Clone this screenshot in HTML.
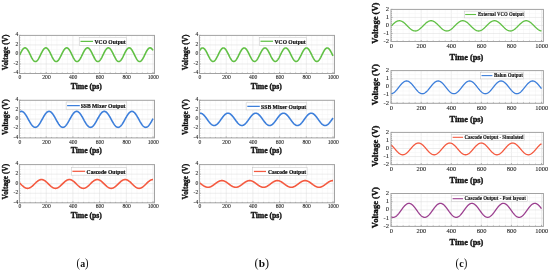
<!DOCTYPE html>
<html><head><meta charset="utf-8"><style>
html,body{margin:0;padding:0;background:#fff;}
body{width:550px;height:272px;overflow:hidden;position:relative;}
svg{position:absolute;left:0;top:0;}
svg text{font-family:"Liberation Serif", "Times New Roman", serif;}
</style></head><body>
<svg width="550" height="272" viewBox="0 0 550 272">
<line x1="24.84" y1="35.4" x2="24.84" y2="73.5" stroke="#f2f2f2" stroke-width="0.5"/>
<line x1="30.18" y1="35.4" x2="30.18" y2="73.5" stroke="#f2f2f2" stroke-width="0.5"/>
<line x1="35.52" y1="35.4" x2="35.52" y2="73.5" stroke="#f2f2f2" stroke-width="0.5"/>
<line x1="40.86" y1="35.4" x2="40.86" y2="73.5" stroke="#f2f2f2" stroke-width="0.5"/>
<line x1="46.2" y1="35.4" x2="46.2" y2="73.5" stroke="#dadada" stroke-width="0.5"/>
<line x1="51.54" y1="35.4" x2="51.54" y2="73.5" stroke="#f2f2f2" stroke-width="0.5"/>
<line x1="56.88" y1="35.4" x2="56.88" y2="73.5" stroke="#f2f2f2" stroke-width="0.5"/>
<line x1="62.22" y1="35.4" x2="62.22" y2="73.5" stroke="#f2f2f2" stroke-width="0.5"/>
<line x1="67.56" y1="35.4" x2="67.56" y2="73.5" stroke="#f2f2f2" stroke-width="0.5"/>
<line x1="72.9" y1="35.4" x2="72.9" y2="73.5" stroke="#dadada" stroke-width="0.5"/>
<line x1="78.24" y1="35.4" x2="78.24" y2="73.5" stroke="#f2f2f2" stroke-width="0.5"/>
<line x1="83.58" y1="35.4" x2="83.58" y2="73.5" stroke="#f2f2f2" stroke-width="0.5"/>
<line x1="88.92" y1="35.4" x2="88.92" y2="73.5" stroke="#f2f2f2" stroke-width="0.5"/>
<line x1="94.26" y1="35.4" x2="94.26" y2="73.5" stroke="#f2f2f2" stroke-width="0.5"/>
<line x1="99.6" y1="35.4" x2="99.6" y2="73.5" stroke="#dadada" stroke-width="0.5"/>
<line x1="104.94" y1="35.4" x2="104.94" y2="73.5" stroke="#f2f2f2" stroke-width="0.5"/>
<line x1="110.28" y1="35.4" x2="110.28" y2="73.5" stroke="#f2f2f2" stroke-width="0.5"/>
<line x1="115.62" y1="35.4" x2="115.62" y2="73.5" stroke="#f2f2f2" stroke-width="0.5"/>
<line x1="120.96" y1="35.4" x2="120.96" y2="73.5" stroke="#f2f2f2" stroke-width="0.5"/>
<line x1="126.3" y1="35.4" x2="126.3" y2="73.5" stroke="#dadada" stroke-width="0.5"/>
<line x1="131.64" y1="35.4" x2="131.64" y2="73.5" stroke="#f2f2f2" stroke-width="0.5"/>
<line x1="136.98" y1="35.4" x2="136.98" y2="73.5" stroke="#f2f2f2" stroke-width="0.5"/>
<line x1="142.32" y1="35.4" x2="142.32" y2="73.5" stroke="#f2f2f2" stroke-width="0.5"/>
<line x1="147.66" y1="35.4" x2="147.66" y2="73.5" stroke="#f2f2f2" stroke-width="0.5"/>
<line x1="153" y1="35.4" x2="153" y2="73.5" stroke="#dadada" stroke-width="0.5"/>
<line x1="19.4" y1="68.74" x2="154.5" y2="68.74" stroke="#f2f2f2" stroke-width="0.5"/>
<line x1="19.4" y1="63.98" x2="154.5" y2="63.98" stroke="#dadada" stroke-width="0.5"/>
<line x1="19.4" y1="59.21" x2="154.5" y2="59.21" stroke="#f2f2f2" stroke-width="0.5"/>
<line x1="19.4" y1="54.45" x2="154.5" y2="54.45" stroke="#dadada" stroke-width="0.5"/>
<line x1="19.4" y1="49.69" x2="154.5" y2="49.69" stroke="#f2f2f2" stroke-width="0.5"/>
<line x1="19.4" y1="44.92" x2="154.5" y2="44.92" stroke="#dadada" stroke-width="0.5"/>
<line x1="19.4" y1="40.16" x2="154.5" y2="40.16" stroke="#f2f2f2" stroke-width="0.5"/>
<line x1="19.5" y1="73.5" x2="19.5" y2="72" stroke="#777" stroke-width="0.6"/>
<line x1="24.84" y1="73.5" x2="24.84" y2="72.6" stroke="#777" stroke-width="0.6"/>
<line x1="30.18" y1="73.5" x2="30.18" y2="72.6" stroke="#777" stroke-width="0.6"/>
<line x1="35.52" y1="73.5" x2="35.52" y2="72.6" stroke="#777" stroke-width="0.6"/>
<line x1="40.86" y1="73.5" x2="40.86" y2="72.6" stroke="#777" stroke-width="0.6"/>
<line x1="46.2" y1="73.5" x2="46.2" y2="72" stroke="#777" stroke-width="0.6"/>
<line x1="51.54" y1="73.5" x2="51.54" y2="72.6" stroke="#777" stroke-width="0.6"/>
<line x1="56.88" y1="73.5" x2="56.88" y2="72.6" stroke="#777" stroke-width="0.6"/>
<line x1="62.22" y1="73.5" x2="62.22" y2="72.6" stroke="#777" stroke-width="0.6"/>
<line x1="67.56" y1="73.5" x2="67.56" y2="72.6" stroke="#777" stroke-width="0.6"/>
<line x1="72.9" y1="73.5" x2="72.9" y2="72" stroke="#777" stroke-width="0.6"/>
<line x1="78.24" y1="73.5" x2="78.24" y2="72.6" stroke="#777" stroke-width="0.6"/>
<line x1="83.58" y1="73.5" x2="83.58" y2="72.6" stroke="#777" stroke-width="0.6"/>
<line x1="88.92" y1="73.5" x2="88.92" y2="72.6" stroke="#777" stroke-width="0.6"/>
<line x1="94.26" y1="73.5" x2="94.26" y2="72.6" stroke="#777" stroke-width="0.6"/>
<line x1="99.6" y1="73.5" x2="99.6" y2="72" stroke="#777" stroke-width="0.6"/>
<line x1="104.94" y1="73.5" x2="104.94" y2="72.6" stroke="#777" stroke-width="0.6"/>
<line x1="110.28" y1="73.5" x2="110.28" y2="72.6" stroke="#777" stroke-width="0.6"/>
<line x1="115.62" y1="73.5" x2="115.62" y2="72.6" stroke="#777" stroke-width="0.6"/>
<line x1="120.96" y1="73.5" x2="120.96" y2="72.6" stroke="#777" stroke-width="0.6"/>
<line x1="126.3" y1="73.5" x2="126.3" y2="72" stroke="#777" stroke-width="0.6"/>
<line x1="131.64" y1="73.5" x2="131.64" y2="72.6" stroke="#777" stroke-width="0.6"/>
<line x1="136.98" y1="73.5" x2="136.98" y2="72.6" stroke="#777" stroke-width="0.6"/>
<line x1="142.32" y1="73.5" x2="142.32" y2="72.6" stroke="#777" stroke-width="0.6"/>
<line x1="147.66" y1="73.5" x2="147.66" y2="72.6" stroke="#777" stroke-width="0.6"/>
<line x1="153" y1="73.5" x2="153" y2="72" stroke="#777" stroke-width="0.6"/>
<line x1="19.4" y1="73.5" x2="20.9" y2="73.5" stroke="#777" stroke-width="0.6"/>
<line x1="19.4" y1="71.12" x2="20.3" y2="71.12" stroke="#777" stroke-width="0.6"/>
<line x1="19.4" y1="68.74" x2="20.3" y2="68.74" stroke="#777" stroke-width="0.6"/>
<line x1="19.4" y1="66.36" x2="20.3" y2="66.36" stroke="#777" stroke-width="0.6"/>
<line x1="19.4" y1="63.98" x2="20.9" y2="63.98" stroke="#777" stroke-width="0.6"/>
<line x1="19.4" y1="61.59" x2="20.3" y2="61.59" stroke="#777" stroke-width="0.6"/>
<line x1="19.4" y1="59.21" x2="20.3" y2="59.21" stroke="#777" stroke-width="0.6"/>
<line x1="19.4" y1="56.83" x2="20.3" y2="56.83" stroke="#777" stroke-width="0.6"/>
<line x1="19.4" y1="54.45" x2="20.9" y2="54.45" stroke="#777" stroke-width="0.6"/>
<line x1="19.4" y1="52.07" x2="20.3" y2="52.07" stroke="#777" stroke-width="0.6"/>
<line x1="19.4" y1="49.69" x2="20.3" y2="49.69" stroke="#777" stroke-width="0.6"/>
<line x1="19.4" y1="47.31" x2="20.3" y2="47.31" stroke="#777" stroke-width="0.6"/>
<line x1="19.4" y1="44.92" x2="20.9" y2="44.92" stroke="#777" stroke-width="0.6"/>
<line x1="19.4" y1="42.54" x2="20.3" y2="42.54" stroke="#777" stroke-width="0.6"/>
<line x1="19.4" y1="40.16" x2="20.3" y2="40.16" stroke="#777" stroke-width="0.6"/>
<line x1="19.4" y1="37.78" x2="20.3" y2="37.78" stroke="#777" stroke-width="0.6"/>
<line x1="19.4" y1="35.4" x2="20.9" y2="35.4" stroke="#777" stroke-width="0.6"/>
<polyline points="19.5,55.3 19.77,54.75 20.03,54.2 20.3,53.65 20.57,53.11 20.84,52.57 21.1,52.06 21.37,51.56 21.64,51.08 21.9,50.62 22.17,50.19 22.44,49.79 22.7,49.42 22.97,49.09 23.24,48.79 23.5,48.53 23.77,48.31 24.04,48.13 24.31,47.99 24.57,47.9 24.84,47.85 25.11,47.85 25.37,47.89 25.64,47.97 25.91,48.1 26.18,48.27 26.44,48.48 26.71,48.73 26.98,49.02 27.24,49.35 27.51,49.71 27.78,50.11 28.04,50.53 28.31,50.98 28.58,51.46 28.84,51.96 29.11,52.47 29.38,53 29.65,53.54 29.91,54.09 30.18,54.64 30.45,55.19 30.71,55.74 30.98,56.28 31.25,56.81 31.52,57.33 31.78,57.83 32.05,58.31 32.32,58.77 32.58,59.2 32.85,59.6 33.12,59.97 33.38,60.31 33.65,60.61 33.92,60.87 34.19,61.09 34.45,61.27 34.72,61.41 34.99,61.5 35.25,61.55 35.52,61.55 35.79,61.52 36.05,61.43 36.32,61.31 36.59,61.14 36.86,60.93 37.12,60.67 37.39,60.38 37.66,60.06 37.92,59.7 38.19,59.3 38.46,58.88 38.72,58.43 38.99,57.95 39.26,57.46 39.52,56.94 39.79,56.41 40.06,55.87 40.33,55.33 40.59,54.78 40.86,54.22 41.13,53.68 41.39,53.13 41.66,52.6 41.93,52.08 42.2,51.58 42.46,51.1 42.73,50.64 43,50.21 43.26,49.81 43.53,49.44 43.8,49.1 44.06,48.8 44.33,48.54 44.6,48.32 44.86,48.14 45.13,48 45.4,47.9 45.67,47.85 45.93,47.84 46.2,47.88 46.47,47.96 46.73,48.09 47,48.26 47.27,48.47 47.53,48.72 47.8,49.01 48.07,49.33 48.34,49.69 48.6,50.09 48.87,50.51 49.14,50.96 49.4,51.43 49.67,51.93 49.94,52.44 50.2,52.97 50.47,53.51 50.74,54.06 51.01,54.61 51.27,55.16 51.54,55.71 51.81,56.25 52.07,56.78 52.34,57.3 52.61,57.8 52.88,58.29 53.14,58.74 53.41,59.18 53.68,59.58 53.94,59.95 54.21,60.29 54.48,60.59 54.74,60.85 55.01,61.08 55.28,61.26 55.55,61.4 55.81,61.5 56.08,61.55 56.35,61.56 56.61,61.52 56.88,61.44 57.15,61.31 57.41,61.15 57.68,60.94 57.95,60.69 58.22,60.4 58.48,60.08 58.75,59.72 59.02,59.32 59.28,58.9 59.55,58.45 59.82,57.98 60.08,57.48 60.35,56.97 60.62,56.44 60.88,55.9 61.15,55.36 61.42,54.81 61.69,54.25 61.95,53.7 62.22,53.16 62.49,52.63 62.75,52.11 63.02,51.61 63.29,51.13 63.55,50.67 63.82,50.23 64.09,49.83 64.36,49.46 64.62,49.12 64.89,48.82 65.16,48.55 65.42,48.33 65.69,48.14 65.96,48 66.22,47.91 66.49,47.85 66.76,47.84 67.03,47.88 67.29,47.96 67.56,48.08 67.83,48.25 68.09,48.46 68.36,48.7 68.63,48.99 68.9,49.32 69.16,49.67 69.43,50.07 69.7,50.49 69.96,50.94 70.23,51.41 70.5,51.9 70.76,52.42 71.03,52.94 71.3,53.48 71.56,54.03 71.83,54.58 72.1,55.13 72.37,55.68 72.63,56.22 72.9,56.76 73.17,57.28 73.43,57.78 73.7,58.26 73.97,58.72 74.23,59.15 74.5,59.56 74.77,59.93 75.04,60.27 75.3,60.58 75.57,60.84 75.84,61.07 76.1,61.25 76.37,61.39 76.64,61.49 76.91,61.55 77.17,61.56 77.44,61.52 77.71,61.44 77.97,61.32 78.24,61.16 78.51,60.95 78.77,60.7 79.04,60.42 79.31,60.09 79.58,59.74 79.84,59.34 80.11,58.92 80.38,58.48 80.64,58 80.91,57.51 81.18,57 81.44,56.47 81.71,55.93 81.98,55.39 82.25,54.83 82.51,54.28 82.78,53.73 83.05,53.19 83.31,52.66 83.58,52.14 83.85,51.63 84.11,51.15 84.38,50.69 84.65,50.26 84.92,49.85 85.18,49.48 85.45,49.14 85.72,48.83 85.98,48.57 86.25,48.34 86.52,48.15 86.78,48.01 87.05,47.91 87.32,47.85 87.58,47.84 87.85,47.88 88.12,47.95 88.39,48.07 88.65,48.24 88.92,48.44 89.19,48.69 89.45,48.98 89.72,49.3 89.99,49.65 90.25,50.04 90.52,50.46 90.79,50.91 91.06,51.38 91.32,51.88 91.59,52.39 91.86,52.92 92.12,53.45 92.39,54 92.66,54.55 92.92,55.1 93.19,55.65 93.46,56.2 93.73,56.73 93.99,57.25 94.26,57.75 94.53,58.24 94.79,58.7 95.06,59.13 95.33,59.54 95.59,59.91 95.86,60.26 96.13,60.56 96.4,60.83 96.66,61.06 96.93,61.24 97.2,61.39 97.46,61.49 97.73,61.54 98,61.56 98.27,61.53 98.53,61.45 98.8,61.33 99.07,61.17 99.33,60.96 99.6,60.72 99.87,60.43 100.13,60.11 100.4,59.76 100.67,59.37 100.94,58.95 101.2,58.5 101.47,58.03 101.74,57.54 102,57.02 102.27,56.5 102.54,55.96 102.8,55.41 103.07,54.86 103.34,54.31 103.61,53.76 103.87,53.22 104.14,52.69 104.41,52.16 104.67,51.66 104.94,51.18 105.21,50.71 105.47,50.28 105.74,49.87 106.01,49.5 106.28,49.15 106.54,48.85 106.81,48.58 107.08,48.35 107.34,48.16 107.61,48.02 107.88,47.91 108.14,47.86 108.41,47.84 108.68,47.87 108.94,47.95 109.21,48.07 109.48,48.23 109.75,48.43 110.01,48.68 110.28,48.96 110.55,49.28 110.81,49.63 111.08,50.02 111.35,50.44 111.61,50.89 111.88,51.36 112.15,51.85 112.42,52.36 112.68,52.89 112.95,53.43 113.22,53.97 113.48,54.52 113.75,55.07 114.02,55.62 114.28,56.17 114.55,56.7 114.82,57.22 115.09,57.73 115.35,58.21 115.62,58.67 115.89,59.11 116.15,59.52 116.42,59.9 116.69,60.24 116.95,60.55 117.22,60.82 117.49,61.05 117.76,61.23 118.02,61.38 118.29,61.48 118.56,61.54 118.82,61.56 119.09,61.53 119.36,61.45 119.62,61.34 119.89,61.18 120.16,60.97 120.43,60.73 120.69,60.45 120.96,60.13 121.23,59.77 121.49,59.39 121.76,58.97 122.03,58.52 122.3,58.05 122.56,57.56 122.83,57.05 123.1,56.53 123.36,55.99 123.63,55.44 123.9,54.89 124.16,54.34 124.43,53.79 124.7,53.25 124.97,52.71 125.23,52.19 125.5,51.69 125.77,51.2 126.03,50.74 126.3,50.3 126.57,49.89 126.83,49.51 127.1,49.17 127.37,48.86 127.64,48.59 127.9,48.36 128.17,48.17 128.44,48.02 128.7,47.92 128.97,47.86 129.24,47.84 129.5,47.87 129.77,47.94 130.04,48.06 130.31,48.22 130.57,48.42 130.84,48.66 131.11,48.94 131.37,49.26 131.64,49.62 131.91,50 132.17,50.42 132.44,50.86 132.71,51.33 132.97,51.82 133.24,52.33 133.51,52.86 133.78,53.4 134.04,53.94 134.31,54.49 134.58,55.05 134.84,55.59 135.11,56.14 135.38,56.67 135.64,57.19 135.91,57.7 136.18,58.19 136.45,58.65 136.71,59.09 136.98,59.5 137.25,59.88 137.51,60.22 137.78,60.53 138.05,60.8 138.31,61.03 138.58,61.22 138.85,61.37 139.12,61.48 139.38,61.54 139.65,61.56 139.92,61.53 140.18,61.46 140.45,61.34 140.72,61.19 140.99,60.99 141.25,60.74 141.52,60.46 141.79,60.15 142.05,59.79 142.32,59.41 142.59,58.99 142.85,58.55 143.12,58.08 143.39,57.59 143.66,57.08 143.92,56.55 144.19,56.02 144.46,55.47 144.72,54.92 144.99,54.37 145.26,53.82 145.52,53.28 145.79,52.74 146.06,52.22 146.32,51.71 146.59,51.23 146.86,50.76 147.13,50.32 147.39,49.91 147.66,49.53 147.93,49.19 148.19,48.88 148.46,48.6 148.73,48.37 149,48.18 149.26,48.03 149.53,47.92 149.8,47.86 150.06,47.84 150.33,47.87 150.6,47.94 150.86,48.05 151.13,48.21 151.4,48.41 151.66,48.65 151.93,48.93 152.2,49.24 152.47,49.6 152.73,49.98 153,50.4" fill="none" stroke="#61c045" stroke-width="1.6" stroke-linejoin="round" stroke-linecap="butt"/>
<rect x="19.4" y="35.4" width="135.1" height="38.1" fill="none" stroke="#a2a2a2" stroke-width="1.0"/>
<rect x="79.6" y="37.3" width="46.9" height="8.2" fill="#fff" stroke="#c4c4c4" stroke-width="0.5"/>
<line x1="80.5" y1="41.4" x2="93" y2="41.4" stroke="#61c045" stroke-width="1.25"/>
<text x="94.6" y="43.75" font-size="5.6" font-weight="bold" textLength="31.1" lengthAdjust="spacingAndGlyphs" fill="#111" stroke="#111" stroke-width="0.2">VCO Output</text>
<text x="18.2" y="74.35" font-size="5.6" text-anchor="end" fill="#1a1a1a" stroke="#1a1a1a" stroke-width="0.08">-4</text>
<text x="18.2" y="64.82" font-size="5.6" text-anchor="end" fill="#1a1a1a" stroke="#1a1a1a" stroke-width="0.08">-2</text>
<text x="18.2" y="55.3" font-size="5.6" text-anchor="end" fill="#1a1a1a" stroke="#1a1a1a" stroke-width="0.08">0</text>
<text x="18.2" y="45.77" font-size="5.6" text-anchor="end" fill="#1a1a1a" stroke="#1a1a1a" stroke-width="0.08">2</text>
<text x="18.2" y="36.25" font-size="5.6" text-anchor="end" fill="#1a1a1a" stroke="#1a1a1a" stroke-width="0.08">4</text>
<text x="19.8" y="79.1" font-size="5.6" text-anchor="middle" fill="#1a1a1a" stroke="#1a1a1a" stroke-width="0.08">0</text>
<text x="46.5" y="79.1" font-size="5.6" text-anchor="middle" fill="#1a1a1a" stroke="#1a1a1a" stroke-width="0.08">200</text>
<text x="73.2" y="79.1" font-size="5.6" text-anchor="middle" fill="#1a1a1a" stroke="#1a1a1a" stroke-width="0.08">400</text>
<text x="99.9" y="79.1" font-size="5.6" text-anchor="middle" fill="#1a1a1a" stroke="#1a1a1a" stroke-width="0.08">600</text>
<text x="126.6" y="79.1" font-size="5.6" text-anchor="middle" fill="#1a1a1a" stroke="#1a1a1a" stroke-width="0.08">800</text>
<text x="153.3" y="79.1" font-size="5.6" text-anchor="middle" fill="#1a1a1a" stroke="#1a1a1a" stroke-width="0.08">1000</text>
<text x="86.3" y="88.8" font-size="7.7" font-weight="bold" text-anchor="middle" fill="#111" stroke="#111" stroke-width="0.35">Time (ps)</text>
<text transform="translate(8.15,52.4) rotate(-90)" font-size="7.42" font-weight="bold" text-anchor="middle" fill="#111" stroke="#111" stroke-width="0.35">Voltage (V)</text>
<line x1="24.84" y1="100.3" x2="24.84" y2="137.9" stroke="#f2f2f2" stroke-width="0.5"/>
<line x1="30.18" y1="100.3" x2="30.18" y2="137.9" stroke="#f2f2f2" stroke-width="0.5"/>
<line x1="35.52" y1="100.3" x2="35.52" y2="137.9" stroke="#f2f2f2" stroke-width="0.5"/>
<line x1="40.86" y1="100.3" x2="40.86" y2="137.9" stroke="#f2f2f2" stroke-width="0.5"/>
<line x1="46.2" y1="100.3" x2="46.2" y2="137.9" stroke="#dadada" stroke-width="0.5"/>
<line x1="51.54" y1="100.3" x2="51.54" y2="137.9" stroke="#f2f2f2" stroke-width="0.5"/>
<line x1="56.88" y1="100.3" x2="56.88" y2="137.9" stroke="#f2f2f2" stroke-width="0.5"/>
<line x1="62.22" y1="100.3" x2="62.22" y2="137.9" stroke="#f2f2f2" stroke-width="0.5"/>
<line x1="67.56" y1="100.3" x2="67.56" y2="137.9" stroke="#f2f2f2" stroke-width="0.5"/>
<line x1="72.9" y1="100.3" x2="72.9" y2="137.9" stroke="#dadada" stroke-width="0.5"/>
<line x1="78.24" y1="100.3" x2="78.24" y2="137.9" stroke="#f2f2f2" stroke-width="0.5"/>
<line x1="83.58" y1="100.3" x2="83.58" y2="137.9" stroke="#f2f2f2" stroke-width="0.5"/>
<line x1="88.92" y1="100.3" x2="88.92" y2="137.9" stroke="#f2f2f2" stroke-width="0.5"/>
<line x1="94.26" y1="100.3" x2="94.26" y2="137.9" stroke="#f2f2f2" stroke-width="0.5"/>
<line x1="99.6" y1="100.3" x2="99.6" y2="137.9" stroke="#dadada" stroke-width="0.5"/>
<line x1="104.94" y1="100.3" x2="104.94" y2="137.9" stroke="#f2f2f2" stroke-width="0.5"/>
<line x1="110.28" y1="100.3" x2="110.28" y2="137.9" stroke="#f2f2f2" stroke-width="0.5"/>
<line x1="115.62" y1="100.3" x2="115.62" y2="137.9" stroke="#f2f2f2" stroke-width="0.5"/>
<line x1="120.96" y1="100.3" x2="120.96" y2="137.9" stroke="#f2f2f2" stroke-width="0.5"/>
<line x1="126.3" y1="100.3" x2="126.3" y2="137.9" stroke="#dadada" stroke-width="0.5"/>
<line x1="131.64" y1="100.3" x2="131.64" y2="137.9" stroke="#f2f2f2" stroke-width="0.5"/>
<line x1="136.98" y1="100.3" x2="136.98" y2="137.9" stroke="#f2f2f2" stroke-width="0.5"/>
<line x1="142.32" y1="100.3" x2="142.32" y2="137.9" stroke="#f2f2f2" stroke-width="0.5"/>
<line x1="147.66" y1="100.3" x2="147.66" y2="137.9" stroke="#f2f2f2" stroke-width="0.5"/>
<line x1="153" y1="100.3" x2="153" y2="137.9" stroke="#dadada" stroke-width="0.5"/>
<line x1="19.4" y1="133.2" x2="154.5" y2="133.2" stroke="#f2f2f2" stroke-width="0.5"/>
<line x1="19.4" y1="128.5" x2="154.5" y2="128.5" stroke="#dadada" stroke-width="0.5"/>
<line x1="19.4" y1="123.8" x2="154.5" y2="123.8" stroke="#f2f2f2" stroke-width="0.5"/>
<line x1="19.4" y1="119.1" x2="154.5" y2="119.1" stroke="#dadada" stroke-width="0.5"/>
<line x1="19.4" y1="114.4" x2="154.5" y2="114.4" stroke="#f2f2f2" stroke-width="0.5"/>
<line x1="19.4" y1="109.7" x2="154.5" y2="109.7" stroke="#dadada" stroke-width="0.5"/>
<line x1="19.4" y1="105" x2="154.5" y2="105" stroke="#f2f2f2" stroke-width="0.5"/>
<line x1="19.5" y1="137.9" x2="19.5" y2="136.4" stroke="#777" stroke-width="0.6"/>
<line x1="24.84" y1="137.9" x2="24.84" y2="137" stroke="#777" stroke-width="0.6"/>
<line x1="30.18" y1="137.9" x2="30.18" y2="137" stroke="#777" stroke-width="0.6"/>
<line x1="35.52" y1="137.9" x2="35.52" y2="137" stroke="#777" stroke-width="0.6"/>
<line x1="40.86" y1="137.9" x2="40.86" y2="137" stroke="#777" stroke-width="0.6"/>
<line x1="46.2" y1="137.9" x2="46.2" y2="136.4" stroke="#777" stroke-width="0.6"/>
<line x1="51.54" y1="137.9" x2="51.54" y2="137" stroke="#777" stroke-width="0.6"/>
<line x1="56.88" y1="137.9" x2="56.88" y2="137" stroke="#777" stroke-width="0.6"/>
<line x1="62.22" y1="137.9" x2="62.22" y2="137" stroke="#777" stroke-width="0.6"/>
<line x1="67.56" y1="137.9" x2="67.56" y2="137" stroke="#777" stroke-width="0.6"/>
<line x1="72.9" y1="137.9" x2="72.9" y2="136.4" stroke="#777" stroke-width="0.6"/>
<line x1="78.24" y1="137.9" x2="78.24" y2="137" stroke="#777" stroke-width="0.6"/>
<line x1="83.58" y1="137.9" x2="83.58" y2="137" stroke="#777" stroke-width="0.6"/>
<line x1="88.92" y1="137.9" x2="88.92" y2="137" stroke="#777" stroke-width="0.6"/>
<line x1="94.26" y1="137.9" x2="94.26" y2="137" stroke="#777" stroke-width="0.6"/>
<line x1="99.6" y1="137.9" x2="99.6" y2="136.4" stroke="#777" stroke-width="0.6"/>
<line x1="104.94" y1="137.9" x2="104.94" y2="137" stroke="#777" stroke-width="0.6"/>
<line x1="110.28" y1="137.9" x2="110.28" y2="137" stroke="#777" stroke-width="0.6"/>
<line x1="115.62" y1="137.9" x2="115.62" y2="137" stroke="#777" stroke-width="0.6"/>
<line x1="120.96" y1="137.9" x2="120.96" y2="137" stroke="#777" stroke-width="0.6"/>
<line x1="126.3" y1="137.9" x2="126.3" y2="136.4" stroke="#777" stroke-width="0.6"/>
<line x1="131.64" y1="137.9" x2="131.64" y2="137" stroke="#777" stroke-width="0.6"/>
<line x1="136.98" y1="137.9" x2="136.98" y2="137" stroke="#777" stroke-width="0.6"/>
<line x1="142.32" y1="137.9" x2="142.32" y2="137" stroke="#777" stroke-width="0.6"/>
<line x1="147.66" y1="137.9" x2="147.66" y2="137" stroke="#777" stroke-width="0.6"/>
<line x1="153" y1="137.9" x2="153" y2="136.4" stroke="#777" stroke-width="0.6"/>
<line x1="19.4" y1="137.9" x2="20.9" y2="137.9" stroke="#777" stroke-width="0.6"/>
<line x1="19.4" y1="135.55" x2="20.3" y2="135.55" stroke="#777" stroke-width="0.6"/>
<line x1="19.4" y1="133.2" x2="20.3" y2="133.2" stroke="#777" stroke-width="0.6"/>
<line x1="19.4" y1="130.85" x2="20.3" y2="130.85" stroke="#777" stroke-width="0.6"/>
<line x1="19.4" y1="128.5" x2="20.9" y2="128.5" stroke="#777" stroke-width="0.6"/>
<line x1="19.4" y1="126.15" x2="20.3" y2="126.15" stroke="#777" stroke-width="0.6"/>
<line x1="19.4" y1="123.8" x2="20.3" y2="123.8" stroke="#777" stroke-width="0.6"/>
<line x1="19.4" y1="121.45" x2="20.3" y2="121.45" stroke="#777" stroke-width="0.6"/>
<line x1="19.4" y1="119.1" x2="20.9" y2="119.1" stroke="#777" stroke-width="0.6"/>
<line x1="19.4" y1="116.75" x2="20.3" y2="116.75" stroke="#777" stroke-width="0.6"/>
<line x1="19.4" y1="114.4" x2="20.3" y2="114.4" stroke="#777" stroke-width="0.6"/>
<line x1="19.4" y1="112.05" x2="20.3" y2="112.05" stroke="#777" stroke-width="0.6"/>
<line x1="19.4" y1="109.7" x2="20.9" y2="109.7" stroke="#777" stroke-width="0.6"/>
<line x1="19.4" y1="107.35" x2="20.3" y2="107.35" stroke="#777" stroke-width="0.6"/>
<line x1="19.4" y1="105" x2="20.3" y2="105" stroke="#777" stroke-width="0.6"/>
<line x1="19.4" y1="102.65" x2="20.3" y2="102.65" stroke="#777" stroke-width="0.6"/>
<line x1="19.4" y1="100.3" x2="20.9" y2="100.3" stroke="#777" stroke-width="0.6"/>
<polyline points="19.5,112.12 19.77,111.92 20.03,111.76 20.3,111.62 20.57,111.51 20.84,111.43 21.1,111.38 21.37,111.36 21.64,111.37 21.9,111.41 22.17,111.47 22.44,111.57 22.7,111.69 22.97,111.85 23.24,112.03 23.5,112.23 23.77,112.47 24.04,112.73 24.31,113.01 24.57,113.32 24.84,113.65 25.11,114 25.37,114.37 25.64,114.75 25.91,115.16 26.18,115.58 26.44,116.01 26.71,116.46 26.98,116.92 27.24,117.39 27.51,117.86 27.78,118.34 28.04,118.82 28.31,119.31 28.58,119.79 28.84,120.27 29.11,120.75 29.38,121.23 29.65,121.7 29.91,122.16 30.18,122.61 30.45,123.04 30.71,123.47 30.98,123.87 31.25,124.27 31.52,124.64 31.78,124.99 32.05,125.33 32.32,125.64 32.58,125.92 32.85,126.19 33.12,126.43 33.38,126.64 33.65,126.82 33.92,126.98 34.19,127.11 34.45,127.21 34.72,127.28 34.99,127.33 35.25,127.34 35.52,127.32 35.79,127.28 36.05,127.2 36.32,127.1 36.59,126.97 36.86,126.81 37.12,126.62 37.39,126.4 37.66,126.16 37.92,125.9 38.19,125.61 38.46,125.29 38.72,124.96 38.99,124.6 39.26,124.23 39.52,123.84 39.79,123.43 40.06,123 40.33,122.56 40.59,122.11 40.86,121.65 41.13,121.18 41.39,120.71 41.66,120.23 41.93,119.74 42.2,119.26 42.46,118.77 42.73,118.29 43,117.81 43.26,117.34 43.53,116.87 43.8,116.42 44.06,115.97 44.33,115.54 44.6,115.12 44.86,114.72 45.13,114.33 45.4,113.96 45.67,113.61 45.93,113.29 46.2,112.98 46.47,112.7 46.73,112.44 47,112.21 47.27,112.01 47.53,111.83 47.8,111.68 48.07,111.56 48.34,111.47 48.6,111.4 48.87,111.37 49.14,111.36 49.4,111.39 49.67,111.44 49.94,111.52 50.2,111.63 50.47,111.77 50.74,111.94 51.01,112.14 51.27,112.36 51.54,112.61 51.81,112.88 52.07,113.18 52.34,113.5 52.61,113.84 52.88,114.2 53.14,114.58 53.41,114.98 53.68,115.39 53.94,115.82 54.21,116.26 54.48,116.71 54.74,117.18 55.01,117.65 55.28,118.12 55.55,118.61 55.81,119.09 56.08,119.58 56.35,120.06 56.61,120.54 56.88,121.02 57.15,121.49 57.41,121.95 57.68,122.41 57.95,122.85 58.22,123.28 58.48,123.69 58.75,124.09 59.02,124.47 59.28,124.84 59.55,125.18 59.82,125.5 60.08,125.8 60.35,126.07 60.62,126.32 60.88,126.55 61.15,126.74 61.42,126.91 61.69,127.06 61.95,127.17 62.22,127.26 62.49,127.31 62.75,127.34 63.02,127.33 63.29,127.3 63.55,127.24 63.82,127.15 64.09,127.03 64.36,126.88 64.62,126.71 64.89,126.5 65.16,126.27 65.42,126.02 65.69,125.74 65.96,125.44 66.22,125.11 66.49,124.76 66.76,124.4 67.03,124.01 67.29,123.61 67.56,123.19 67.83,122.76 68.09,122.31 68.36,121.86 68.63,121.39 68.9,120.92 69.16,120.44 69.43,119.96 69.7,119.48 69.96,118.99 70.23,118.51 70.5,118.03 70.76,117.55 71.03,117.08 71.3,116.62 71.56,116.17 71.83,115.73 72.1,115.3 72.37,114.89 72.63,114.5 72.9,114.12 73.17,113.77 73.43,113.43 73.7,113.11 73.97,112.82 74.23,112.55 74.5,112.31 74.77,112.1 75.04,111.91 75.3,111.74 75.57,111.61 75.84,111.5 76.1,111.43 76.37,111.38 76.64,111.36 76.91,111.37 77.17,111.41 77.44,111.48 77.71,111.58 77.97,111.71 78.24,111.86 78.51,112.05 78.77,112.26 79.04,112.49 79.31,112.76 79.58,113.04 79.84,113.35 80.11,113.68 80.38,114.04 80.64,114.41 80.91,114.8 81.18,115.2 81.44,115.63 81.71,116.06 81.98,116.51 82.25,116.97 82.51,117.44 82.78,117.91 83.05,118.39 83.31,118.87 83.58,119.36 83.85,119.84 84.11,120.33 84.38,120.81 84.65,121.28 84.92,121.75 85.18,122.21 85.45,122.65 85.72,123.09 85.98,123.51 86.25,123.92 86.52,124.31 86.78,124.68 87.05,125.03 87.32,125.36 87.58,125.67 87.85,125.95 88.12,126.21 88.39,126.45 88.65,126.66 88.92,126.84 89.19,127 89.45,127.12 89.72,127.22 89.99,127.29 90.25,127.33 90.52,127.34 90.79,127.32 91.06,127.27 91.32,127.19 91.59,127.09 91.86,126.95 92.12,126.79 92.39,126.6 92.66,126.38 92.92,126.14 93.19,125.87 93.46,125.57 93.73,125.26 93.99,124.92 94.26,124.56 94.53,124.19 94.79,123.79 95.06,123.38 95.33,122.95 95.59,122.51 95.86,122.06 96.13,121.6 96.4,121.13 96.66,120.66 96.93,120.18 97.2,119.69 97.46,119.21 97.73,118.72 98,118.24 98.27,117.76 98.53,117.29 98.8,116.82 99.07,116.37 99.33,115.92 99.6,115.49 99.87,115.07 100.13,114.67 100.4,114.29 100.67,113.92 100.94,113.58 101.2,113.25 101.47,112.95 101.74,112.67 102,112.42 102.27,112.19 102.54,111.99 102.8,111.81 103.07,111.67 103.34,111.55 103.61,111.46 103.87,111.4 104.14,111.36 104.41,111.36 104.67,111.39 104.94,111.45 105.21,111.53 105.47,111.65 105.74,111.79 106.01,111.96 106.28,112.16 106.54,112.39 106.81,112.64 107.08,112.91 107.34,113.21 107.61,113.53 107.88,113.88 108.14,114.24 108.41,114.62 108.68,115.02 108.94,115.44 109.21,115.87 109.48,116.31 109.75,116.76 110.01,117.23 110.28,117.7 110.55,118.18 110.81,118.66 111.08,119.14 111.35,119.63 111.61,120.11 111.88,120.59 112.15,121.07 112.42,121.54 112.68,122 112.95,122.46 113.22,122.9 113.48,123.33 113.75,123.74 114.02,124.14 114.28,124.52 114.55,124.88 114.82,125.22 115.09,125.53 115.35,125.83 115.62,126.1 115.89,126.35 116.15,126.57 116.42,126.76 116.69,126.93 116.95,127.07 117.22,127.18 117.49,127.26 117.76,127.32 118.02,127.34 118.29,127.33 118.56,127.3 118.82,127.23 119.09,127.14 119.36,127.02 119.62,126.86 119.89,126.69 120.16,126.48 120.43,126.25 120.69,125.99 120.96,125.71 121.23,125.4 121.49,125.07 121.76,124.73 122.03,124.36 122.3,123.97 122.56,123.57 122.83,123.15 123.1,122.71 123.36,122.27 123.63,121.81 123.9,121.34 124.16,120.87 124.43,120.39 124.7,119.91 124.97,119.42 125.23,118.94 125.5,118.45 125.77,117.97 126.03,117.5 126.3,117.03 126.57,116.57 126.83,116.12 127.1,115.68 127.37,115.26 127.64,114.85 127.9,114.46 128.17,114.08 128.44,113.73 128.7,113.39 128.97,113.08 129.24,112.79 129.5,112.53 129.77,112.29 130.04,112.07 130.31,111.89 130.57,111.73 130.84,111.6 131.11,111.49 131.37,111.42 131.64,111.38 131.91,111.36 132.17,111.37 132.44,111.42 132.71,111.49 132.97,111.59 133.24,111.72 133.51,111.88 133.78,112.07 134.04,112.28 134.31,112.52 134.58,112.79 134.84,113.07 135.11,113.39 135.38,113.72 135.64,114.07 135.91,114.45 136.18,114.84 136.45,115.25 136.71,115.67 136.98,116.11 137.25,116.56 137.51,117.02 137.78,117.49 138.05,117.96 138.31,118.44 138.58,118.93 138.85,119.41 139.12,119.9 139.38,120.38 139.65,120.86 139.92,121.33 140.18,121.8 140.45,122.26 140.72,122.7 140.99,123.14 141.25,123.56 141.52,123.96 141.79,124.35 142.05,124.72 142.32,125.07 142.59,125.4 142.85,125.7 143.12,125.98 143.39,126.24 143.66,126.47 143.92,126.68 144.19,126.86 144.46,127.01 144.72,127.14 144.99,127.23 145.26,127.3 145.52,127.33 145.79,127.34 146.06,127.32 146.32,127.26 146.59,127.18 146.86,127.07 147.13,126.93 147.39,126.77 147.66,126.57 147.93,126.35 148.19,126.11 148.46,125.84 148.73,125.54 149,125.22 149.26,124.88 149.53,124.52 149.8,124.14 150.06,123.75 150.33,123.33 150.6,122.91 150.86,122.47 151.13,122.01 151.4,121.55 151.66,121.08 151.93,120.6 152.2,120.12 152.47,119.64 152.73,119.15 153,118.67" fill="none" stroke="#3d7fdb" stroke-width="1.6" stroke-linejoin="round" stroke-linecap="butt"/>
<rect x="19.4" y="100.3" width="135.1" height="37.6" fill="none" stroke="#a2a2a2" stroke-width="1.0"/>
<rect x="66.1" y="102" width="60.7" height="7.2" fill="#fff" stroke="#c4c4c4" stroke-width="0.5"/>
<line x1="67.1" y1="105.6" x2="79.8" y2="105.6" stroke="#3d7fdb" stroke-width="1.25"/>
<text x="80.7" y="107.95" font-size="5.6" font-weight="bold" textLength="44.8" lengthAdjust="spacingAndGlyphs" fill="#111" stroke="#111" stroke-width="0.2">SSB Mixer Output</text>
<text x="18.2" y="138.75" font-size="5.6" text-anchor="end" fill="#1a1a1a" stroke="#1a1a1a" stroke-width="0.08">-4</text>
<text x="18.2" y="129.35" font-size="5.6" text-anchor="end" fill="#1a1a1a" stroke="#1a1a1a" stroke-width="0.08">-2</text>
<text x="18.2" y="119.95" font-size="5.6" text-anchor="end" fill="#1a1a1a" stroke="#1a1a1a" stroke-width="0.08">0</text>
<text x="18.2" y="110.55" font-size="5.6" text-anchor="end" fill="#1a1a1a" stroke="#1a1a1a" stroke-width="0.08">2</text>
<text x="18.2" y="101.15" font-size="5.6" text-anchor="end" fill="#1a1a1a" stroke="#1a1a1a" stroke-width="0.08">4</text>
<text x="19.8" y="143.5" font-size="5.6" text-anchor="middle" fill="#1a1a1a" stroke="#1a1a1a" stroke-width="0.08">0</text>
<text x="46.5" y="143.5" font-size="5.6" text-anchor="middle" fill="#1a1a1a" stroke="#1a1a1a" stroke-width="0.08">200</text>
<text x="73.2" y="143.5" font-size="5.6" text-anchor="middle" fill="#1a1a1a" stroke="#1a1a1a" stroke-width="0.08">400</text>
<text x="99.9" y="143.5" font-size="5.6" text-anchor="middle" fill="#1a1a1a" stroke="#1a1a1a" stroke-width="0.08">600</text>
<text x="126.6" y="143.5" font-size="5.6" text-anchor="middle" fill="#1a1a1a" stroke="#1a1a1a" stroke-width="0.08">800</text>
<text x="153.3" y="143.5" font-size="5.6" text-anchor="middle" fill="#1a1a1a" stroke="#1a1a1a" stroke-width="0.08">1000</text>
<text x="86.3" y="153.2" font-size="7.7" font-weight="bold" text-anchor="middle" fill="#111" stroke="#111" stroke-width="0.35">Time (ps)</text>
<text transform="translate(8.15,117.05) rotate(-90)" font-size="7.42" font-weight="bold" text-anchor="middle" fill="#111" stroke="#111" stroke-width="0.35">Voltage (V)</text>
<line x1="24.84" y1="164.6" x2="24.84" y2="202.8" stroke="#f2f2f2" stroke-width="0.5"/>
<line x1="30.18" y1="164.6" x2="30.18" y2="202.8" stroke="#f2f2f2" stroke-width="0.5"/>
<line x1="35.52" y1="164.6" x2="35.52" y2="202.8" stroke="#f2f2f2" stroke-width="0.5"/>
<line x1="40.86" y1="164.6" x2="40.86" y2="202.8" stroke="#f2f2f2" stroke-width="0.5"/>
<line x1="46.2" y1="164.6" x2="46.2" y2="202.8" stroke="#dadada" stroke-width="0.5"/>
<line x1="51.54" y1="164.6" x2="51.54" y2="202.8" stroke="#f2f2f2" stroke-width="0.5"/>
<line x1="56.88" y1="164.6" x2="56.88" y2="202.8" stroke="#f2f2f2" stroke-width="0.5"/>
<line x1="62.22" y1="164.6" x2="62.22" y2="202.8" stroke="#f2f2f2" stroke-width="0.5"/>
<line x1="67.56" y1="164.6" x2="67.56" y2="202.8" stroke="#f2f2f2" stroke-width="0.5"/>
<line x1="72.9" y1="164.6" x2="72.9" y2="202.8" stroke="#dadada" stroke-width="0.5"/>
<line x1="78.24" y1="164.6" x2="78.24" y2="202.8" stroke="#f2f2f2" stroke-width="0.5"/>
<line x1="83.58" y1="164.6" x2="83.58" y2="202.8" stroke="#f2f2f2" stroke-width="0.5"/>
<line x1="88.92" y1="164.6" x2="88.92" y2="202.8" stroke="#f2f2f2" stroke-width="0.5"/>
<line x1="94.26" y1="164.6" x2="94.26" y2="202.8" stroke="#f2f2f2" stroke-width="0.5"/>
<line x1="99.6" y1="164.6" x2="99.6" y2="202.8" stroke="#dadada" stroke-width="0.5"/>
<line x1="104.94" y1="164.6" x2="104.94" y2="202.8" stroke="#f2f2f2" stroke-width="0.5"/>
<line x1="110.28" y1="164.6" x2="110.28" y2="202.8" stroke="#f2f2f2" stroke-width="0.5"/>
<line x1="115.62" y1="164.6" x2="115.62" y2="202.8" stroke="#f2f2f2" stroke-width="0.5"/>
<line x1="120.96" y1="164.6" x2="120.96" y2="202.8" stroke="#f2f2f2" stroke-width="0.5"/>
<line x1="126.3" y1="164.6" x2="126.3" y2="202.8" stroke="#dadada" stroke-width="0.5"/>
<line x1="131.64" y1="164.6" x2="131.64" y2="202.8" stroke="#f2f2f2" stroke-width="0.5"/>
<line x1="136.98" y1="164.6" x2="136.98" y2="202.8" stroke="#f2f2f2" stroke-width="0.5"/>
<line x1="142.32" y1="164.6" x2="142.32" y2="202.8" stroke="#f2f2f2" stroke-width="0.5"/>
<line x1="147.66" y1="164.6" x2="147.66" y2="202.8" stroke="#f2f2f2" stroke-width="0.5"/>
<line x1="153" y1="164.6" x2="153" y2="202.8" stroke="#dadada" stroke-width="0.5"/>
<line x1="19.4" y1="198.03" x2="154.5" y2="198.03" stroke="#f2f2f2" stroke-width="0.5"/>
<line x1="19.4" y1="193.25" x2="154.5" y2="193.25" stroke="#dadada" stroke-width="0.5"/>
<line x1="19.4" y1="188.47" x2="154.5" y2="188.47" stroke="#f2f2f2" stroke-width="0.5"/>
<line x1="19.4" y1="183.7" x2="154.5" y2="183.7" stroke="#dadada" stroke-width="0.5"/>
<line x1="19.4" y1="178.93" x2="154.5" y2="178.93" stroke="#f2f2f2" stroke-width="0.5"/>
<line x1="19.4" y1="174.15" x2="154.5" y2="174.15" stroke="#dadada" stroke-width="0.5"/>
<line x1="19.4" y1="169.38" x2="154.5" y2="169.38" stroke="#f2f2f2" stroke-width="0.5"/>
<line x1="19.5" y1="202.8" x2="19.5" y2="201.3" stroke="#777" stroke-width="0.6"/>
<line x1="24.84" y1="202.8" x2="24.84" y2="201.9" stroke="#777" stroke-width="0.6"/>
<line x1="30.18" y1="202.8" x2="30.18" y2="201.9" stroke="#777" stroke-width="0.6"/>
<line x1="35.52" y1="202.8" x2="35.52" y2="201.9" stroke="#777" stroke-width="0.6"/>
<line x1="40.86" y1="202.8" x2="40.86" y2="201.9" stroke="#777" stroke-width="0.6"/>
<line x1="46.2" y1="202.8" x2="46.2" y2="201.3" stroke="#777" stroke-width="0.6"/>
<line x1="51.54" y1="202.8" x2="51.54" y2="201.9" stroke="#777" stroke-width="0.6"/>
<line x1="56.88" y1="202.8" x2="56.88" y2="201.9" stroke="#777" stroke-width="0.6"/>
<line x1="62.22" y1="202.8" x2="62.22" y2="201.9" stroke="#777" stroke-width="0.6"/>
<line x1="67.56" y1="202.8" x2="67.56" y2="201.9" stroke="#777" stroke-width="0.6"/>
<line x1="72.9" y1="202.8" x2="72.9" y2="201.3" stroke="#777" stroke-width="0.6"/>
<line x1="78.24" y1="202.8" x2="78.24" y2="201.9" stroke="#777" stroke-width="0.6"/>
<line x1="83.58" y1="202.8" x2="83.58" y2="201.9" stroke="#777" stroke-width="0.6"/>
<line x1="88.92" y1="202.8" x2="88.92" y2="201.9" stroke="#777" stroke-width="0.6"/>
<line x1="94.26" y1="202.8" x2="94.26" y2="201.9" stroke="#777" stroke-width="0.6"/>
<line x1="99.6" y1="202.8" x2="99.6" y2="201.3" stroke="#777" stroke-width="0.6"/>
<line x1="104.94" y1="202.8" x2="104.94" y2="201.9" stroke="#777" stroke-width="0.6"/>
<line x1="110.28" y1="202.8" x2="110.28" y2="201.9" stroke="#777" stroke-width="0.6"/>
<line x1="115.62" y1="202.8" x2="115.62" y2="201.9" stroke="#777" stroke-width="0.6"/>
<line x1="120.96" y1="202.8" x2="120.96" y2="201.9" stroke="#777" stroke-width="0.6"/>
<line x1="126.3" y1="202.8" x2="126.3" y2="201.3" stroke="#777" stroke-width="0.6"/>
<line x1="131.64" y1="202.8" x2="131.64" y2="201.9" stroke="#777" stroke-width="0.6"/>
<line x1="136.98" y1="202.8" x2="136.98" y2="201.9" stroke="#777" stroke-width="0.6"/>
<line x1="142.32" y1="202.8" x2="142.32" y2="201.9" stroke="#777" stroke-width="0.6"/>
<line x1="147.66" y1="202.8" x2="147.66" y2="201.9" stroke="#777" stroke-width="0.6"/>
<line x1="153" y1="202.8" x2="153" y2="201.3" stroke="#777" stroke-width="0.6"/>
<line x1="19.4" y1="202.8" x2="20.9" y2="202.8" stroke="#777" stroke-width="0.6"/>
<line x1="19.4" y1="200.41" x2="20.3" y2="200.41" stroke="#777" stroke-width="0.6"/>
<line x1="19.4" y1="198.03" x2="20.3" y2="198.03" stroke="#777" stroke-width="0.6"/>
<line x1="19.4" y1="195.64" x2="20.3" y2="195.64" stroke="#777" stroke-width="0.6"/>
<line x1="19.4" y1="193.25" x2="20.9" y2="193.25" stroke="#777" stroke-width="0.6"/>
<line x1="19.4" y1="190.86" x2="20.3" y2="190.86" stroke="#777" stroke-width="0.6"/>
<line x1="19.4" y1="188.47" x2="20.3" y2="188.47" stroke="#777" stroke-width="0.6"/>
<line x1="19.4" y1="186.09" x2="20.3" y2="186.09" stroke="#777" stroke-width="0.6"/>
<line x1="19.4" y1="183.7" x2="20.9" y2="183.7" stroke="#777" stroke-width="0.6"/>
<line x1="19.4" y1="181.31" x2="20.3" y2="181.31" stroke="#777" stroke-width="0.6"/>
<line x1="19.4" y1="178.93" x2="20.3" y2="178.93" stroke="#777" stroke-width="0.6"/>
<line x1="19.4" y1="176.54" x2="20.3" y2="176.54" stroke="#777" stroke-width="0.6"/>
<line x1="19.4" y1="174.15" x2="20.9" y2="174.15" stroke="#777" stroke-width="0.6"/>
<line x1="19.4" y1="171.76" x2="20.3" y2="171.76" stroke="#777" stroke-width="0.6"/>
<line x1="19.4" y1="169.38" x2="20.3" y2="169.38" stroke="#777" stroke-width="0.6"/>
<line x1="19.4" y1="166.99" x2="20.3" y2="166.99" stroke="#777" stroke-width="0.6"/>
<line x1="19.4" y1="164.6" x2="20.9" y2="164.6" stroke="#777" stroke-width="0.6"/>
<polyline points="19.5,182.9 19.77,183.16 20.03,183.42 20.3,183.68 20.57,183.95 20.84,184.21 21.1,184.47 21.37,184.73 21.64,184.99 21.9,185.25 22.17,185.5 22.44,185.74 22.7,185.98 22.97,186.21 23.24,186.43 23.5,186.65 23.77,186.85 24.04,187.04 24.31,187.22 24.57,187.39 24.84,187.55 25.11,187.7 25.37,187.83 25.64,187.95 25.91,188.05 26.18,188.14 26.44,188.21 26.71,188.27 26.98,188.31 27.24,188.33 27.51,188.34 27.78,188.34 28.04,188.32 28.31,188.28 28.58,188.22 28.84,188.16 29.11,188.07 29.38,187.97 29.65,187.86 29.91,187.73 30.18,187.59 30.45,187.44 30.71,187.27 30.98,187.09 31.25,186.9 31.52,186.7 31.78,186.49 32.05,186.27 32.32,186.04 32.58,185.8 32.85,185.56 33.12,185.31 33.38,185.06 33.65,184.8 33.92,184.54 34.19,184.28 34.45,184.01 34.72,183.75 34.99,183.49 35.25,183.23 35.52,182.97 35.79,182.71 36.05,182.46 36.32,182.21 36.59,181.97 36.86,181.74 37.12,181.52 37.39,181.3 37.66,181.1 37.92,180.9 38.19,180.72 38.46,180.54 38.72,180.38 38.99,180.23 39.26,180.1 39.52,179.98 39.79,179.87 40.06,179.78 40.33,179.71 40.59,179.65 40.86,179.6 41.13,179.57 41.39,179.56 41.66,179.56 41.93,179.58 42.2,179.61 42.46,179.66 42.73,179.73 43,179.81 43.26,179.9 43.53,180.01 43.8,180.14 44.06,180.28 44.33,180.43 44.6,180.59 44.86,180.77 45.13,180.95 45.4,181.15 45.67,181.36 45.93,181.58 46.2,181.81 46.47,182.04 46.73,182.28 47,182.53 47.27,182.78 47.53,183.04 47.8,183.3 48.07,183.56 48.34,183.82 48.6,184.09 48.87,184.35 49.14,184.61 49.4,184.87 49.67,185.13 49.94,185.38 50.2,185.63 50.47,185.87 50.74,186.11 51.01,186.33 51.27,186.55 51.54,186.76 51.81,186.96 52.07,187.14 52.34,187.32 52.61,187.48 52.88,187.63 53.14,187.77 53.41,187.89 53.68,188 53.94,188.1 54.21,188.18 54.48,188.24 54.74,188.29 55.01,188.32 55.28,188.34 55.55,188.34 55.81,188.33 56.08,188.3 56.35,188.25 56.61,188.19 56.88,188.11 57.15,188.02 57.41,187.91 57.68,187.79 57.95,187.66 58.22,187.51 58.48,187.35 58.75,187.17 59.02,186.99 59.28,186.79 59.55,186.59 59.82,186.37 60.08,186.15 60.35,185.91 60.62,185.67 60.88,185.43 61.15,185.18 61.42,184.92 61.69,184.66 61.95,184.4 62.22,184.14 62.49,183.87 62.75,183.61 63.02,183.34 63.29,183.08 63.55,182.83 63.82,182.57 64.09,182.33 64.36,182.08 64.62,181.85 64.89,181.62 65.16,181.4 65.42,181.19 65.69,180.99 65.96,180.8 66.22,180.62 66.49,180.45 66.76,180.3 67.03,180.16 67.29,180.03 67.56,179.92 67.83,179.82 68.09,179.74 68.36,179.67 68.63,179.62 68.9,179.58 69.16,179.56 69.43,179.56 69.7,179.57 69.96,179.59 70.23,179.64 70.5,179.7 70.76,179.77 71.03,179.86 71.3,179.96 71.56,180.08 71.83,180.21 72.1,180.36 72.37,180.51 72.63,180.68 72.9,180.87 73.17,181.06 73.43,181.27 73.7,181.48 73.97,181.7 74.23,181.93 74.5,182.17 74.77,182.42 75.04,182.67 75.3,182.92 75.57,183.18 75.84,183.44 76.1,183.7 76.37,183.97 76.64,184.23 76.91,184.5 77.17,184.76 77.44,185.01 77.71,185.27 77.97,185.52 78.24,185.76 78.51,186 78.77,186.23 79.04,186.45 79.31,186.66 79.58,186.87 79.84,187.06 80.11,187.24 80.38,187.41 80.64,187.57 80.91,187.71 81.18,187.84 81.44,187.95 81.71,188.06 81.98,188.14 82.25,188.21 82.51,188.27 82.78,188.31 83.05,188.33 83.31,188.34 83.58,188.34 83.85,188.31 84.11,188.27 84.38,188.22 84.65,188.15 84.92,188.06 85.18,187.96 85.45,187.85 85.72,187.72 85.98,187.58 86.25,187.42 86.52,187.26 86.78,187.08 87.05,186.88 87.32,186.68 87.58,186.47 87.85,186.25 88.12,186.02 88.39,185.78 88.65,185.54 88.92,185.29 89.19,185.04 89.45,184.78 89.72,184.52 89.99,184.26 90.25,183.99 90.52,183.73 90.79,183.46 91.06,183.2 91.32,182.94 91.59,182.69 91.86,182.44 92.12,182.19 92.39,181.95 92.66,181.72 92.92,181.5 93.19,181.28 93.46,181.08 93.73,180.88 93.99,180.7 94.26,180.53 94.53,180.37 94.79,180.22 95.06,180.09 95.33,179.97 95.59,179.87 95.86,179.78 96.13,179.7 96.4,179.64 96.66,179.6 96.93,179.57 97.2,179.56 97.46,179.56 97.73,179.58 98,179.62 98.27,179.67 98.53,179.73 98.8,179.82 99.07,179.91 99.33,180.02 99.6,180.15 99.87,180.29 100.13,180.44 100.4,180.61 100.67,180.78 100.94,180.97 101.2,181.17 101.47,181.38 101.74,181.6 102,181.83 102.27,182.06 102.54,182.3 102.8,182.55 103.07,182.8 103.34,183.06 103.61,183.32 103.87,183.58 104.14,183.85 104.41,184.11 104.67,184.38 104.94,184.64 105.21,184.9 105.47,185.15 105.74,185.41 106.01,185.65 106.28,185.89 106.54,186.13 106.81,186.35 107.08,186.57 107.34,186.77 107.61,186.97 107.88,187.16 108.14,187.33 108.41,187.5 108.68,187.64 108.94,187.78 109.21,187.9 109.48,188.01 109.75,188.1 110.01,188.18 110.28,188.25 110.55,188.29 110.81,188.33 111.08,188.34 111.35,188.34 111.61,188.33 111.88,188.29 112.15,188.25 112.42,188.18 112.68,188.1 112.95,188.01 113.22,187.9 113.48,187.78 113.75,187.65 114.02,187.5 114.28,187.33 114.55,187.16 114.82,186.97 115.09,186.78 115.35,186.57 115.62,186.35 115.89,186.13 116.15,185.89 116.42,185.65 116.69,185.41 116.95,185.15 117.22,184.9 117.49,184.64 117.76,184.38 118.02,184.11 118.29,183.85 118.56,183.58 118.82,183.32 119.09,183.06 119.36,182.8 119.62,182.55 119.89,182.3 120.16,182.06 120.43,181.83 120.69,181.6 120.96,181.38 121.23,181.17 121.49,180.97 121.76,180.78 122.03,180.61 122.3,180.44 122.56,180.29 122.83,180.15 123.1,180.02 123.36,179.91 123.63,179.82 123.9,179.73 124.16,179.67 124.43,179.62 124.7,179.58 124.97,179.56 125.23,179.56 125.5,179.57 125.77,179.6 126.03,179.64 126.3,179.7 126.57,179.78 126.83,179.87 127.1,179.97 127.37,180.09 127.64,180.22 127.9,180.37 128.17,180.53 128.44,180.7 128.7,180.88 128.97,181.08 129.24,181.28 129.5,181.5 129.77,181.72 130.04,181.95 130.31,182.19 130.57,182.44 130.84,182.69 131.11,182.94 131.37,183.2 131.64,183.46 131.91,183.73 132.17,183.99 132.44,184.26 132.71,184.52 132.97,184.78 133.24,185.04 133.51,185.29 133.78,185.54 134.04,185.78 134.31,186.02 134.58,186.25 134.84,186.47 135.11,186.68 135.38,186.88 135.64,187.07 135.91,187.25 136.18,187.42 136.45,187.58 136.71,187.72 136.98,187.85 137.25,187.96 137.51,188.06 137.78,188.15 138.05,188.22 138.31,188.27 138.58,188.31 138.85,188.34 139.12,188.34 139.38,188.33 139.65,188.31 139.92,188.27 140.18,188.21 140.45,188.14 140.72,188.06 140.99,187.95 141.25,187.84 141.52,187.71 141.79,187.57 142.05,187.41 142.32,187.24 142.59,187.06 142.85,186.87 143.12,186.66 143.39,186.45 143.66,186.23 143.92,186 144.19,185.76 144.46,185.52 144.72,185.27 144.99,185.02 145.26,184.76 145.52,184.5 145.79,184.23 146.06,183.97 146.32,183.71 146.59,183.44 146.86,183.18 147.13,182.92 147.39,182.67 147.66,182.42 147.93,182.17 148.19,181.93 148.46,181.7 148.73,181.48 149,181.27 149.26,181.06 149.53,180.87 149.8,180.69 150.06,180.51 150.33,180.36 150.6,180.21 150.86,180.08 151.13,179.96 151.4,179.86 151.66,179.77 151.93,179.7 152.2,179.64 152.47,179.59 152.73,179.57 153,179.56" fill="none" stroke="#f45a40" stroke-width="1.6" stroke-linejoin="round" stroke-linecap="butt"/>
<rect x="19.4" y="164.6" width="135.1" height="38.2" fill="none" stroke="#a2a2a2" stroke-width="1.0"/>
<rect x="71.4" y="167.5" width="55.3" height="7.6" fill="#fff" stroke="#c4c4c4" stroke-width="0.5"/>
<line x1="72.4" y1="171.3" x2="85.1" y2="171.3" stroke="#f45a40" stroke-width="1.25"/>
<text x="86.6" y="173.65" font-size="5.6" font-weight="bold" textLength="38.8" lengthAdjust="spacingAndGlyphs" fill="#111" stroke="#111" stroke-width="0.2">Cascode Output</text>
<text x="18.2" y="203.65" font-size="5.6" text-anchor="end" fill="#1a1a1a" stroke="#1a1a1a" stroke-width="0.08">-4</text>
<text x="18.2" y="194.1" font-size="5.6" text-anchor="end" fill="#1a1a1a" stroke="#1a1a1a" stroke-width="0.08">-2</text>
<text x="18.2" y="184.55" font-size="5.6" text-anchor="end" fill="#1a1a1a" stroke="#1a1a1a" stroke-width="0.08">0</text>
<text x="18.2" y="175" font-size="5.6" text-anchor="end" fill="#1a1a1a" stroke="#1a1a1a" stroke-width="0.08">2</text>
<text x="18.2" y="165.45" font-size="5.6" text-anchor="end" fill="#1a1a1a" stroke="#1a1a1a" stroke-width="0.08">4</text>
<text x="19.8" y="208.4" font-size="5.6" text-anchor="middle" fill="#1a1a1a" stroke="#1a1a1a" stroke-width="0.08">0</text>
<text x="46.5" y="208.4" font-size="5.6" text-anchor="middle" fill="#1a1a1a" stroke="#1a1a1a" stroke-width="0.08">200</text>
<text x="73.2" y="208.4" font-size="5.6" text-anchor="middle" fill="#1a1a1a" stroke="#1a1a1a" stroke-width="0.08">400</text>
<text x="99.9" y="208.4" font-size="5.6" text-anchor="middle" fill="#1a1a1a" stroke="#1a1a1a" stroke-width="0.08">600</text>
<text x="126.6" y="208.4" font-size="5.6" text-anchor="middle" fill="#1a1a1a" stroke="#1a1a1a" stroke-width="0.08">800</text>
<text x="153.3" y="208.4" font-size="5.6" text-anchor="middle" fill="#1a1a1a" stroke="#1a1a1a" stroke-width="0.08">1000</text>
<text x="86.3" y="218.1" font-size="7.7" font-weight="bold" text-anchor="middle" fill="#111" stroke="#111" stroke-width="0.35">Time (ps)</text>
<text transform="translate(8.15,181.65) rotate(-90)" font-size="7.42" font-weight="bold" text-anchor="middle" fill="#111" stroke="#111" stroke-width="0.35">Voltage (V)</text>
<line x1="204.84" y1="35.4" x2="204.84" y2="73.5" stroke="#f2f2f2" stroke-width="0.5"/>
<line x1="210.18" y1="35.4" x2="210.18" y2="73.5" stroke="#f2f2f2" stroke-width="0.5"/>
<line x1="215.52" y1="35.4" x2="215.52" y2="73.5" stroke="#f2f2f2" stroke-width="0.5"/>
<line x1="220.86" y1="35.4" x2="220.86" y2="73.5" stroke="#f2f2f2" stroke-width="0.5"/>
<line x1="226.2" y1="35.4" x2="226.2" y2="73.5" stroke="#dadada" stroke-width="0.5"/>
<line x1="231.54" y1="35.4" x2="231.54" y2="73.5" stroke="#f2f2f2" stroke-width="0.5"/>
<line x1="236.88" y1="35.4" x2="236.88" y2="73.5" stroke="#f2f2f2" stroke-width="0.5"/>
<line x1="242.22" y1="35.4" x2="242.22" y2="73.5" stroke="#f2f2f2" stroke-width="0.5"/>
<line x1="247.56" y1="35.4" x2="247.56" y2="73.5" stroke="#f2f2f2" stroke-width="0.5"/>
<line x1="252.9" y1="35.4" x2="252.9" y2="73.5" stroke="#dadada" stroke-width="0.5"/>
<line x1="258.24" y1="35.4" x2="258.24" y2="73.5" stroke="#f2f2f2" stroke-width="0.5"/>
<line x1="263.58" y1="35.4" x2="263.58" y2="73.5" stroke="#f2f2f2" stroke-width="0.5"/>
<line x1="268.92" y1="35.4" x2="268.92" y2="73.5" stroke="#f2f2f2" stroke-width="0.5"/>
<line x1="274.26" y1="35.4" x2="274.26" y2="73.5" stroke="#f2f2f2" stroke-width="0.5"/>
<line x1="279.6" y1="35.4" x2="279.6" y2="73.5" stroke="#dadada" stroke-width="0.5"/>
<line x1="284.94" y1="35.4" x2="284.94" y2="73.5" stroke="#f2f2f2" stroke-width="0.5"/>
<line x1="290.28" y1="35.4" x2="290.28" y2="73.5" stroke="#f2f2f2" stroke-width="0.5"/>
<line x1="295.62" y1="35.4" x2="295.62" y2="73.5" stroke="#f2f2f2" stroke-width="0.5"/>
<line x1="300.96" y1="35.4" x2="300.96" y2="73.5" stroke="#f2f2f2" stroke-width="0.5"/>
<line x1="306.3" y1="35.4" x2="306.3" y2="73.5" stroke="#dadada" stroke-width="0.5"/>
<line x1="311.64" y1="35.4" x2="311.64" y2="73.5" stroke="#f2f2f2" stroke-width="0.5"/>
<line x1="316.98" y1="35.4" x2="316.98" y2="73.5" stroke="#f2f2f2" stroke-width="0.5"/>
<line x1="322.32" y1="35.4" x2="322.32" y2="73.5" stroke="#f2f2f2" stroke-width="0.5"/>
<line x1="327.66" y1="35.4" x2="327.66" y2="73.5" stroke="#f2f2f2" stroke-width="0.5"/>
<line x1="333" y1="35.4" x2="333" y2="73.5" stroke="#dadada" stroke-width="0.5"/>
<line x1="199.4" y1="68.74" x2="334.5" y2="68.74" stroke="#f2f2f2" stroke-width="0.5"/>
<line x1="199.4" y1="63.98" x2="334.5" y2="63.98" stroke="#dadada" stroke-width="0.5"/>
<line x1="199.4" y1="59.21" x2="334.5" y2="59.21" stroke="#f2f2f2" stroke-width="0.5"/>
<line x1="199.4" y1="54.45" x2="334.5" y2="54.45" stroke="#dadada" stroke-width="0.5"/>
<line x1="199.4" y1="49.69" x2="334.5" y2="49.69" stroke="#f2f2f2" stroke-width="0.5"/>
<line x1="199.4" y1="44.92" x2="334.5" y2="44.92" stroke="#dadada" stroke-width="0.5"/>
<line x1="199.4" y1="40.16" x2="334.5" y2="40.16" stroke="#f2f2f2" stroke-width="0.5"/>
<line x1="199.5" y1="73.5" x2="199.5" y2="72" stroke="#777" stroke-width="0.6"/>
<line x1="204.84" y1="73.5" x2="204.84" y2="72.6" stroke="#777" stroke-width="0.6"/>
<line x1="210.18" y1="73.5" x2="210.18" y2="72.6" stroke="#777" stroke-width="0.6"/>
<line x1="215.52" y1="73.5" x2="215.52" y2="72.6" stroke="#777" stroke-width="0.6"/>
<line x1="220.86" y1="73.5" x2="220.86" y2="72.6" stroke="#777" stroke-width="0.6"/>
<line x1="226.2" y1="73.5" x2="226.2" y2="72" stroke="#777" stroke-width="0.6"/>
<line x1="231.54" y1="73.5" x2="231.54" y2="72.6" stroke="#777" stroke-width="0.6"/>
<line x1="236.88" y1="73.5" x2="236.88" y2="72.6" stroke="#777" stroke-width="0.6"/>
<line x1="242.22" y1="73.5" x2="242.22" y2="72.6" stroke="#777" stroke-width="0.6"/>
<line x1="247.56" y1="73.5" x2="247.56" y2="72.6" stroke="#777" stroke-width="0.6"/>
<line x1="252.9" y1="73.5" x2="252.9" y2="72" stroke="#777" stroke-width="0.6"/>
<line x1="258.24" y1="73.5" x2="258.24" y2="72.6" stroke="#777" stroke-width="0.6"/>
<line x1="263.58" y1="73.5" x2="263.58" y2="72.6" stroke="#777" stroke-width="0.6"/>
<line x1="268.92" y1="73.5" x2="268.92" y2="72.6" stroke="#777" stroke-width="0.6"/>
<line x1="274.26" y1="73.5" x2="274.26" y2="72.6" stroke="#777" stroke-width="0.6"/>
<line x1="279.6" y1="73.5" x2="279.6" y2="72" stroke="#777" stroke-width="0.6"/>
<line x1="284.94" y1="73.5" x2="284.94" y2="72.6" stroke="#777" stroke-width="0.6"/>
<line x1="290.28" y1="73.5" x2="290.28" y2="72.6" stroke="#777" stroke-width="0.6"/>
<line x1="295.62" y1="73.5" x2="295.62" y2="72.6" stroke="#777" stroke-width="0.6"/>
<line x1="300.96" y1="73.5" x2="300.96" y2="72.6" stroke="#777" stroke-width="0.6"/>
<line x1="306.3" y1="73.5" x2="306.3" y2="72" stroke="#777" stroke-width="0.6"/>
<line x1="311.64" y1="73.5" x2="311.64" y2="72.6" stroke="#777" stroke-width="0.6"/>
<line x1="316.98" y1="73.5" x2="316.98" y2="72.6" stroke="#777" stroke-width="0.6"/>
<line x1="322.32" y1="73.5" x2="322.32" y2="72.6" stroke="#777" stroke-width="0.6"/>
<line x1="327.66" y1="73.5" x2="327.66" y2="72.6" stroke="#777" stroke-width="0.6"/>
<line x1="333" y1="73.5" x2="333" y2="72" stroke="#777" stroke-width="0.6"/>
<line x1="199.4" y1="73.5" x2="200.9" y2="73.5" stroke="#777" stroke-width="0.6"/>
<line x1="199.4" y1="71.12" x2="200.3" y2="71.12" stroke="#777" stroke-width="0.6"/>
<line x1="199.4" y1="68.74" x2="200.3" y2="68.74" stroke="#777" stroke-width="0.6"/>
<line x1="199.4" y1="66.36" x2="200.3" y2="66.36" stroke="#777" stroke-width="0.6"/>
<line x1="199.4" y1="63.98" x2="200.9" y2="63.98" stroke="#777" stroke-width="0.6"/>
<line x1="199.4" y1="61.59" x2="200.3" y2="61.59" stroke="#777" stroke-width="0.6"/>
<line x1="199.4" y1="59.21" x2="200.3" y2="59.21" stroke="#777" stroke-width="0.6"/>
<line x1="199.4" y1="56.83" x2="200.3" y2="56.83" stroke="#777" stroke-width="0.6"/>
<line x1="199.4" y1="54.45" x2="200.9" y2="54.45" stroke="#777" stroke-width="0.6"/>
<line x1="199.4" y1="52.07" x2="200.3" y2="52.07" stroke="#777" stroke-width="0.6"/>
<line x1="199.4" y1="49.69" x2="200.3" y2="49.69" stroke="#777" stroke-width="0.6"/>
<line x1="199.4" y1="47.31" x2="200.3" y2="47.31" stroke="#777" stroke-width="0.6"/>
<line x1="199.4" y1="44.92" x2="200.9" y2="44.92" stroke="#777" stroke-width="0.6"/>
<line x1="199.4" y1="42.54" x2="200.3" y2="42.54" stroke="#777" stroke-width="0.6"/>
<line x1="199.4" y1="40.16" x2="200.3" y2="40.16" stroke="#777" stroke-width="0.6"/>
<line x1="199.4" y1="37.78" x2="200.3" y2="37.78" stroke="#777" stroke-width="0.6"/>
<line x1="199.4" y1="35.4" x2="200.9" y2="35.4" stroke="#777" stroke-width="0.6"/>
<polyline points="199.5,50.8 199.77,50.37 200.03,49.96 200.3,49.59 200.57,49.25 200.84,48.94 201.1,48.68 201.37,48.45 201.64,48.26 201.9,48.11 202.17,48.01 202.44,47.95 202.7,47.94 202.97,47.97 203.24,48.04 203.5,48.16 203.77,48.32 204.04,48.52 204.31,48.76 204.57,49.04 204.84,49.36 205.11,49.71 205.37,50.09 205.64,50.51 205.91,50.95 206.18,51.42 206.44,51.9 206.71,52.41 206.98,52.93 207.24,53.46 207.51,54.01 207.78,54.55 208.04,55.1 208.31,55.64 208.58,56.18 208.84,56.71 209.11,57.22 209.38,57.72 209.65,58.2 209.91,58.65 210.18,59.08 210.45,59.48 210.71,59.86 210.98,60.19 211.25,60.49 211.51,60.76 211.78,60.98 212.05,61.16 212.32,61.3 212.58,61.4 212.85,61.45 213.12,61.46 213.38,61.43 213.65,61.35 213.92,61.23 214.19,61.06 214.45,60.85 214.72,60.61 214.99,60.32 215.25,60 215.52,59.65 215.79,59.26 216.05,58.84 216.32,58.39 216.59,57.92 216.85,57.43 217.12,56.93 217.39,56.4 217.66,55.87 217.92,55.33 218.19,54.78 218.46,54.24 218.72,53.69 218.99,53.16 219.26,52.63 219.53,52.12 219.79,51.62 220.06,51.14 220.33,50.69 220.59,50.27 220.86,49.87 221.13,49.5 221.39,49.17 221.66,48.87 221.93,48.62 222.19,48.4 222.46,48.22 222.73,48.08 223,47.99 223.26,47.94 223.53,47.94 223.8,47.98 224.06,48.07 224.33,48.19 224.6,48.36 224.87,48.57 225.13,48.82 225.4,49.11 225.67,49.44 225.93,49.8 226.2,50.19 226.47,50.61 226.73,51.06 227,51.54 227.27,52.03 227.53,52.54 227.8,53.06 228.07,53.6 228.34,54.14 228.6,54.69 228.87,55.23 229.14,55.77 229.4,56.31 229.67,56.83 229.94,57.35 230.2,57.84 230.47,58.31 230.74,58.76 231.01,59.19 231.27,59.58 231.54,59.94 231.81,60.27 232.07,60.56 232.34,60.81 232.61,61.03 232.88,61.2 233.14,61.33 233.41,61.42 233.68,61.46 233.94,61.46 234.21,61.41 234.48,61.32 234.74,61.19 235.01,61.01 235.28,60.8 235.55,60.54 235.81,60.25 236.08,59.92 236.35,59.55 236.61,59.16 236.88,58.73 237.15,58.28 237.41,57.8 237.68,57.31 237.95,56.8 238.22,56.27 238.48,55.74 238.75,55.19 239.02,54.65 239.28,54.1 239.55,53.56 239.82,53.02 240.08,52.5 240.35,51.99 240.62,51.5 240.88,51.03 241.15,50.58 241.42,50.16 241.69,49.77 241.95,49.42 242.22,49.09 242.49,48.81 242.75,48.56 243.02,48.35 243.29,48.18 243.56,48.06 243.82,47.98 244.09,47.94 244.36,47.95 244.62,48 244.89,48.09 245.16,48.23 245.42,48.41 245.69,48.63 245.96,48.89 246.22,49.19 246.49,49.53 246.76,49.89 247.03,50.29 247.29,50.72 247.56,51.18 247.83,51.66 248.09,52.15 248.36,52.67 248.63,53.19 248.9,53.73 249.16,54.27 249.43,54.82 249.7,55.37 249.96,55.91 250.23,56.44 250.5,56.96 250.76,57.47 251.03,57.96 251.3,58.43 251.56,58.87 251.83,59.29 252.1,59.67 252.37,60.03 252.63,60.34 252.9,60.63 253.17,60.87 253.43,61.07 253.7,61.24 253.97,61.35 254.24,61.43 254.5,61.46 254.77,61.45 255.04,61.39 255.3,61.29 255.57,61.15 255.84,60.96 256.1,60.74 256.37,60.47 256.64,60.17 256.9,59.83 257.17,59.46 257.44,59.05 257.71,58.62 257.97,58.16 258.24,57.68 258.51,57.18 258.77,56.67 259.04,56.14 259.31,55.6 259.57,55.06 259.84,54.51 260.11,53.97 260.38,53.43 260.64,52.89 260.91,52.37 261.18,51.87 261.44,51.38 261.71,50.92 261.98,50.48 262.25,50.06 262.51,49.68 262.78,49.33 263.05,49.02 263.31,48.74 263.58,48.5 263.85,48.3 264.11,48.15 264.38,48.03 264.65,47.96 264.92,47.94 265.18,47.96 265.45,48.02 265.72,48.12 265.98,48.27 266.25,48.46 266.52,48.69 266.78,48.96 267.05,49.27 267.32,49.61 267.58,49.99 267.85,50.4 268.12,50.83 268.39,51.29 268.65,51.78 268.92,52.28 269.19,52.8 269.45,53.33 269.72,53.86 269.99,54.41 270.25,54.96 270.52,55.5 270.79,56.04 271.06,56.57 271.32,57.09 271.59,57.59 271.86,58.08 272.12,58.54 272.39,58.97 272.66,59.38 272.93,59.76 273.19,60.11 273.46,60.42 273.73,60.69 273.99,60.92 274.26,61.12 274.53,61.27 274.79,61.38 275.06,61.44 275.33,61.46 275.6,61.44 275.86,61.37 276.13,61.26 276.4,61.11 276.66,60.91 276.93,60.68 277.2,60.4 277.46,60.09 277.73,59.74 278,59.36 278.26,58.95 278.53,58.51 278.8,58.05 279.07,57.56 279.33,57.06 279.6,56.54 279.87,56.01 280.13,55.47 280.4,54.92 280.67,54.38 280.94,53.83 281.2,53.29 281.47,52.76 281.74,52.25 282,51.75 282.27,51.27 282.54,50.81 282.8,50.37 283.07,49.97 283.34,49.59 283.61,49.25 283.87,48.95 284.14,48.68 284.41,48.45 284.67,48.26 284.94,48.12 285.21,48.01 285.47,47.95 285.74,47.94 286.01,47.97 286.27,48.04 286.54,48.16 286.81,48.31 287.08,48.52 287.34,48.76 287.61,49.04 287.88,49.35 288.14,49.7 288.41,50.09 288.68,50.5 288.94,50.94 289.21,51.41 289.48,51.9 289.75,52.4 290.01,52.93 290.28,53.46 290.55,54 290.81,54.54 291.08,55.09 291.35,55.63 291.62,56.17 291.88,56.7 292.15,57.22 292.42,57.71 292.68,58.19 292.95,58.65 293.22,59.08 293.48,59.48 293.75,59.85 294.02,60.19 294.28,60.49 294.55,60.75 294.82,60.98 295.09,61.16 295.35,61.3 295.62,61.4 295.89,61.45 296.15,61.46 296.42,61.43 296.69,61.35 296.95,61.23 297.22,61.06 297.49,60.86 297.76,60.61 298.02,60.33 298.29,60.01 298.56,59.65 298.82,59.26 299.09,58.84 299.36,58.4 299.62,57.93 299.89,57.44 300.16,56.93 300.43,56.41 300.69,55.88 300.96,55.33 301.23,54.79 301.49,54.24 301.76,53.7 302.03,53.16 302.3,52.64 302.56,52.12 302.83,51.63 303.1,51.15 303.36,50.7 303.63,50.27 303.9,49.87 304.16,49.51 304.43,49.17 304.7,48.88 304.97,48.62 305.23,48.4 305.5,48.22 305.77,48.09 306.03,47.99 306.3,47.95 306.57,47.94 306.83,47.98 307.1,48.06 307.37,48.19 307.63,48.36 307.9,48.57 308.17,48.82 308.44,49.11 308.7,49.44 308.97,49.8 309.24,50.19 309.5,50.61 309.77,51.06 310.04,51.53 310.31,52.02 310.57,52.53 310.84,53.06 311.11,53.59 311.37,54.13 311.64,54.68 311.91,55.23 312.17,55.77 312.44,56.3 312.71,56.83 312.98,57.34 313.24,57.83 313.51,58.31 313.78,58.76 314.04,59.18 314.31,59.58 314.58,59.94 314.84,60.27 315.11,60.56 315.38,60.81 315.64,61.03 315.91,61.2 316.18,61.33 316.45,61.41 316.71,61.46 316.98,61.46 317.25,61.41 317.51,61.32 317.78,61.19 318.05,61.02 318.31,60.8 318.58,60.54 318.85,60.25 319.12,59.92 319.38,59.56 319.65,59.16 319.92,58.74 320.18,58.28 320.45,57.81 320.72,57.32 320.99,56.8 321.25,56.28 321.52,55.74 321.79,55.2 322.05,54.65 322.32,54.11 322.59,53.57 322.85,53.03 323.12,52.51 323.39,52 323.65,51.51 323.92,51.04 324.19,50.59 324.46,50.17 324.72,49.78 324.99,49.42 325.26,49.1 325.52,48.81 325.79,48.56 326.06,48.35 326.32,48.18 326.59,48.06 326.86,47.98 327.13,47.94 327.39,47.95 327.66,48 327.93,48.09 328.19,48.23 328.46,48.41 328.73,48.63 329,48.89 329.26,49.19 329.53,49.52 329.8,49.89 330.06,50.29 330.33,50.72 330.6,51.17 330.86,51.65 331.13,52.15 331.4,52.66 331.66,53.19 331.93,53.73 332.2,54.27 332.47,54.81 332.73,55.36 333,55.9" fill="none" stroke="#61c045" stroke-width="1.6" stroke-linejoin="round" stroke-linecap="butt"/>
<rect x="199.4" y="35.4" width="135.1" height="38.1" fill="none" stroke="#a2a2a2" stroke-width="1.0"/>
<rect x="259.6" y="37.3" width="46.9" height="7.9" fill="#fff" stroke="#c4c4c4" stroke-width="0.5"/>
<line x1="260.5" y1="41.25" x2="273" y2="41.25" stroke="#61c045" stroke-width="1.25"/>
<text x="274.6" y="43.6" font-size="5.6" font-weight="bold" textLength="31.1" lengthAdjust="spacingAndGlyphs" fill="#111" stroke="#111" stroke-width="0.2">VCO Output</text>
<text x="198.2" y="74.35" font-size="5.6" text-anchor="end" fill="#1a1a1a" stroke="#1a1a1a" stroke-width="0.08">-4</text>
<text x="198.2" y="64.82" font-size="5.6" text-anchor="end" fill="#1a1a1a" stroke="#1a1a1a" stroke-width="0.08">-2</text>
<text x="198.2" y="55.3" font-size="5.6" text-anchor="end" fill="#1a1a1a" stroke="#1a1a1a" stroke-width="0.08">0</text>
<text x="198.2" y="45.77" font-size="5.6" text-anchor="end" fill="#1a1a1a" stroke="#1a1a1a" stroke-width="0.08">2</text>
<text x="198.2" y="36.25" font-size="5.6" text-anchor="end" fill="#1a1a1a" stroke="#1a1a1a" stroke-width="0.08">4</text>
<text x="199.8" y="79.1" font-size="5.6" text-anchor="middle" fill="#1a1a1a" stroke="#1a1a1a" stroke-width="0.08">0</text>
<text x="226.5" y="79.1" font-size="5.6" text-anchor="middle" fill="#1a1a1a" stroke="#1a1a1a" stroke-width="0.08">200</text>
<text x="253.2" y="79.1" font-size="5.6" text-anchor="middle" fill="#1a1a1a" stroke="#1a1a1a" stroke-width="0.08">400</text>
<text x="279.9" y="79.1" font-size="5.6" text-anchor="middle" fill="#1a1a1a" stroke="#1a1a1a" stroke-width="0.08">600</text>
<text x="306.6" y="79.1" font-size="5.6" text-anchor="middle" fill="#1a1a1a" stroke="#1a1a1a" stroke-width="0.08">800</text>
<text x="333.3" y="79.1" font-size="5.6" text-anchor="middle" fill="#1a1a1a" stroke="#1a1a1a" stroke-width="0.08">1000</text>
<text x="266.3" y="88.8" font-size="7.7" font-weight="bold" text-anchor="middle" fill="#111" stroke="#111" stroke-width="0.35">Time (ps)</text>
<text transform="translate(188.15,52.4) rotate(-90)" font-size="7.42" font-weight="bold" text-anchor="middle" fill="#111" stroke="#111" stroke-width="0.35">Voltage (V)</text>
<line x1="204.84" y1="100.3" x2="204.84" y2="137.9" stroke="#f2f2f2" stroke-width="0.5"/>
<line x1="210.18" y1="100.3" x2="210.18" y2="137.9" stroke="#f2f2f2" stroke-width="0.5"/>
<line x1="215.52" y1="100.3" x2="215.52" y2="137.9" stroke="#f2f2f2" stroke-width="0.5"/>
<line x1="220.86" y1="100.3" x2="220.86" y2="137.9" stroke="#f2f2f2" stroke-width="0.5"/>
<line x1="226.2" y1="100.3" x2="226.2" y2="137.9" stroke="#dadada" stroke-width="0.5"/>
<line x1="231.54" y1="100.3" x2="231.54" y2="137.9" stroke="#f2f2f2" stroke-width="0.5"/>
<line x1="236.88" y1="100.3" x2="236.88" y2="137.9" stroke="#f2f2f2" stroke-width="0.5"/>
<line x1="242.22" y1="100.3" x2="242.22" y2="137.9" stroke="#f2f2f2" stroke-width="0.5"/>
<line x1="247.56" y1="100.3" x2="247.56" y2="137.9" stroke="#f2f2f2" stroke-width="0.5"/>
<line x1="252.9" y1="100.3" x2="252.9" y2="137.9" stroke="#dadada" stroke-width="0.5"/>
<line x1="258.24" y1="100.3" x2="258.24" y2="137.9" stroke="#f2f2f2" stroke-width="0.5"/>
<line x1="263.58" y1="100.3" x2="263.58" y2="137.9" stroke="#f2f2f2" stroke-width="0.5"/>
<line x1="268.92" y1="100.3" x2="268.92" y2="137.9" stroke="#f2f2f2" stroke-width="0.5"/>
<line x1="274.26" y1="100.3" x2="274.26" y2="137.9" stroke="#f2f2f2" stroke-width="0.5"/>
<line x1="279.6" y1="100.3" x2="279.6" y2="137.9" stroke="#dadada" stroke-width="0.5"/>
<line x1="284.94" y1="100.3" x2="284.94" y2="137.9" stroke="#f2f2f2" stroke-width="0.5"/>
<line x1="290.28" y1="100.3" x2="290.28" y2="137.9" stroke="#f2f2f2" stroke-width="0.5"/>
<line x1="295.62" y1="100.3" x2="295.62" y2="137.9" stroke="#f2f2f2" stroke-width="0.5"/>
<line x1="300.96" y1="100.3" x2="300.96" y2="137.9" stroke="#f2f2f2" stroke-width="0.5"/>
<line x1="306.3" y1="100.3" x2="306.3" y2="137.9" stroke="#dadada" stroke-width="0.5"/>
<line x1="311.64" y1="100.3" x2="311.64" y2="137.9" stroke="#f2f2f2" stroke-width="0.5"/>
<line x1="316.98" y1="100.3" x2="316.98" y2="137.9" stroke="#f2f2f2" stroke-width="0.5"/>
<line x1="322.32" y1="100.3" x2="322.32" y2="137.9" stroke="#f2f2f2" stroke-width="0.5"/>
<line x1="327.66" y1="100.3" x2="327.66" y2="137.9" stroke="#f2f2f2" stroke-width="0.5"/>
<line x1="333" y1="100.3" x2="333" y2="137.9" stroke="#dadada" stroke-width="0.5"/>
<line x1="199.4" y1="133.2" x2="334.5" y2="133.2" stroke="#f2f2f2" stroke-width="0.5"/>
<line x1="199.4" y1="128.5" x2="334.5" y2="128.5" stroke="#dadada" stroke-width="0.5"/>
<line x1="199.4" y1="123.8" x2="334.5" y2="123.8" stroke="#f2f2f2" stroke-width="0.5"/>
<line x1="199.4" y1="119.1" x2="334.5" y2="119.1" stroke="#dadada" stroke-width="0.5"/>
<line x1="199.4" y1="114.4" x2="334.5" y2="114.4" stroke="#f2f2f2" stroke-width="0.5"/>
<line x1="199.4" y1="109.7" x2="334.5" y2="109.7" stroke="#dadada" stroke-width="0.5"/>
<line x1="199.4" y1="105" x2="334.5" y2="105" stroke="#f2f2f2" stroke-width="0.5"/>
<line x1="199.5" y1="137.9" x2="199.5" y2="136.4" stroke="#777" stroke-width="0.6"/>
<line x1="204.84" y1="137.9" x2="204.84" y2="137" stroke="#777" stroke-width="0.6"/>
<line x1="210.18" y1="137.9" x2="210.18" y2="137" stroke="#777" stroke-width="0.6"/>
<line x1="215.52" y1="137.9" x2="215.52" y2="137" stroke="#777" stroke-width="0.6"/>
<line x1="220.86" y1="137.9" x2="220.86" y2="137" stroke="#777" stroke-width="0.6"/>
<line x1="226.2" y1="137.9" x2="226.2" y2="136.4" stroke="#777" stroke-width="0.6"/>
<line x1="231.54" y1="137.9" x2="231.54" y2="137" stroke="#777" stroke-width="0.6"/>
<line x1="236.88" y1="137.9" x2="236.88" y2="137" stroke="#777" stroke-width="0.6"/>
<line x1="242.22" y1="137.9" x2="242.22" y2="137" stroke="#777" stroke-width="0.6"/>
<line x1="247.56" y1="137.9" x2="247.56" y2="137" stroke="#777" stroke-width="0.6"/>
<line x1="252.9" y1="137.9" x2="252.9" y2="136.4" stroke="#777" stroke-width="0.6"/>
<line x1="258.24" y1="137.9" x2="258.24" y2="137" stroke="#777" stroke-width="0.6"/>
<line x1="263.58" y1="137.9" x2="263.58" y2="137" stroke="#777" stroke-width="0.6"/>
<line x1="268.92" y1="137.9" x2="268.92" y2="137" stroke="#777" stroke-width="0.6"/>
<line x1="274.26" y1="137.9" x2="274.26" y2="137" stroke="#777" stroke-width="0.6"/>
<line x1="279.6" y1="137.9" x2="279.6" y2="136.4" stroke="#777" stroke-width="0.6"/>
<line x1="284.94" y1="137.9" x2="284.94" y2="137" stroke="#777" stroke-width="0.6"/>
<line x1="290.28" y1="137.9" x2="290.28" y2="137" stroke="#777" stroke-width="0.6"/>
<line x1="295.62" y1="137.9" x2="295.62" y2="137" stroke="#777" stroke-width="0.6"/>
<line x1="300.96" y1="137.9" x2="300.96" y2="137" stroke="#777" stroke-width="0.6"/>
<line x1="306.3" y1="137.9" x2="306.3" y2="136.4" stroke="#777" stroke-width="0.6"/>
<line x1="311.64" y1="137.9" x2="311.64" y2="137" stroke="#777" stroke-width="0.6"/>
<line x1="316.98" y1="137.9" x2="316.98" y2="137" stroke="#777" stroke-width="0.6"/>
<line x1="322.32" y1="137.9" x2="322.32" y2="137" stroke="#777" stroke-width="0.6"/>
<line x1="327.66" y1="137.9" x2="327.66" y2="137" stroke="#777" stroke-width="0.6"/>
<line x1="333" y1="137.9" x2="333" y2="136.4" stroke="#777" stroke-width="0.6"/>
<line x1="199.4" y1="137.9" x2="200.9" y2="137.9" stroke="#777" stroke-width="0.6"/>
<line x1="199.4" y1="135.55" x2="200.3" y2="135.55" stroke="#777" stroke-width="0.6"/>
<line x1="199.4" y1="133.2" x2="200.3" y2="133.2" stroke="#777" stroke-width="0.6"/>
<line x1="199.4" y1="130.85" x2="200.3" y2="130.85" stroke="#777" stroke-width="0.6"/>
<line x1="199.4" y1="128.5" x2="200.9" y2="128.5" stroke="#777" stroke-width="0.6"/>
<line x1="199.4" y1="126.15" x2="200.3" y2="126.15" stroke="#777" stroke-width="0.6"/>
<line x1="199.4" y1="123.8" x2="200.3" y2="123.8" stroke="#777" stroke-width="0.6"/>
<line x1="199.4" y1="121.45" x2="200.3" y2="121.45" stroke="#777" stroke-width="0.6"/>
<line x1="199.4" y1="119.1" x2="200.9" y2="119.1" stroke="#777" stroke-width="0.6"/>
<line x1="199.4" y1="116.75" x2="200.3" y2="116.75" stroke="#777" stroke-width="0.6"/>
<line x1="199.4" y1="114.4" x2="200.3" y2="114.4" stroke="#777" stroke-width="0.6"/>
<line x1="199.4" y1="112.05" x2="200.3" y2="112.05" stroke="#777" stroke-width="0.6"/>
<line x1="199.4" y1="109.7" x2="200.9" y2="109.7" stroke="#777" stroke-width="0.6"/>
<line x1="199.4" y1="107.35" x2="200.3" y2="107.35" stroke="#777" stroke-width="0.6"/>
<line x1="199.4" y1="105" x2="200.3" y2="105" stroke="#777" stroke-width="0.6"/>
<line x1="199.4" y1="102.65" x2="200.3" y2="102.65" stroke="#777" stroke-width="0.6"/>
<line x1="199.4" y1="100.3" x2="200.9" y2="100.3" stroke="#777" stroke-width="0.6"/>
<polyline points="199.5,113.28 199.77,113.23 200.03,113.2 200.3,113.19 200.57,113.21 200.84,113.25 201.1,113.3 201.37,113.39 201.64,113.49 201.9,113.61 202.17,113.76 202.44,113.93 202.7,114.11 202.97,114.32 203.24,114.54 203.5,114.78 203.77,115.04 204.04,115.31 204.31,115.6 204.57,115.9 204.84,116.22 205.11,116.54 205.37,116.88 205.64,117.22 205.91,117.58 206.18,117.94 206.44,118.3 206.71,118.67 206.98,119.04 207.24,119.41 207.51,119.79 207.78,120.16 208.04,120.52 208.31,120.89 208.58,121.24 208.84,121.59 209.11,121.94 209.38,122.27 209.65,122.59 209.91,122.9 210.18,123.2 210.45,123.48 210.71,123.75 210.98,124 211.25,124.24 211.51,124.46 211.78,124.65 212.05,124.83 212.32,124.99 212.58,125.13 212.85,125.25 213.12,125.34 213.38,125.42 213.65,125.47 213.92,125.5 214.19,125.51 214.45,125.49 214.72,125.45 214.99,125.39 215.25,125.31 215.52,125.21 215.79,125.08 216.05,124.93 216.32,124.77 216.59,124.58 216.85,124.38 217.12,124.15 217.39,123.91 217.66,123.65 217.92,123.38 218.19,123.09 218.46,122.79 218.72,122.47 218.99,122.15 219.26,121.81 219.53,121.46 219.79,121.11 220.06,120.75 220.33,120.39 220.59,120.02 220.86,119.65 221.13,119.27 221.39,118.9 221.66,118.53 221.93,118.16 222.19,117.8 222.46,117.44 222.73,117.09 223,116.75 223.26,116.42 223.53,116.1 223.8,115.79 224.06,115.49 224.33,115.21 224.6,114.94 224.87,114.69 225.13,114.45 225.4,114.24 225.67,114.04 225.93,113.86 226.2,113.7 226.47,113.56 226.73,113.45 227,113.35 227.27,113.28 227.53,113.23 227.8,113.2 228.07,113.19 228.34,113.21 228.6,113.25 228.87,113.31 229.14,113.39 229.4,113.5 229.67,113.62 229.94,113.77 230.2,113.94 230.47,114.13 230.74,114.33 231.01,114.56 231.27,114.8 231.54,115.06 231.81,115.33 232.07,115.62 232.34,115.92 232.61,116.24 232.88,116.57 233.14,116.9 233.41,117.25 233.68,117.6 233.94,117.96 234.21,118.33 234.48,118.7 234.74,119.07 235.01,119.44 235.28,119.81 235.55,120.18 235.81,120.55 236.08,120.91 236.35,121.27 236.61,121.62 236.88,121.96 237.15,122.29 237.41,122.61 237.68,122.92 237.95,123.22 238.22,123.5 238.48,123.77 238.75,124.02 239.02,124.25 239.28,124.47 239.55,124.67 239.82,124.84 240.08,125 240.35,125.14 240.62,125.26 240.88,125.35 241.15,125.42 241.42,125.47 241.69,125.5 241.95,125.51 242.22,125.49 242.49,125.45 242.75,125.39 243.02,125.3 243.29,125.2 243.56,125.07 243.82,124.92 244.09,124.76 244.36,124.57 244.62,124.36 244.89,124.14 245.16,123.89 245.42,123.63 245.69,123.36 245.96,123.07 246.22,122.77 246.49,122.45 246.76,122.12 247.03,121.79 247.29,121.44 247.56,121.09 247.83,120.73 248.09,120.36 248.36,119.99 248.63,119.62 248.9,119.25 249.16,118.88 249.43,118.51 249.7,118.14 249.96,117.78 250.23,117.42 250.5,117.07 250.76,116.73 251.03,116.4 251.3,116.08 251.56,115.77 251.83,115.47 252.1,115.19 252.37,114.92 252.63,114.67 252.9,114.44 253.17,114.22 253.43,114.03 253.7,113.85 253.97,113.69 254.24,113.56 254.5,113.44 254.77,113.35 255.04,113.28 255.3,113.23 255.57,113.2 255.84,113.19 256.1,113.21 256.37,113.25 256.64,113.31 256.9,113.4 257.17,113.5 257.44,113.63 257.71,113.78 257.97,113.95 258.24,114.14 258.51,114.35 258.77,114.57 259.04,114.82 259.31,115.08 259.57,115.35 259.84,115.64 260.11,115.94 260.38,116.26 260.64,116.59 260.91,116.93 261.18,117.27 261.44,117.63 261.71,117.99 261.98,118.35 262.25,118.72 262.51,119.09 262.78,119.46 263.05,119.84 263.31,120.21 263.58,120.57 263.85,120.93 264.11,121.29 264.38,121.64 264.65,121.98 264.92,122.31 265.18,122.63 265.45,122.94 265.72,123.24 265.98,123.52 266.25,123.79 266.52,124.04 266.78,124.27 267.05,124.48 267.32,124.68 267.58,124.86 267.85,125.01 268.12,125.15 268.39,125.26 268.65,125.36 268.92,125.43 269.19,125.48 269.45,125.5 269.72,125.51 269.99,125.49 270.25,125.45 270.52,125.38 270.79,125.3 271.06,125.19 271.32,125.06 271.59,124.91 271.86,124.74 272.12,124.55 272.39,124.35 272.66,124.12 272.93,123.88 273.19,123.62 273.46,123.34 273.73,123.05 273.99,122.75 274.26,122.43 274.53,122.1 274.79,121.76 275.06,121.42 275.33,121.06 275.6,120.7 275.86,120.34 276.13,119.97 276.4,119.6 276.66,119.22 276.93,118.85 277.2,118.48 277.46,118.12 277.73,117.75 278,117.4 278.26,117.05 278.53,116.71 278.8,116.38 279.07,116.06 279.33,115.75 279.6,115.45 279.87,115.17 280.13,114.91 280.4,114.66 280.67,114.42 280.94,114.21 281.2,114.01 281.47,113.84 281.74,113.68 282,113.55 282.27,113.43 282.54,113.34 282.8,113.27 283.07,113.22 283.34,113.2 283.61,113.19 283.87,113.21 284.14,113.26 284.41,113.32 284.67,113.41 284.94,113.51 285.21,113.64 285.47,113.79 285.74,113.96 286.01,114.15 286.27,114.36 286.54,114.59 286.81,114.83 287.08,115.09 287.34,115.37 287.61,115.66 287.88,115.97 288.14,116.28 288.41,116.61 288.68,116.95 288.94,117.3 289.21,117.65 289.48,118.01 289.75,118.38 290.01,118.75 290.28,119.12 290.55,119.49 290.81,119.86 291.08,120.23 291.35,120.6 291.62,120.96 291.88,121.31 292.15,121.66 292.42,122 292.68,122.34 292.95,122.65 293.22,122.96 293.48,123.26 293.75,123.54 294.02,123.8 294.28,124.05 294.55,124.28 294.82,124.5 295.09,124.69 295.35,124.87 295.62,125.02 295.89,125.16 296.15,125.27 296.42,125.36 296.69,125.43 296.95,125.48 297.22,125.5 297.49,125.51 297.76,125.49 298.02,125.44 298.29,125.38 298.56,125.29 298.82,125.18 299.09,125.05 299.36,124.9 299.62,124.73 299.89,124.54 300.16,124.33 300.43,124.1 300.69,123.86 300.96,123.6 301.23,123.32 301.49,123.03 301.76,122.72 302.03,122.41 302.3,122.08 302.56,121.74 302.83,121.39 303.1,121.04 303.36,120.68 303.63,120.31 303.9,119.94 304.16,119.57 304.43,119.2 304.7,118.83 304.97,118.46 305.23,118.09 305.5,117.73 305.77,117.37 306.03,117.02 306.3,116.68 306.57,116.35 306.83,116.03 307.1,115.73 307.37,115.43 307.63,115.15 307.9,114.89 308.17,114.64 308.44,114.41 308.7,114.2 308.97,114 309.24,113.83 309.5,113.67 309.77,113.54 310.04,113.43 310.31,113.34 310.57,113.27 310.84,113.22 311.11,113.2 311.37,113.2 311.64,113.22 311.91,113.26 312.17,113.32 312.44,113.41 312.71,113.52 312.98,113.65 313.24,113.8 313.51,113.97 313.78,114.17 314.04,114.38 314.31,114.6 314.58,114.85 314.84,115.11 315.11,115.39 315.38,115.68 315.64,115.99 315.91,116.3 316.18,116.63 316.45,116.97 316.71,117.32 316.98,117.67 317.25,118.04 317.51,118.4 317.78,118.77 318.05,119.14 318.31,119.51 318.58,119.89 318.85,120.25 319.12,120.62 319.38,120.98 319.65,121.34 319.92,121.69 320.18,122.03 320.45,122.36 320.72,122.68 320.99,122.98 321.25,123.28 321.52,123.56 321.79,123.82 322.05,124.07 322.32,124.3 322.59,124.51 322.85,124.7 323.12,124.88 323.39,125.03 323.65,125.16 323.92,125.28 324.19,125.37 324.46,125.43 324.72,125.48 324.99,125.5 325.26,125.5 325.52,125.48 325.79,125.44 326.06,125.37 326.32,125.28 326.59,125.17 326.86,125.04 327.13,124.89 327.39,124.72 327.66,124.53 327.93,124.32 328.19,124.09 328.46,123.84 328.73,123.58 329,123.3 329.26,123.01 329.53,122.7 329.8,122.38 330.06,122.06 330.33,121.72 330.6,121.37 330.86,121.01 331.13,120.65 331.4,120.29 331.66,119.92 331.93,119.55 332.2,119.17 332.47,118.8 332.73,118.43 333,118.07" fill="none" stroke="#3d7fdb" stroke-width="1.6" stroke-linejoin="round" stroke-linecap="butt"/>
<rect x="199.4" y="100.3" width="135.1" height="37.6" fill="none" stroke="#a2a2a2" stroke-width="1.0"/>
<rect x="246.1" y="102.8" width="60.7" height="7.1" fill="#fff" stroke="#c4c4c4" stroke-width="0.5"/>
<line x1="247.3" y1="106.35" x2="259.8" y2="106.35" stroke="#3d7fdb" stroke-width="1.25"/>
<text x="261.1" y="108.7" font-size="5.6" font-weight="bold" textLength="45.1" lengthAdjust="spacingAndGlyphs" fill="#111" stroke="#111" stroke-width="0.2">SSB Mixer Output</text>
<text x="198.2" y="138.75" font-size="5.6" text-anchor="end" fill="#1a1a1a" stroke="#1a1a1a" stroke-width="0.08">-4</text>
<text x="198.2" y="129.35" font-size="5.6" text-anchor="end" fill="#1a1a1a" stroke="#1a1a1a" stroke-width="0.08">-2</text>
<text x="198.2" y="119.95" font-size="5.6" text-anchor="end" fill="#1a1a1a" stroke="#1a1a1a" stroke-width="0.08">0</text>
<text x="198.2" y="110.55" font-size="5.6" text-anchor="end" fill="#1a1a1a" stroke="#1a1a1a" stroke-width="0.08">2</text>
<text x="198.2" y="101.15" font-size="5.6" text-anchor="end" fill="#1a1a1a" stroke="#1a1a1a" stroke-width="0.08">4</text>
<text x="199.8" y="143.5" font-size="5.6" text-anchor="middle" fill="#1a1a1a" stroke="#1a1a1a" stroke-width="0.08">0</text>
<text x="226.5" y="143.5" font-size="5.6" text-anchor="middle" fill="#1a1a1a" stroke="#1a1a1a" stroke-width="0.08">200</text>
<text x="253.2" y="143.5" font-size="5.6" text-anchor="middle" fill="#1a1a1a" stroke="#1a1a1a" stroke-width="0.08">400</text>
<text x="279.9" y="143.5" font-size="5.6" text-anchor="middle" fill="#1a1a1a" stroke="#1a1a1a" stroke-width="0.08">600</text>
<text x="306.6" y="143.5" font-size="5.6" text-anchor="middle" fill="#1a1a1a" stroke="#1a1a1a" stroke-width="0.08">800</text>
<text x="333.3" y="143.5" font-size="5.6" text-anchor="middle" fill="#1a1a1a" stroke="#1a1a1a" stroke-width="0.08">1000</text>
<text x="266.3" y="153.2" font-size="7.7" font-weight="bold" text-anchor="middle" fill="#111" stroke="#111" stroke-width="0.35">Time (ps)</text>
<text transform="translate(188.15,117.05) rotate(-90)" font-size="7.42" font-weight="bold" text-anchor="middle" fill="#111" stroke="#111" stroke-width="0.35">Voltage (V)</text>
<line x1="204.84" y1="164.6" x2="204.84" y2="202.8" stroke="#f2f2f2" stroke-width="0.5"/>
<line x1="210.18" y1="164.6" x2="210.18" y2="202.8" stroke="#f2f2f2" stroke-width="0.5"/>
<line x1="215.52" y1="164.6" x2="215.52" y2="202.8" stroke="#f2f2f2" stroke-width="0.5"/>
<line x1="220.86" y1="164.6" x2="220.86" y2="202.8" stroke="#f2f2f2" stroke-width="0.5"/>
<line x1="226.2" y1="164.6" x2="226.2" y2="202.8" stroke="#dadada" stroke-width="0.5"/>
<line x1="231.54" y1="164.6" x2="231.54" y2="202.8" stroke="#f2f2f2" stroke-width="0.5"/>
<line x1="236.88" y1="164.6" x2="236.88" y2="202.8" stroke="#f2f2f2" stroke-width="0.5"/>
<line x1="242.22" y1="164.6" x2="242.22" y2="202.8" stroke="#f2f2f2" stroke-width="0.5"/>
<line x1="247.56" y1="164.6" x2="247.56" y2="202.8" stroke="#f2f2f2" stroke-width="0.5"/>
<line x1="252.9" y1="164.6" x2="252.9" y2="202.8" stroke="#dadada" stroke-width="0.5"/>
<line x1="258.24" y1="164.6" x2="258.24" y2="202.8" stroke="#f2f2f2" stroke-width="0.5"/>
<line x1="263.58" y1="164.6" x2="263.58" y2="202.8" stroke="#f2f2f2" stroke-width="0.5"/>
<line x1="268.92" y1="164.6" x2="268.92" y2="202.8" stroke="#f2f2f2" stroke-width="0.5"/>
<line x1="274.26" y1="164.6" x2="274.26" y2="202.8" stroke="#f2f2f2" stroke-width="0.5"/>
<line x1="279.6" y1="164.6" x2="279.6" y2="202.8" stroke="#dadada" stroke-width="0.5"/>
<line x1="284.94" y1="164.6" x2="284.94" y2="202.8" stroke="#f2f2f2" stroke-width="0.5"/>
<line x1="290.28" y1="164.6" x2="290.28" y2="202.8" stroke="#f2f2f2" stroke-width="0.5"/>
<line x1="295.62" y1="164.6" x2="295.62" y2="202.8" stroke="#f2f2f2" stroke-width="0.5"/>
<line x1="300.96" y1="164.6" x2="300.96" y2="202.8" stroke="#f2f2f2" stroke-width="0.5"/>
<line x1="306.3" y1="164.6" x2="306.3" y2="202.8" stroke="#dadada" stroke-width="0.5"/>
<line x1="311.64" y1="164.6" x2="311.64" y2="202.8" stroke="#f2f2f2" stroke-width="0.5"/>
<line x1="316.98" y1="164.6" x2="316.98" y2="202.8" stroke="#f2f2f2" stroke-width="0.5"/>
<line x1="322.32" y1="164.6" x2="322.32" y2="202.8" stroke="#f2f2f2" stroke-width="0.5"/>
<line x1="327.66" y1="164.6" x2="327.66" y2="202.8" stroke="#f2f2f2" stroke-width="0.5"/>
<line x1="333" y1="164.6" x2="333" y2="202.8" stroke="#dadada" stroke-width="0.5"/>
<line x1="199.4" y1="198.03" x2="334.5" y2="198.03" stroke="#f2f2f2" stroke-width="0.5"/>
<line x1="199.4" y1="193.25" x2="334.5" y2="193.25" stroke="#dadada" stroke-width="0.5"/>
<line x1="199.4" y1="188.47" x2="334.5" y2="188.47" stroke="#f2f2f2" stroke-width="0.5"/>
<line x1="199.4" y1="183.7" x2="334.5" y2="183.7" stroke="#dadada" stroke-width="0.5"/>
<line x1="199.4" y1="178.93" x2="334.5" y2="178.93" stroke="#f2f2f2" stroke-width="0.5"/>
<line x1="199.4" y1="174.15" x2="334.5" y2="174.15" stroke="#dadada" stroke-width="0.5"/>
<line x1="199.4" y1="169.38" x2="334.5" y2="169.38" stroke="#f2f2f2" stroke-width="0.5"/>
<line x1="199.5" y1="202.8" x2="199.5" y2="201.3" stroke="#777" stroke-width="0.6"/>
<line x1="204.84" y1="202.8" x2="204.84" y2="201.9" stroke="#777" stroke-width="0.6"/>
<line x1="210.18" y1="202.8" x2="210.18" y2="201.9" stroke="#777" stroke-width="0.6"/>
<line x1="215.52" y1="202.8" x2="215.52" y2="201.9" stroke="#777" stroke-width="0.6"/>
<line x1="220.86" y1="202.8" x2="220.86" y2="201.9" stroke="#777" stroke-width="0.6"/>
<line x1="226.2" y1="202.8" x2="226.2" y2="201.3" stroke="#777" stroke-width="0.6"/>
<line x1="231.54" y1="202.8" x2="231.54" y2="201.9" stroke="#777" stroke-width="0.6"/>
<line x1="236.88" y1="202.8" x2="236.88" y2="201.9" stroke="#777" stroke-width="0.6"/>
<line x1="242.22" y1="202.8" x2="242.22" y2="201.9" stroke="#777" stroke-width="0.6"/>
<line x1="247.56" y1="202.8" x2="247.56" y2="201.9" stroke="#777" stroke-width="0.6"/>
<line x1="252.9" y1="202.8" x2="252.9" y2="201.3" stroke="#777" stroke-width="0.6"/>
<line x1="258.24" y1="202.8" x2="258.24" y2="201.9" stroke="#777" stroke-width="0.6"/>
<line x1="263.58" y1="202.8" x2="263.58" y2="201.9" stroke="#777" stroke-width="0.6"/>
<line x1="268.92" y1="202.8" x2="268.92" y2="201.9" stroke="#777" stroke-width="0.6"/>
<line x1="274.26" y1="202.8" x2="274.26" y2="201.9" stroke="#777" stroke-width="0.6"/>
<line x1="279.6" y1="202.8" x2="279.6" y2="201.3" stroke="#777" stroke-width="0.6"/>
<line x1="284.94" y1="202.8" x2="284.94" y2="201.9" stroke="#777" stroke-width="0.6"/>
<line x1="290.28" y1="202.8" x2="290.28" y2="201.9" stroke="#777" stroke-width="0.6"/>
<line x1="295.62" y1="202.8" x2="295.62" y2="201.9" stroke="#777" stroke-width="0.6"/>
<line x1="300.96" y1="202.8" x2="300.96" y2="201.9" stroke="#777" stroke-width="0.6"/>
<line x1="306.3" y1="202.8" x2="306.3" y2="201.3" stroke="#777" stroke-width="0.6"/>
<line x1="311.64" y1="202.8" x2="311.64" y2="201.9" stroke="#777" stroke-width="0.6"/>
<line x1="316.98" y1="202.8" x2="316.98" y2="201.9" stroke="#777" stroke-width="0.6"/>
<line x1="322.32" y1="202.8" x2="322.32" y2="201.9" stroke="#777" stroke-width="0.6"/>
<line x1="327.66" y1="202.8" x2="327.66" y2="201.9" stroke="#777" stroke-width="0.6"/>
<line x1="333" y1="202.8" x2="333" y2="201.3" stroke="#777" stroke-width="0.6"/>
<line x1="199.4" y1="202.8" x2="200.9" y2="202.8" stroke="#777" stroke-width="0.6"/>
<line x1="199.4" y1="200.41" x2="200.3" y2="200.41" stroke="#777" stroke-width="0.6"/>
<line x1="199.4" y1="198.03" x2="200.3" y2="198.03" stroke="#777" stroke-width="0.6"/>
<line x1="199.4" y1="195.64" x2="200.3" y2="195.64" stroke="#777" stroke-width="0.6"/>
<line x1="199.4" y1="193.25" x2="200.9" y2="193.25" stroke="#777" stroke-width="0.6"/>
<line x1="199.4" y1="190.86" x2="200.3" y2="190.86" stroke="#777" stroke-width="0.6"/>
<line x1="199.4" y1="188.47" x2="200.3" y2="188.47" stroke="#777" stroke-width="0.6"/>
<line x1="199.4" y1="186.09" x2="200.3" y2="186.09" stroke="#777" stroke-width="0.6"/>
<line x1="199.4" y1="183.7" x2="200.9" y2="183.7" stroke="#777" stroke-width="0.6"/>
<line x1="199.4" y1="181.31" x2="200.3" y2="181.31" stroke="#777" stroke-width="0.6"/>
<line x1="199.4" y1="178.93" x2="200.3" y2="178.93" stroke="#777" stroke-width="0.6"/>
<line x1="199.4" y1="176.54" x2="200.3" y2="176.54" stroke="#777" stroke-width="0.6"/>
<line x1="199.4" y1="174.15" x2="200.9" y2="174.15" stroke="#777" stroke-width="0.6"/>
<line x1="199.4" y1="171.76" x2="200.3" y2="171.76" stroke="#777" stroke-width="0.6"/>
<line x1="199.4" y1="169.38" x2="200.3" y2="169.38" stroke="#777" stroke-width="0.6"/>
<line x1="199.4" y1="166.99" x2="200.3" y2="166.99" stroke="#777" stroke-width="0.6"/>
<line x1="199.4" y1="164.6" x2="200.9" y2="164.6" stroke="#777" stroke-width="0.6"/>
<polyline points="199.5,182.8 199.77,182.99 200.03,183.18 200.3,183.38 200.57,183.58 200.84,183.78 201.1,183.98 201.37,184.19 201.64,184.39 201.9,184.59 202.17,184.78 202.44,184.98 202.7,185.17 202.97,185.35 203.24,185.53 203.5,185.71 203.77,185.88 204.04,186.04 204.31,186.19 204.57,186.34 204.84,186.48 205.11,186.6 205.37,186.72 205.64,186.83 205.91,186.93 206.18,187.01 206.44,187.09 206.71,187.15 206.98,187.2 207.24,187.24 207.51,187.27 207.78,187.29 208.04,187.29 208.31,187.28 208.58,187.26 208.84,187.23 209.11,187.19 209.38,187.13 209.65,187.06 209.91,186.98 210.18,186.89 210.45,186.79 210.71,186.68 210.98,186.56 211.25,186.43 211.51,186.29 211.78,186.14 212.05,185.98 212.32,185.82 212.58,185.65 212.85,185.47 213.12,185.29 213.38,185.1 213.65,184.91 213.92,184.71 214.19,184.51 214.45,184.31 214.72,184.11 214.99,183.91 215.25,183.71 215.52,183.51 215.79,183.31 216.05,183.11 216.32,182.92 216.59,182.73 216.85,182.54 217.12,182.36 217.39,182.19 217.66,182.02 217.92,181.86 218.19,181.7 218.46,181.56 218.72,181.42 218.99,181.29 219.26,181.18 219.53,181.07 219.79,180.97 220.06,180.88 220.33,180.81 220.59,180.75 220.86,180.69 221.13,180.65 221.39,180.63 221.66,180.61 221.93,180.61 222.19,180.62 222.46,180.64 222.73,180.67 223,180.72 223.26,180.77 223.53,180.84 223.8,180.92 224.06,181.01 224.33,181.11 224.6,181.23 224.87,181.35 225.13,181.48 225.4,181.62 225.67,181.77 225.93,181.92 226.2,182.09 226.47,182.26 226.73,182.44 227,182.62 227.27,182.81 227.53,183 227.8,183.2 228.07,183.39 228.34,183.59 228.6,183.8 228.87,184 229.14,184.2 229.4,184.4 229.67,184.6 229.94,184.8 230.2,184.99 230.47,185.18 230.74,185.37 231.01,185.55 231.27,185.72 231.54,185.89 231.81,186.05 232.07,186.2 232.34,186.35 232.61,186.48 232.88,186.61 233.14,186.73 233.41,186.84 233.68,186.93 233.94,187.02 234.21,187.09 234.48,187.16 234.74,187.21 235.01,187.25 235.28,187.27 235.55,187.29 235.81,187.29 236.08,187.28 236.35,187.26 236.61,187.23 236.88,187.18 237.15,187.13 237.41,187.06 237.68,186.98 237.95,186.89 238.22,186.78 238.48,186.67 238.75,186.55 239.02,186.42 239.28,186.28 239.55,186.13 239.82,185.97 240.08,185.81 240.35,185.63 240.62,185.46 240.88,185.27 241.15,185.09 241.42,184.89 241.69,184.7 241.95,184.5 242.22,184.3 242.49,184.1 242.75,183.9 243.02,183.69 243.29,183.49 243.56,183.29 243.82,183.1 244.09,182.9 244.36,182.71 244.62,182.53 244.89,182.35 245.16,182.17 245.42,182.01 245.69,181.85 245.96,181.69 246.22,181.55 246.49,181.41 246.76,181.28 247.03,181.17 247.29,181.06 247.56,180.96 247.83,180.88 248.09,180.81 248.36,180.74 248.63,180.69 248.9,180.65 249.16,180.63 249.43,180.61 249.7,180.61 249.96,180.62 250.23,180.64 250.5,180.67 250.76,180.72 251.03,180.78 251.3,180.85 251.56,180.93 251.83,181.02 252.1,181.12 252.37,181.23 252.63,181.36 252.9,181.49 253.17,181.63 253.43,181.78 253.7,181.94 253.97,182.1 254.24,182.27 254.5,182.45 254.77,182.63 255.04,182.82 255.3,183.01 255.57,183.21 255.84,183.41 256.1,183.61 256.37,183.81 256.64,184.01 256.9,184.21 257.17,184.41 257.44,184.61 257.71,184.81 257.97,185 258.24,185.19 258.51,185.38 258.77,185.56 259.04,185.73 259.31,185.9 259.57,186.06 259.84,186.21 260.11,186.36 260.38,186.49 260.64,186.62 260.91,186.74 261.18,186.84 261.44,186.94 261.71,187.02 261.98,187.1 262.25,187.16 262.51,187.21 262.78,187.25 263.05,187.28 263.31,187.29 263.58,187.29 263.85,187.28 264.11,187.26 264.38,187.23 264.65,187.18 264.92,187.12 265.18,187.05 265.45,186.97 265.72,186.88 265.98,186.78 266.25,186.66 266.52,186.54 266.78,186.41 267.05,186.27 267.32,186.12 267.58,185.96 267.85,185.79 268.12,185.62 268.39,185.44 268.65,185.26 268.92,185.07 269.19,184.88 269.45,184.68 269.72,184.49 269.99,184.29 270.25,184.08 270.52,183.88 270.79,183.68 271.06,183.48 271.32,183.28 271.59,183.08 271.86,182.89 272.12,182.7 272.39,182.52 272.66,182.34 272.93,182.16 273.19,181.99 273.46,181.83 273.73,181.68 273.99,181.54 274.26,181.4 274.53,181.28 274.79,181.16 275.06,181.05 275.33,180.96 275.6,180.87 275.86,180.8 276.13,180.74 276.4,180.69 276.66,180.65 276.93,180.62 277.2,180.61 277.46,180.61 277.73,180.62 278,180.64 278.26,180.68 278.53,180.72 278.8,180.78 279.07,180.85 279.33,180.93 279.6,181.02 279.87,181.13 280.13,181.24 280.4,181.36 280.67,181.5 280.94,181.64 281.2,181.79 281.47,181.95 281.74,182.11 282,182.28 282.27,182.46 282.54,182.65 282.8,182.83 283.07,183.03 283.34,183.22 283.61,183.42 283.87,183.62 284.14,183.82 284.41,184.02 284.67,184.23 284.94,184.43 285.21,184.63 285.47,184.82 285.74,185.02 286.01,185.21 286.27,185.39 286.54,185.57 286.81,185.74 287.08,185.91 287.34,186.07 287.61,186.22 287.88,186.37 288.14,186.5 288.41,186.63 288.68,186.74 288.94,186.85 289.21,186.94 289.48,187.03 289.75,187.1 290.01,187.16 290.28,187.21 290.55,187.25 290.81,187.28 291.08,187.29 291.35,187.29 291.62,187.28 291.88,187.26 292.15,187.22 292.42,187.18 292.68,187.12 292.95,187.05 293.22,186.96 293.48,186.87 293.75,186.77 294.02,186.66 294.28,186.53 294.55,186.4 294.82,186.26 295.09,186.11 295.35,185.95 295.62,185.78 295.89,185.61 296.15,185.43 296.42,185.25 296.69,185.06 296.95,184.87 297.22,184.67 297.49,184.47 297.76,184.27 298.02,184.07 298.29,183.87 298.56,183.67 298.82,183.47 299.09,183.27 299.36,183.07 299.62,182.88 299.89,182.69 300.16,182.5 300.43,182.32 300.69,182.15 300.96,181.98 301.23,181.82 301.49,181.67 301.76,181.53 302.03,181.39 302.3,181.27 302.56,181.15 302.83,181.05 303.1,180.95 303.36,180.87 303.63,180.8 303.9,180.73 304.16,180.69 304.43,180.65 304.7,180.62 304.97,180.61 305.23,180.61 305.5,180.62 305.77,180.64 306.03,180.68 306.3,180.73 306.57,180.79 306.83,180.86 307.1,180.94 307.37,181.03 307.63,181.13 307.9,181.25 308.17,181.37 308.44,181.51 308.7,181.65 308.97,181.8 309.24,181.96 309.5,182.12 309.77,182.3 310.04,182.47 310.31,182.66 310.57,182.85 310.84,183.04 311.11,183.24 311.37,183.43 311.64,183.63 311.91,183.84 312.17,184.04 312.44,184.24 312.71,184.44 312.98,184.64 313.24,184.84 313.51,185.03 313.78,185.22 314.04,185.4 314.31,185.58 314.58,185.76 314.84,185.92 315.11,186.08 315.38,186.23 315.64,186.38 315.91,186.51 316.18,186.64 316.45,186.75 316.71,186.86 316.98,186.95 317.25,187.03 317.51,187.11 317.78,187.17 318.05,187.22 318.31,187.25 318.58,187.28 318.85,187.29 319.12,187.29 319.38,187.28 319.65,187.26 319.92,187.22 320.18,187.17 320.45,187.11 320.72,187.04 320.99,186.96 321.25,186.87 321.52,186.76 321.79,186.65 322.05,186.52 322.32,186.39 322.59,186.25 322.85,186.1 323.12,185.94 323.39,185.77 323.65,185.6 323.92,185.42 324.19,185.24 324.46,185.05 324.72,184.85 324.99,184.66 325.26,184.46 325.52,184.26 325.79,184.06 326.06,183.86 326.32,183.65 326.59,183.45 326.86,183.25 327.13,183.06 327.39,182.86 327.66,182.68 327.93,182.49 328.19,182.31 328.46,182.14 328.73,181.97 329,181.81 329.26,181.66 329.53,181.52 329.8,181.38 330.06,181.26 330.33,181.15 330.6,181.04 330.86,180.95 331.13,180.86 331.4,180.79 331.66,180.73 331.93,180.68 332.2,180.65 332.47,180.62 332.73,180.61 333,180.61" fill="none" stroke="#f45a40" stroke-width="1.6" stroke-linejoin="round" stroke-linecap="butt"/>
<rect x="199.4" y="164.6" width="135.1" height="38.2" fill="none" stroke="#a2a2a2" stroke-width="1.0"/>
<rect x="252.6" y="167.5" width="54.5" height="7.9" fill="#fff" stroke="#c4c4c4" stroke-width="0.5"/>
<line x1="253.9" y1="171.45" x2="266" y2="171.45" stroke="#f45a40" stroke-width="1.25"/>
<text x="267.9" y="173.8" font-size="5.6" font-weight="bold" textLength="38.2" lengthAdjust="spacingAndGlyphs" fill="#111" stroke="#111" stroke-width="0.2">Cascode Output</text>
<text x="198.2" y="203.65" font-size="5.6" text-anchor="end" fill="#1a1a1a" stroke="#1a1a1a" stroke-width="0.08">-4</text>
<text x="198.2" y="194.1" font-size="5.6" text-anchor="end" fill="#1a1a1a" stroke="#1a1a1a" stroke-width="0.08">-2</text>
<text x="198.2" y="184.55" font-size="5.6" text-anchor="end" fill="#1a1a1a" stroke="#1a1a1a" stroke-width="0.08">0</text>
<text x="198.2" y="175" font-size="5.6" text-anchor="end" fill="#1a1a1a" stroke="#1a1a1a" stroke-width="0.08">2</text>
<text x="198.2" y="165.45" font-size="5.6" text-anchor="end" fill="#1a1a1a" stroke="#1a1a1a" stroke-width="0.08">4</text>
<text x="199.8" y="208.4" font-size="5.6" text-anchor="middle" fill="#1a1a1a" stroke="#1a1a1a" stroke-width="0.08">0</text>
<text x="226.5" y="208.4" font-size="5.6" text-anchor="middle" fill="#1a1a1a" stroke="#1a1a1a" stroke-width="0.08">200</text>
<text x="253.2" y="208.4" font-size="5.6" text-anchor="middle" fill="#1a1a1a" stroke="#1a1a1a" stroke-width="0.08">400</text>
<text x="279.9" y="208.4" font-size="5.6" text-anchor="middle" fill="#1a1a1a" stroke="#1a1a1a" stroke-width="0.08">600</text>
<text x="306.6" y="208.4" font-size="5.6" text-anchor="middle" fill="#1a1a1a" stroke="#1a1a1a" stroke-width="0.08">800</text>
<text x="333.3" y="208.4" font-size="5.6" text-anchor="middle" fill="#1a1a1a" stroke="#1a1a1a" stroke-width="0.08">1000</text>
<text x="266.3" y="218.1" font-size="7.7" font-weight="bold" text-anchor="middle" fill="#111" stroke="#111" stroke-width="0.35">Time (ps)</text>
<text transform="translate(188.15,181.65) rotate(-90)" font-size="7.42" font-weight="bold" text-anchor="middle" fill="#111" stroke="#111" stroke-width="0.35">Voltage (V)</text>
<line x1="397.12" y1="9.4" x2="397.12" y2="41.5" stroke="#f2f2f2" stroke-width="0.5"/>
<line x1="403.13" y1="9.4" x2="403.13" y2="41.5" stroke="#f2f2f2" stroke-width="0.5"/>
<line x1="409.15" y1="9.4" x2="409.15" y2="41.5" stroke="#f2f2f2" stroke-width="0.5"/>
<line x1="415.16" y1="9.4" x2="415.16" y2="41.5" stroke="#f2f2f2" stroke-width="0.5"/>
<line x1="421.18" y1="9.4" x2="421.18" y2="41.5" stroke="#dadada" stroke-width="0.5"/>
<line x1="427.2" y1="9.4" x2="427.2" y2="41.5" stroke="#f2f2f2" stroke-width="0.5"/>
<line x1="433.21" y1="9.4" x2="433.21" y2="41.5" stroke="#f2f2f2" stroke-width="0.5"/>
<line x1="439.23" y1="9.4" x2="439.23" y2="41.5" stroke="#f2f2f2" stroke-width="0.5"/>
<line x1="445.24" y1="9.4" x2="445.24" y2="41.5" stroke="#f2f2f2" stroke-width="0.5"/>
<line x1="451.26" y1="9.4" x2="451.26" y2="41.5" stroke="#dadada" stroke-width="0.5"/>
<line x1="457.28" y1="9.4" x2="457.28" y2="41.5" stroke="#f2f2f2" stroke-width="0.5"/>
<line x1="463.29" y1="9.4" x2="463.29" y2="41.5" stroke="#f2f2f2" stroke-width="0.5"/>
<line x1="469.31" y1="9.4" x2="469.31" y2="41.5" stroke="#f2f2f2" stroke-width="0.5"/>
<line x1="475.32" y1="9.4" x2="475.32" y2="41.5" stroke="#f2f2f2" stroke-width="0.5"/>
<line x1="481.34" y1="9.4" x2="481.34" y2="41.5" stroke="#dadada" stroke-width="0.5"/>
<line x1="487.36" y1="9.4" x2="487.36" y2="41.5" stroke="#f2f2f2" stroke-width="0.5"/>
<line x1="493.37" y1="9.4" x2="493.37" y2="41.5" stroke="#f2f2f2" stroke-width="0.5"/>
<line x1="499.39" y1="9.4" x2="499.39" y2="41.5" stroke="#f2f2f2" stroke-width="0.5"/>
<line x1="505.4" y1="9.4" x2="505.4" y2="41.5" stroke="#f2f2f2" stroke-width="0.5"/>
<line x1="511.42" y1="9.4" x2="511.42" y2="41.5" stroke="#dadada" stroke-width="0.5"/>
<line x1="517.44" y1="9.4" x2="517.44" y2="41.5" stroke="#f2f2f2" stroke-width="0.5"/>
<line x1="523.45" y1="9.4" x2="523.45" y2="41.5" stroke="#f2f2f2" stroke-width="0.5"/>
<line x1="529.47" y1="9.4" x2="529.47" y2="41.5" stroke="#f2f2f2" stroke-width="0.5"/>
<line x1="535.48" y1="9.4" x2="535.48" y2="41.5" stroke="#f2f2f2" stroke-width="0.5"/>
<line x1="541.5" y1="9.4" x2="541.5" y2="41.5" stroke="#dadada" stroke-width="0.5"/>
<line x1="391" y1="37.49" x2="543.4" y2="37.49" stroke="#f2f2f2" stroke-width="0.5"/>
<line x1="391" y1="33.48" x2="543.4" y2="33.48" stroke="#dadada" stroke-width="0.5"/>
<line x1="391" y1="29.46" x2="543.4" y2="29.46" stroke="#f2f2f2" stroke-width="0.5"/>
<line x1="391" y1="25.45" x2="543.4" y2="25.45" stroke="#dadada" stroke-width="0.5"/>
<line x1="391" y1="21.44" x2="543.4" y2="21.44" stroke="#f2f2f2" stroke-width="0.5"/>
<line x1="391" y1="17.42" x2="543.4" y2="17.42" stroke="#dadada" stroke-width="0.5"/>
<line x1="391" y1="13.41" x2="543.4" y2="13.41" stroke="#f2f2f2" stroke-width="0.5"/>
<line x1="391.1" y1="41.5" x2="391.1" y2="40" stroke="#777" stroke-width="0.6"/>
<line x1="397.12" y1="41.5" x2="397.12" y2="40.6" stroke="#777" stroke-width="0.6"/>
<line x1="403.13" y1="41.5" x2="403.13" y2="40.6" stroke="#777" stroke-width="0.6"/>
<line x1="409.15" y1="41.5" x2="409.15" y2="40.6" stroke="#777" stroke-width="0.6"/>
<line x1="415.16" y1="41.5" x2="415.16" y2="40.6" stroke="#777" stroke-width="0.6"/>
<line x1="421.18" y1="41.5" x2="421.18" y2="40" stroke="#777" stroke-width="0.6"/>
<line x1="427.2" y1="41.5" x2="427.2" y2="40.6" stroke="#777" stroke-width="0.6"/>
<line x1="433.21" y1="41.5" x2="433.21" y2="40.6" stroke="#777" stroke-width="0.6"/>
<line x1="439.23" y1="41.5" x2="439.23" y2="40.6" stroke="#777" stroke-width="0.6"/>
<line x1="445.24" y1="41.5" x2="445.24" y2="40.6" stroke="#777" stroke-width="0.6"/>
<line x1="451.26" y1="41.5" x2="451.26" y2="40" stroke="#777" stroke-width="0.6"/>
<line x1="457.28" y1="41.5" x2="457.28" y2="40.6" stroke="#777" stroke-width="0.6"/>
<line x1="463.29" y1="41.5" x2="463.29" y2="40.6" stroke="#777" stroke-width="0.6"/>
<line x1="469.31" y1="41.5" x2="469.31" y2="40.6" stroke="#777" stroke-width="0.6"/>
<line x1="475.32" y1="41.5" x2="475.32" y2="40.6" stroke="#777" stroke-width="0.6"/>
<line x1="481.34" y1="41.5" x2="481.34" y2="40" stroke="#777" stroke-width="0.6"/>
<line x1="487.36" y1="41.5" x2="487.36" y2="40.6" stroke="#777" stroke-width="0.6"/>
<line x1="493.37" y1="41.5" x2="493.37" y2="40.6" stroke="#777" stroke-width="0.6"/>
<line x1="499.39" y1="41.5" x2="499.39" y2="40.6" stroke="#777" stroke-width="0.6"/>
<line x1="505.4" y1="41.5" x2="505.4" y2="40.6" stroke="#777" stroke-width="0.6"/>
<line x1="511.42" y1="41.5" x2="511.42" y2="40" stroke="#777" stroke-width="0.6"/>
<line x1="517.44" y1="41.5" x2="517.44" y2="40.6" stroke="#777" stroke-width="0.6"/>
<line x1="523.45" y1="41.5" x2="523.45" y2="40.6" stroke="#777" stroke-width="0.6"/>
<line x1="529.47" y1="41.5" x2="529.47" y2="40.6" stroke="#777" stroke-width="0.6"/>
<line x1="535.48" y1="41.5" x2="535.48" y2="40.6" stroke="#777" stroke-width="0.6"/>
<line x1="541.5" y1="41.5" x2="541.5" y2="40" stroke="#777" stroke-width="0.6"/>
<line x1="391" y1="41.5" x2="392.5" y2="41.5" stroke="#777" stroke-width="0.6"/>
<line x1="391" y1="39.49" x2="391.9" y2="39.49" stroke="#777" stroke-width="0.6"/>
<line x1="391" y1="37.49" x2="391.9" y2="37.49" stroke="#777" stroke-width="0.6"/>
<line x1="391" y1="35.48" x2="391.9" y2="35.48" stroke="#777" stroke-width="0.6"/>
<line x1="391" y1="33.48" x2="392.5" y2="33.48" stroke="#777" stroke-width="0.6"/>
<line x1="391" y1="31.47" x2="391.9" y2="31.47" stroke="#777" stroke-width="0.6"/>
<line x1="391" y1="29.46" x2="391.9" y2="29.46" stroke="#777" stroke-width="0.6"/>
<line x1="391" y1="27.46" x2="391.9" y2="27.46" stroke="#777" stroke-width="0.6"/>
<line x1="391" y1="25.45" x2="392.5" y2="25.45" stroke="#777" stroke-width="0.6"/>
<line x1="391" y1="23.44" x2="391.9" y2="23.44" stroke="#777" stroke-width="0.6"/>
<line x1="391" y1="21.44" x2="391.9" y2="21.44" stroke="#777" stroke-width="0.6"/>
<line x1="391" y1="19.43" x2="391.9" y2="19.43" stroke="#777" stroke-width="0.6"/>
<line x1="391" y1="17.42" x2="392.5" y2="17.42" stroke="#777" stroke-width="0.6"/>
<line x1="391" y1="15.42" x2="391.9" y2="15.42" stroke="#777" stroke-width="0.6"/>
<line x1="391" y1="13.41" x2="391.9" y2="13.41" stroke="#777" stroke-width="0.6"/>
<line x1="391" y1="11.41" x2="391.9" y2="11.41" stroke="#777" stroke-width="0.6"/>
<line x1="391" y1="9.4" x2="392.5" y2="9.4" stroke="#777" stroke-width="0.6"/>
<polyline points="391.1,26.17 391.4,25.86 391.7,25.56 392,25.25 392.3,24.95 392.6,24.65 392.9,24.35 393.21,24.06 393.51,23.78 393.81,23.5 394.11,23.24 394.41,22.98 394.71,22.73 395.01,22.49 395.31,22.27 395.61,22.05 395.91,21.85 396.21,21.67 396.51,21.5 396.82,21.34 397.12,21.2 397.42,21.08 397.72,20.98 398.02,20.89 398.32,20.82 398.62,20.77 398.92,20.73 399.22,20.72 399.52,20.72 399.82,20.74 400.12,20.78 400.42,20.83 400.73,20.91 401.03,21 401.33,21.11 401.63,21.23 401.93,21.38 402.23,21.53 402.53,21.71 402.83,21.89 403.13,22.1 403.43,22.31 403.73,22.54 404.03,22.78 404.34,23.03 404.64,23.29 404.94,23.56 405.24,23.84 405.54,24.12 405.84,24.42 406.14,24.71 406.44,25.01 406.74,25.32 407.04,25.62 407.34,25.93 407.64,26.23 407.94,26.54 408.25,26.84 408.55,27.14 408.85,27.43 409.15,27.72 409.45,28 409.75,28.28 410.05,28.54 410.35,28.8 410.65,29.04 410.95,29.28 411.25,29.5 411.55,29.71 411.86,29.9 412.16,30.08 412.46,30.25 412.76,30.4 413.06,30.53 413.36,30.65 413.66,30.75 413.96,30.83 414.26,30.9 414.56,30.95 414.86,30.97 415.16,30.99 415.46,30.98 415.77,30.95 416.07,30.91 416.37,30.85 416.67,30.77 416.97,30.67 417.27,30.56 417.57,30.43 417.87,30.28 418.17,30.12 418.47,29.94 418.77,29.75 419.07,29.54 419.38,29.32 419.68,29.09 419.98,28.85 420.28,28.59 420.58,28.33 420.88,28.06 421.18,27.78 421.48,27.49 421.78,27.2 422.08,26.9 422.38,26.6 422.68,26.3 422.98,25.99 423.29,25.68 423.59,25.38 423.89,25.07 424.19,24.77 424.49,24.48 424.79,24.18 425.09,23.9 425.39,23.62 425.69,23.35 425.99,23.08 426.29,22.83 426.59,22.59 426.9,22.36 427.2,22.14 427.5,21.94 427.8,21.74 428.1,21.57 428.4,21.41 428.7,21.26 429,21.13 429.3,21.02 429.6,20.92 429.9,20.85 430.2,20.79 430.5,20.74 430.81,20.72 431.11,20.71 431.41,20.73 431.71,20.76 432.01,20.81 432.31,20.87 432.61,20.96 432.91,21.06 433.21,21.18 433.51,21.31 433.81,21.46 434.11,21.63 434.42,21.81 434.72,22.01 435.02,22.22 435.32,22.44 435.62,22.68 435.92,22.92 436.22,23.18 436.52,23.45 436.82,23.72 437.12,24 437.42,24.29 437.72,24.59 438.02,24.89 438.33,25.19 438.63,25.49 438.93,25.8 439.23,26.1 439.53,26.41 439.83,26.71 440.13,27.01 440.43,27.31 440.73,27.6 441.03,27.88 441.33,28.16 441.63,28.43 441.94,28.69 442.24,28.94 442.54,29.18 442.84,29.41 443.14,29.62 443.44,29.82 443.74,30.01 444.04,30.18 444.34,30.34 444.64,30.48 444.94,30.6 445.24,30.71 445.54,30.8 445.85,30.87 446.15,30.93 446.45,30.96 446.75,30.98 447.05,30.98 447.35,30.97 447.65,30.93 447.95,30.88 448.25,30.8 448.55,30.71 448.85,30.61 449.15,30.48 449.46,30.34 449.76,30.19 450.06,30.02 450.36,29.83 450.66,29.63 450.96,29.42 451.26,29.19 451.56,28.95 451.86,28.7 452.16,28.44 452.46,28.17 452.76,27.9 453.06,27.61 453.37,27.32 453.67,27.03 453.97,26.73 454.27,26.42 454.57,26.12 454.87,25.81 455.17,25.51 455.47,25.2 455.77,24.9 456.07,24.6 456.37,24.31 456.67,24.02 456.98,23.73 457.28,23.46 457.58,23.19 457.88,22.94 458.18,22.69 458.48,22.45 458.78,22.23 459.08,22.02 459.38,21.82 459.68,21.64 459.98,21.47 460.28,21.32 460.58,21.18 460.89,21.06 461.19,20.96 461.49,20.88 461.79,20.81 462.09,20.76 462.39,20.73 462.69,20.71 462.99,20.72 463.29,20.74 463.59,20.78 463.89,20.84 464.19,20.92 464.5,21.01 464.8,21.13 465.1,21.25 465.4,21.4 465.7,21.56 466,21.74 466.3,21.93 466.6,22.13 466.9,22.35 467.2,22.58 467.5,22.82 467.8,23.07 468.1,23.33 468.41,23.61 468.71,23.89 469.01,24.17 469.31,24.46 469.61,24.76 469.91,25.06 470.21,25.37 470.51,25.67 470.81,25.98 471.11,26.28 471.41,26.59 471.71,26.89 472.02,27.19 472.32,27.48 472.62,27.77 472.92,28.05 473.22,28.32 473.52,28.58 473.82,28.84 474.12,29.08 474.42,29.31 474.72,29.53 475.02,29.74 475.32,29.93 475.62,30.11 475.93,30.27 476.23,30.42 476.53,30.55 476.83,30.67 477.13,30.76 477.43,30.84 477.73,30.91 478.03,30.95 478.33,30.98 478.63,30.99 478.93,30.98 479.23,30.95 479.54,30.9 479.84,30.84 480.14,30.75 480.44,30.65 480.74,30.54 481.04,30.4 481.34,30.26 481.64,30.09 481.94,29.91 482.24,29.72 482.54,29.51 482.84,29.29 483.14,29.05 483.45,28.81 483.75,28.55 484.05,28.29 484.35,28.01 484.65,27.73 484.95,27.44 485.25,27.15 485.55,26.85 485.85,26.55 486.15,26.25 486.45,25.94 486.75,25.63 487.06,25.33 487.36,25.03 487.66,24.73 487.96,24.43 488.26,24.14 488.56,23.85 488.86,23.57 489.16,23.3 489.46,23.04 489.76,22.79 490.06,22.55 490.36,22.32 490.66,22.11 490.97,21.9 491.27,21.71 491.57,21.54 491.87,21.38 492.17,21.24 492.47,21.11 492.77,21 493.07,20.91 493.37,20.84 493.67,20.78 493.97,20.74 494.27,20.72 494.58,20.72 494.88,20.73 495.18,20.76 495.48,20.82 495.78,20.89 496.08,20.97 496.38,21.08 496.68,21.2 496.98,21.34 497.28,21.49 497.58,21.66 497.88,21.85 498.18,22.04 498.49,22.26 498.79,22.48 499.09,22.72 499.39,22.97 499.69,23.22 499.99,23.49 500.29,23.77 500.59,24.05 500.89,24.34 501.19,24.64 501.49,24.94 501.79,25.24 502.1,25.54 502.4,25.85 502.7,26.15 503,26.46 503.3,26.76 503.6,27.06 503.9,27.36 504.2,27.65 504.5,27.93 504.8,28.21 505.1,28.47 505.4,28.73 505.7,28.98 506.01,29.22 506.31,29.44 506.61,29.65 506.91,29.85 507.21,30.04 507.51,30.21 507.81,30.36 508.11,30.5 508.41,30.62 508.71,30.73 509.01,30.81 509.31,30.88 509.62,30.94 509.92,30.97 510.22,30.98 510.52,30.98 510.82,30.96 511.12,30.92 511.42,30.87 511.72,30.79 512.02,30.7 512.32,30.59 512.62,30.46 512.92,30.32 513.22,30.16 513.53,29.99 513.83,29.8 514.13,29.6 514.43,29.38 514.73,29.15 515.03,28.91 515.33,28.66 515.63,28.4 515.93,28.13 516.23,27.85 516.53,27.57 516.83,27.27 517.14,26.98 517.44,26.68 517.74,26.37 518.04,26.07 518.34,25.76 518.64,25.46 518.94,25.15 519.24,24.85 519.54,24.55 519.84,24.26 520.14,23.97 520.44,23.69 520.74,23.42 521.05,23.15 521.35,22.89 521.65,22.65 521.95,22.42 522.25,22.19 522.55,21.99 522.85,21.79 523.15,21.61 523.45,21.45 523.75,21.3 524.05,21.16 524.35,21.05 524.66,20.95 524.96,20.86 525.26,20.8 525.56,20.75 525.86,20.72 526.16,20.71 526.46,20.72 526.76,20.75 527.06,20.79 527.36,20.85 527.66,20.93 527.96,21.03 528.26,21.15 528.57,21.28 528.87,21.42 529.17,21.59 529.47,21.77 529.77,21.96 530.07,22.17 530.37,22.39 530.67,22.62 530.97,22.86 531.27,23.11 531.57,23.38 531.87,23.65 532.18,23.93 532.48,24.22 532.78,24.51 533.08,24.81 533.38,25.11 533.68,25.41 533.98,25.72 534.28,26.03 534.58,26.33 534.88,26.64 535.18,26.94 535.48,27.23 535.78,27.53 536.09,27.81 536.39,28.09 536.69,28.36 536.99,28.62 537.29,28.88 537.59,29.12 537.89,29.35 538.19,29.57 538.49,29.77 538.79,29.96 539.09,30.14 539.39,30.3 539.7,30.44 540,30.57 540.3,30.68 540.6,30.78 540.9,30.86 541.2,30.92 541.5,30.96" fill="none" stroke="#61c045" stroke-width="1.3" stroke-linejoin="round" stroke-linecap="butt"/>
<rect x="391" y="9.4" width="152.4" height="32.1" fill="none" stroke="#a2a2a2" stroke-width="1.0"/>
<rect x="464.3" y="11.1" width="60.3" height="6.8" fill="#fff" stroke="#c4c4c4" stroke-width="0.5"/>
<line x1="465.2" y1="14.5" x2="476.1" y2="14.5" stroke="#61c045" stroke-width="1.1"/>
<text x="477.9" y="16.06" font-size="5.2" font-weight="bold" textLength="46" lengthAdjust="spacingAndGlyphs" fill="#111" stroke="#111" stroke-width="0.12">External VCO Output</text>
<text x="389" y="42.85" font-size="6.5" text-anchor="end" fill="#1a1a1a" stroke="#1a1a1a" stroke-width="0.08">-2</text>
<text x="389" y="34.82" font-size="6.5" text-anchor="end" fill="#1a1a1a" stroke="#1a1a1a" stroke-width="0.08">-1</text>
<text x="389" y="26.79" font-size="6.5" text-anchor="end" fill="#1a1a1a" stroke="#1a1a1a" stroke-width="0.08">0</text>
<text x="389" y="18.77" font-size="6.5" text-anchor="end" fill="#1a1a1a" stroke="#1a1a1a" stroke-width="0.08">1</text>
<text x="389" y="10.74" font-size="6.5" text-anchor="end" fill="#1a1a1a" stroke="#1a1a1a" stroke-width="0.08">2</text>
<text x="391.3" y="47.9" font-size="6.5" text-anchor="middle" fill="#1a1a1a" stroke="#1a1a1a" stroke-width="0.08">0</text>
<text x="421.38" y="47.9" font-size="6.5" text-anchor="middle" fill="#1a1a1a" stroke="#1a1a1a" stroke-width="0.08">200</text>
<text x="451.46" y="47.9" font-size="6.5" text-anchor="middle" fill="#1a1a1a" stroke="#1a1a1a" stroke-width="0.08">400</text>
<text x="481.54" y="47.9" font-size="6.5" text-anchor="middle" fill="#1a1a1a" stroke="#1a1a1a" stroke-width="0.08">600</text>
<text x="511.62" y="47.9" font-size="6.5" text-anchor="middle" fill="#1a1a1a" stroke="#1a1a1a" stroke-width="0.08">800</text>
<text x="541.7" y="47.9" font-size="6.5" text-anchor="middle" fill="#1a1a1a" stroke="#1a1a1a" stroke-width="0.08">1000</text>
<text x="466.4" y="60.2" font-size="8.3" font-weight="bold" text-anchor="middle" fill="#111" stroke="#111" stroke-width="0.35">Time (ps)</text>
<text transform="translate(377.9,23.15) rotate(-90)" font-size="8.55" font-weight="bold" text-anchor="middle" fill="#111" stroke="#111" stroke-width="0.35">Voltage (V)</text>
<line x1="397.12" y1="70.6" x2="397.12" y2="103.3" stroke="#f2f2f2" stroke-width="0.5"/>
<line x1="403.13" y1="70.6" x2="403.13" y2="103.3" stroke="#f2f2f2" stroke-width="0.5"/>
<line x1="409.15" y1="70.6" x2="409.15" y2="103.3" stroke="#f2f2f2" stroke-width="0.5"/>
<line x1="415.16" y1="70.6" x2="415.16" y2="103.3" stroke="#f2f2f2" stroke-width="0.5"/>
<line x1="421.18" y1="70.6" x2="421.18" y2="103.3" stroke="#dadada" stroke-width="0.5"/>
<line x1="427.2" y1="70.6" x2="427.2" y2="103.3" stroke="#f2f2f2" stroke-width="0.5"/>
<line x1="433.21" y1="70.6" x2="433.21" y2="103.3" stroke="#f2f2f2" stroke-width="0.5"/>
<line x1="439.23" y1="70.6" x2="439.23" y2="103.3" stroke="#f2f2f2" stroke-width="0.5"/>
<line x1="445.24" y1="70.6" x2="445.24" y2="103.3" stroke="#f2f2f2" stroke-width="0.5"/>
<line x1="451.26" y1="70.6" x2="451.26" y2="103.3" stroke="#dadada" stroke-width="0.5"/>
<line x1="457.28" y1="70.6" x2="457.28" y2="103.3" stroke="#f2f2f2" stroke-width="0.5"/>
<line x1="463.29" y1="70.6" x2="463.29" y2="103.3" stroke="#f2f2f2" stroke-width="0.5"/>
<line x1="469.31" y1="70.6" x2="469.31" y2="103.3" stroke="#f2f2f2" stroke-width="0.5"/>
<line x1="475.32" y1="70.6" x2="475.32" y2="103.3" stroke="#f2f2f2" stroke-width="0.5"/>
<line x1="481.34" y1="70.6" x2="481.34" y2="103.3" stroke="#dadada" stroke-width="0.5"/>
<line x1="487.36" y1="70.6" x2="487.36" y2="103.3" stroke="#f2f2f2" stroke-width="0.5"/>
<line x1="493.37" y1="70.6" x2="493.37" y2="103.3" stroke="#f2f2f2" stroke-width="0.5"/>
<line x1="499.39" y1="70.6" x2="499.39" y2="103.3" stroke="#f2f2f2" stroke-width="0.5"/>
<line x1="505.4" y1="70.6" x2="505.4" y2="103.3" stroke="#f2f2f2" stroke-width="0.5"/>
<line x1="511.42" y1="70.6" x2="511.42" y2="103.3" stroke="#dadada" stroke-width="0.5"/>
<line x1="517.44" y1="70.6" x2="517.44" y2="103.3" stroke="#f2f2f2" stroke-width="0.5"/>
<line x1="523.45" y1="70.6" x2="523.45" y2="103.3" stroke="#f2f2f2" stroke-width="0.5"/>
<line x1="529.47" y1="70.6" x2="529.47" y2="103.3" stroke="#f2f2f2" stroke-width="0.5"/>
<line x1="535.48" y1="70.6" x2="535.48" y2="103.3" stroke="#f2f2f2" stroke-width="0.5"/>
<line x1="541.5" y1="70.6" x2="541.5" y2="103.3" stroke="#dadada" stroke-width="0.5"/>
<line x1="391" y1="99.21" x2="543.4" y2="99.21" stroke="#f2f2f2" stroke-width="0.5"/>
<line x1="391" y1="95.12" x2="543.4" y2="95.12" stroke="#dadada" stroke-width="0.5"/>
<line x1="391" y1="91.04" x2="543.4" y2="91.04" stroke="#f2f2f2" stroke-width="0.5"/>
<line x1="391" y1="86.95" x2="543.4" y2="86.95" stroke="#dadada" stroke-width="0.5"/>
<line x1="391" y1="82.86" x2="543.4" y2="82.86" stroke="#f2f2f2" stroke-width="0.5"/>
<line x1="391" y1="78.77" x2="543.4" y2="78.77" stroke="#dadada" stroke-width="0.5"/>
<line x1="391" y1="74.69" x2="543.4" y2="74.69" stroke="#f2f2f2" stroke-width="0.5"/>
<line x1="391.1" y1="103.3" x2="391.1" y2="101.8" stroke="#777" stroke-width="0.6"/>
<line x1="397.12" y1="103.3" x2="397.12" y2="102.4" stroke="#777" stroke-width="0.6"/>
<line x1="403.13" y1="103.3" x2="403.13" y2="102.4" stroke="#777" stroke-width="0.6"/>
<line x1="409.15" y1="103.3" x2="409.15" y2="102.4" stroke="#777" stroke-width="0.6"/>
<line x1="415.16" y1="103.3" x2="415.16" y2="102.4" stroke="#777" stroke-width="0.6"/>
<line x1="421.18" y1="103.3" x2="421.18" y2="101.8" stroke="#777" stroke-width="0.6"/>
<line x1="427.2" y1="103.3" x2="427.2" y2="102.4" stroke="#777" stroke-width="0.6"/>
<line x1="433.21" y1="103.3" x2="433.21" y2="102.4" stroke="#777" stroke-width="0.6"/>
<line x1="439.23" y1="103.3" x2="439.23" y2="102.4" stroke="#777" stroke-width="0.6"/>
<line x1="445.24" y1="103.3" x2="445.24" y2="102.4" stroke="#777" stroke-width="0.6"/>
<line x1="451.26" y1="103.3" x2="451.26" y2="101.8" stroke="#777" stroke-width="0.6"/>
<line x1="457.28" y1="103.3" x2="457.28" y2="102.4" stroke="#777" stroke-width="0.6"/>
<line x1="463.29" y1="103.3" x2="463.29" y2="102.4" stroke="#777" stroke-width="0.6"/>
<line x1="469.31" y1="103.3" x2="469.31" y2="102.4" stroke="#777" stroke-width="0.6"/>
<line x1="475.32" y1="103.3" x2="475.32" y2="102.4" stroke="#777" stroke-width="0.6"/>
<line x1="481.34" y1="103.3" x2="481.34" y2="101.8" stroke="#777" stroke-width="0.6"/>
<line x1="487.36" y1="103.3" x2="487.36" y2="102.4" stroke="#777" stroke-width="0.6"/>
<line x1="493.37" y1="103.3" x2="493.37" y2="102.4" stroke="#777" stroke-width="0.6"/>
<line x1="499.39" y1="103.3" x2="499.39" y2="102.4" stroke="#777" stroke-width="0.6"/>
<line x1="505.4" y1="103.3" x2="505.4" y2="102.4" stroke="#777" stroke-width="0.6"/>
<line x1="511.42" y1="103.3" x2="511.42" y2="101.8" stroke="#777" stroke-width="0.6"/>
<line x1="517.44" y1="103.3" x2="517.44" y2="102.4" stroke="#777" stroke-width="0.6"/>
<line x1="523.45" y1="103.3" x2="523.45" y2="102.4" stroke="#777" stroke-width="0.6"/>
<line x1="529.47" y1="103.3" x2="529.47" y2="102.4" stroke="#777" stroke-width="0.6"/>
<line x1="535.48" y1="103.3" x2="535.48" y2="102.4" stroke="#777" stroke-width="0.6"/>
<line x1="541.5" y1="103.3" x2="541.5" y2="101.8" stroke="#777" stroke-width="0.6"/>
<line x1="391" y1="103.3" x2="392.5" y2="103.3" stroke="#777" stroke-width="0.6"/>
<line x1="391" y1="101.26" x2="391.9" y2="101.26" stroke="#777" stroke-width="0.6"/>
<line x1="391" y1="99.21" x2="391.9" y2="99.21" stroke="#777" stroke-width="0.6"/>
<line x1="391" y1="97.17" x2="391.9" y2="97.17" stroke="#777" stroke-width="0.6"/>
<line x1="391" y1="95.12" x2="392.5" y2="95.12" stroke="#777" stroke-width="0.6"/>
<line x1="391" y1="93.08" x2="391.9" y2="93.08" stroke="#777" stroke-width="0.6"/>
<line x1="391" y1="91.04" x2="391.9" y2="91.04" stroke="#777" stroke-width="0.6"/>
<line x1="391" y1="88.99" x2="391.9" y2="88.99" stroke="#777" stroke-width="0.6"/>
<line x1="391" y1="86.95" x2="392.5" y2="86.95" stroke="#777" stroke-width="0.6"/>
<line x1="391" y1="84.91" x2="391.9" y2="84.91" stroke="#777" stroke-width="0.6"/>
<line x1="391" y1="82.86" x2="391.9" y2="82.86" stroke="#777" stroke-width="0.6"/>
<line x1="391" y1="80.82" x2="391.9" y2="80.82" stroke="#777" stroke-width="0.6"/>
<line x1="391" y1="78.77" x2="392.5" y2="78.77" stroke="#777" stroke-width="0.6"/>
<line x1="391" y1="76.73" x2="391.9" y2="76.73" stroke="#777" stroke-width="0.6"/>
<line x1="391" y1="74.69" x2="391.9" y2="74.69" stroke="#777" stroke-width="0.6"/>
<line x1="391" y1="72.64" x2="391.9" y2="72.64" stroke="#777" stroke-width="0.6"/>
<line x1="391" y1="70.6" x2="392.5" y2="70.6" stroke="#777" stroke-width="0.6"/>
<polyline points="391.1,93.72 391.4,93.69 391.7,93.63 392,93.56 392.3,93.46 392.6,93.34 392.9,93.2 393.21,93.04 393.51,92.85 393.81,92.65 394.11,92.43 394.41,92.19 394.71,91.93 395.01,91.65 395.31,91.36 395.61,91.06 395.91,90.74 396.21,90.41 396.51,90.07 396.82,89.72 397.12,89.36 397.42,89 397.72,88.62 398.02,88.25 398.32,87.87 398.62,87.48 398.92,87.1 399.22,86.72 399.52,86.34 399.82,85.96 400.12,85.59 400.42,85.23 400.73,84.87 401.03,84.52 401.33,84.19 401.63,83.86 401.93,83.55 402.23,83.25 402.53,82.96 402.83,82.69 403.13,82.44 403.43,82.2 403.73,81.99 404.03,81.79 404.34,81.61 404.64,81.46 404.94,81.32 405.24,81.21 405.54,81.12 405.84,81.05 406.14,81 406.44,80.98 406.74,80.98 407.04,81 407.34,81.04 407.64,81.11 407.94,81.2 408.25,81.31 408.55,81.45 408.85,81.6 409.15,81.78 409.45,81.98 409.75,82.19 410.05,82.43 410.35,82.68 410.65,82.95 410.95,83.23 411.25,83.53 411.55,83.84 411.86,84.17 412.16,84.5 412.46,84.85 412.76,85.21 413.06,85.57 413.36,85.94 413.66,86.32 413.96,86.7 414.26,87.08 414.56,87.46 414.86,87.84 415.16,88.22 415.46,88.6 415.77,88.97 416.07,89.34 416.37,89.7 416.67,90.05 416.97,90.39 417.27,90.72 417.57,91.04 417.87,91.35 418.17,91.64 418.47,91.91 418.77,92.17 419.07,92.41 419.38,92.64 419.68,92.84 419.98,93.03 420.28,93.19 420.58,93.33 420.88,93.45 421.18,93.55 421.48,93.63 421.78,93.69 422.08,93.72 422.38,93.73 422.68,93.71 422.98,93.68 423.29,93.62 423.59,93.53 423.89,93.43 424.19,93.3 424.49,93.15 424.79,92.99 425.09,92.8 425.39,92.59 425.69,92.36 425.99,92.12 426.29,91.85 426.59,91.57 426.9,91.28 427.2,90.97 427.5,90.65 427.8,90.32 428.1,89.97 428.4,89.62 428.7,89.26 429,88.89 429.3,88.52 429.6,88.14 429.9,87.76 430.2,87.38 430.5,86.99 430.81,86.61 431.11,86.23 431.41,85.86 431.71,85.49 432.01,85.13 432.31,84.77 432.61,84.43 432.91,84.09 433.21,83.77 433.51,83.46 433.81,83.17 434.11,82.88 434.42,82.62 434.72,82.37 435.02,82.14 435.32,81.93 435.62,81.74 435.92,81.57 436.22,81.42 436.52,81.29 436.82,81.18 437.12,81.09 437.42,81.03 437.72,80.99 438.02,80.97 438.33,80.98 438.63,81.01 438.93,81.06 439.23,81.13 439.53,81.23 439.83,81.35 440.13,81.49 440.43,81.65 440.73,81.83 441.03,82.03 441.33,82.25 441.63,82.49 441.94,82.75 442.24,83.02 442.54,83.31 442.84,83.61 443.14,83.93 443.44,84.26 443.74,84.6 444.04,84.95 444.34,85.31 444.64,85.67 444.94,86.05 445.24,86.42 445.54,86.8 445.85,87.19 446.15,87.57 446.45,87.95 446.75,88.33 447.05,88.71 447.35,89.08 447.65,89.44 447.95,89.8 448.25,90.15 448.55,90.49 448.85,90.81 449.15,91.13 449.46,91.43 449.76,91.72 450.06,91.99 450.36,92.24 450.66,92.48 450.96,92.7 451.26,92.89 451.56,93.07 451.86,93.23 452.16,93.37 452.46,93.48 452.76,93.58 453.06,93.65 453.37,93.7 453.67,93.72 453.97,93.72 454.27,93.7 454.57,93.66 454.87,93.6 455.17,93.51 455.47,93.4 455.77,93.26 456.07,93.11 456.37,92.94 456.67,92.74 456.98,92.53 457.28,92.29 457.58,92.04 457.88,91.78 458.18,91.49 458.48,91.2 458.78,90.88 459.08,90.56 459.38,90.22 459.68,89.88 459.98,89.52 460.28,89.16 460.58,88.79 460.89,88.41 461.19,88.03 461.49,87.65 461.79,87.27 462.09,86.89 462.39,86.51 462.69,86.13 462.99,85.76 463.29,85.39 463.59,85.03 463.89,84.68 464.19,84.33 464.5,84 464.8,83.68 465.1,83.38 465.4,83.09 465.7,82.81 466,82.55 466.3,82.31 466.6,82.08 466.9,81.88 467.2,81.69 467.5,81.52 467.8,81.38 468.1,81.25 468.41,81.15 468.71,81.07 469.01,81.02 469.31,80.98 469.61,80.97 469.91,80.99 470.21,81.02 470.51,81.08 470.81,81.16 471.11,81.26 471.41,81.39 471.71,81.53 472.02,81.7 472.32,81.89 472.62,82.09 472.92,82.32 473.22,82.56 473.52,82.82 473.82,83.1 474.12,83.4 474.42,83.7 474.72,84.02 475.02,84.35 475.32,84.7 475.62,85.05 475.93,85.41 476.23,85.78 476.53,86.15 476.83,86.53 477.13,86.91 477.43,87.29 477.73,87.67 478.03,88.06 478.33,88.43 478.63,88.81 478.93,89.18 479.23,89.54 479.54,89.9 479.84,90.24 480.14,90.58 480.44,90.9 480.74,91.21 481.04,91.51 481.34,91.79 481.64,92.06 481.94,92.31 482.24,92.54 482.54,92.75 482.84,92.95 483.14,93.12 483.45,93.27 483.75,93.4 484.05,93.51 484.35,93.6 484.65,93.66 484.95,93.71 485.25,93.73 485.55,93.72 485.85,93.69 486.15,93.64 486.45,93.57 486.75,93.48 487.06,93.36 487.36,93.22 487.66,93.06 487.96,92.88 488.26,92.68 488.56,92.46 488.86,92.23 489.16,91.97 489.46,91.7 489.76,91.41 490.06,91.11 490.36,90.79 490.66,90.47 490.97,90.13 491.27,89.78 491.57,89.42 491.87,89.05 492.17,88.68 492.47,88.31 492.77,87.93 493.07,87.55 493.37,87.16 493.67,86.78 493.97,86.4 494.27,86.02 494.58,85.65 494.88,85.29 495.18,84.93 495.48,84.58 495.78,84.24 496.08,83.91 496.38,83.6 496.68,83.29 496.98,83.01 497.28,82.73 497.58,82.48 497.88,82.24 498.18,82.02 498.49,81.82 498.79,81.64 499.09,81.48 499.39,81.34 499.69,81.22 499.99,81.13 500.29,81.06 500.59,81.01 500.89,80.98 501.19,80.97 501.49,80.99 501.79,81.03 502.1,81.1 502.4,81.19 502.7,81.29 503,81.42 503.3,81.58 503.6,81.75 503.9,81.94 504.2,82.15 504.5,82.39 504.8,82.63 505.1,82.9 505.4,83.18 505.7,83.48 506.01,83.79 506.31,84.11 506.61,84.45 506.91,84.79 507.21,85.15 507.51,85.51 507.81,85.88 508.11,86.26 508.41,86.64 508.71,87.02 509.01,87.4 509.31,87.78 509.62,88.16 509.92,88.54 510.22,88.91 510.52,89.28 510.82,89.64 511.12,89.99 511.42,90.34 511.72,90.67 512.02,90.99 512.32,91.3 512.62,91.59 512.92,91.87 513.22,92.13 513.53,92.38 513.83,92.6 514.13,92.81 514.43,93 514.73,93.16 515.03,93.31 515.33,93.44 515.63,93.54 515.93,93.62 516.23,93.68 516.53,93.71 516.83,93.73 517.14,93.72 517.44,93.68 517.74,93.63 518.04,93.55 518.34,93.45 518.64,93.32 518.94,93.18 519.24,93.02 519.54,92.83 519.84,92.62 520.14,92.4 520.44,92.16 520.74,91.9 521.05,91.62 521.35,91.33 521.65,91.02 521.95,90.7 522.25,90.37 522.55,90.03 522.85,89.68 523.15,89.32 523.45,88.95 523.75,88.58 524.05,88.2 524.35,87.82 524.66,87.44 524.96,87.06 525.26,86.67 525.56,86.3 525.86,85.92 526.16,85.55 526.46,85.19 526.76,84.83 527.06,84.48 527.36,84.15 527.66,83.82 527.96,83.51 528.26,83.21 528.57,82.93 528.87,82.66 529.17,82.41 529.47,82.18 529.77,81.96 530.07,81.77 530.37,81.59 530.67,81.44 530.97,81.31 531.27,81.2 531.57,81.11 531.87,81.04 532.18,81 532.48,80.98 532.78,80.98 533.08,81 533.38,81.05 533.68,81.12 533.98,81.21 534.28,81.33 534.58,81.47 534.88,81.62 535.18,81.8 535.48,82 535.78,82.22 536.09,82.45 536.39,82.71 536.69,82.98 536.99,83.26 537.29,83.56 537.59,83.88 537.89,84.21 538.19,84.54 538.49,84.89 538.79,85.25 539.09,85.62 539.39,85.99 539.7,86.36 540,86.74 540.3,87.12 540.6,87.51 540.9,87.89 541.2,88.27 541.5,88.64" fill="none" stroke="#3d7fdb" stroke-width="1.3" stroke-linejoin="round" stroke-linecap="butt"/>
<rect x="391" y="70.6" width="152.4" height="32.7" fill="none" stroke="#a2a2a2" stroke-width="1.0"/>
<rect x="480.4" y="72.3" width="43" height="6.6" fill="#fff" stroke="#c4c4c4" stroke-width="0.5"/>
<line x1="481.5" y1="75.6" x2="492.4" y2="75.6" stroke="#3d7fdb" stroke-width="1.1"/>
<text x="494" y="77.16" font-size="5.2" font-weight="bold" textLength="28.9" lengthAdjust="spacingAndGlyphs" fill="#111" stroke="#111" stroke-width="0.12">Balun Output</text>
<text x="389" y="104.64" font-size="6.5" text-anchor="end" fill="#1a1a1a" stroke="#1a1a1a" stroke-width="0.08">-2</text>
<text x="389" y="96.47" font-size="6.5" text-anchor="end" fill="#1a1a1a" stroke="#1a1a1a" stroke-width="0.08">-1</text>
<text x="389" y="88.29" font-size="6.5" text-anchor="end" fill="#1a1a1a" stroke="#1a1a1a" stroke-width="0.08">0</text>
<text x="389" y="80.12" font-size="6.5" text-anchor="end" fill="#1a1a1a" stroke="#1a1a1a" stroke-width="0.08">1</text>
<text x="389" y="71.94" font-size="6.5" text-anchor="end" fill="#1a1a1a" stroke="#1a1a1a" stroke-width="0.08">2</text>
<text x="391.3" y="109.7" font-size="6.5" text-anchor="middle" fill="#1a1a1a" stroke="#1a1a1a" stroke-width="0.08">0</text>
<text x="421.38" y="109.7" font-size="6.5" text-anchor="middle" fill="#1a1a1a" stroke="#1a1a1a" stroke-width="0.08">200</text>
<text x="451.46" y="109.7" font-size="6.5" text-anchor="middle" fill="#1a1a1a" stroke="#1a1a1a" stroke-width="0.08">400</text>
<text x="481.54" y="109.7" font-size="6.5" text-anchor="middle" fill="#1a1a1a" stroke="#1a1a1a" stroke-width="0.08">600</text>
<text x="511.62" y="109.7" font-size="6.5" text-anchor="middle" fill="#1a1a1a" stroke="#1a1a1a" stroke-width="0.08">800</text>
<text x="541.7" y="109.7" font-size="6.5" text-anchor="middle" fill="#1a1a1a" stroke="#1a1a1a" stroke-width="0.08">1000</text>
<text x="466.4" y="122" font-size="8.3" font-weight="bold" text-anchor="middle" fill="#111" stroke="#111" stroke-width="0.35">Time (ps)</text>
<text transform="translate(377.9,84.65) rotate(-90)" font-size="8.55" font-weight="bold" text-anchor="middle" fill="#111" stroke="#111" stroke-width="0.35">Voltage (V)</text>
<line x1="397.12" y1="132.4" x2="397.12" y2="164.6" stroke="#f2f2f2" stroke-width="0.5"/>
<line x1="403.13" y1="132.4" x2="403.13" y2="164.6" stroke="#f2f2f2" stroke-width="0.5"/>
<line x1="409.15" y1="132.4" x2="409.15" y2="164.6" stroke="#f2f2f2" stroke-width="0.5"/>
<line x1="415.16" y1="132.4" x2="415.16" y2="164.6" stroke="#f2f2f2" stroke-width="0.5"/>
<line x1="421.18" y1="132.4" x2="421.18" y2="164.6" stroke="#dadada" stroke-width="0.5"/>
<line x1="427.2" y1="132.4" x2="427.2" y2="164.6" stroke="#f2f2f2" stroke-width="0.5"/>
<line x1="433.21" y1="132.4" x2="433.21" y2="164.6" stroke="#f2f2f2" stroke-width="0.5"/>
<line x1="439.23" y1="132.4" x2="439.23" y2="164.6" stroke="#f2f2f2" stroke-width="0.5"/>
<line x1="445.24" y1="132.4" x2="445.24" y2="164.6" stroke="#f2f2f2" stroke-width="0.5"/>
<line x1="451.26" y1="132.4" x2="451.26" y2="164.6" stroke="#dadada" stroke-width="0.5"/>
<line x1="457.28" y1="132.4" x2="457.28" y2="164.6" stroke="#f2f2f2" stroke-width="0.5"/>
<line x1="463.29" y1="132.4" x2="463.29" y2="164.6" stroke="#f2f2f2" stroke-width="0.5"/>
<line x1="469.31" y1="132.4" x2="469.31" y2="164.6" stroke="#f2f2f2" stroke-width="0.5"/>
<line x1="475.32" y1="132.4" x2="475.32" y2="164.6" stroke="#f2f2f2" stroke-width="0.5"/>
<line x1="481.34" y1="132.4" x2="481.34" y2="164.6" stroke="#dadada" stroke-width="0.5"/>
<line x1="487.36" y1="132.4" x2="487.36" y2="164.6" stroke="#f2f2f2" stroke-width="0.5"/>
<line x1="493.37" y1="132.4" x2="493.37" y2="164.6" stroke="#f2f2f2" stroke-width="0.5"/>
<line x1="499.39" y1="132.4" x2="499.39" y2="164.6" stroke="#f2f2f2" stroke-width="0.5"/>
<line x1="505.4" y1="132.4" x2="505.4" y2="164.6" stroke="#f2f2f2" stroke-width="0.5"/>
<line x1="511.42" y1="132.4" x2="511.42" y2="164.6" stroke="#dadada" stroke-width="0.5"/>
<line x1="517.44" y1="132.4" x2="517.44" y2="164.6" stroke="#f2f2f2" stroke-width="0.5"/>
<line x1="523.45" y1="132.4" x2="523.45" y2="164.6" stroke="#f2f2f2" stroke-width="0.5"/>
<line x1="529.47" y1="132.4" x2="529.47" y2="164.6" stroke="#f2f2f2" stroke-width="0.5"/>
<line x1="535.48" y1="132.4" x2="535.48" y2="164.6" stroke="#f2f2f2" stroke-width="0.5"/>
<line x1="541.5" y1="132.4" x2="541.5" y2="164.6" stroke="#dadada" stroke-width="0.5"/>
<line x1="391" y1="160.57" x2="543.4" y2="160.57" stroke="#f2f2f2" stroke-width="0.5"/>
<line x1="391" y1="156.55" x2="543.4" y2="156.55" stroke="#dadada" stroke-width="0.5"/>
<line x1="391" y1="152.53" x2="543.4" y2="152.53" stroke="#f2f2f2" stroke-width="0.5"/>
<line x1="391" y1="148.5" x2="543.4" y2="148.5" stroke="#dadada" stroke-width="0.5"/>
<line x1="391" y1="144.47" x2="543.4" y2="144.47" stroke="#f2f2f2" stroke-width="0.5"/>
<line x1="391" y1="140.45" x2="543.4" y2="140.45" stroke="#dadada" stroke-width="0.5"/>
<line x1="391" y1="136.43" x2="543.4" y2="136.43" stroke="#f2f2f2" stroke-width="0.5"/>
<line x1="391.1" y1="164.6" x2="391.1" y2="163.1" stroke="#777" stroke-width="0.6"/>
<line x1="397.12" y1="164.6" x2="397.12" y2="163.7" stroke="#777" stroke-width="0.6"/>
<line x1="403.13" y1="164.6" x2="403.13" y2="163.7" stroke="#777" stroke-width="0.6"/>
<line x1="409.15" y1="164.6" x2="409.15" y2="163.7" stroke="#777" stroke-width="0.6"/>
<line x1="415.16" y1="164.6" x2="415.16" y2="163.7" stroke="#777" stroke-width="0.6"/>
<line x1="421.18" y1="164.6" x2="421.18" y2="163.1" stroke="#777" stroke-width="0.6"/>
<line x1="427.2" y1="164.6" x2="427.2" y2="163.7" stroke="#777" stroke-width="0.6"/>
<line x1="433.21" y1="164.6" x2="433.21" y2="163.7" stroke="#777" stroke-width="0.6"/>
<line x1="439.23" y1="164.6" x2="439.23" y2="163.7" stroke="#777" stroke-width="0.6"/>
<line x1="445.24" y1="164.6" x2="445.24" y2="163.7" stroke="#777" stroke-width="0.6"/>
<line x1="451.26" y1="164.6" x2="451.26" y2="163.1" stroke="#777" stroke-width="0.6"/>
<line x1="457.28" y1="164.6" x2="457.28" y2="163.7" stroke="#777" stroke-width="0.6"/>
<line x1="463.29" y1="164.6" x2="463.29" y2="163.7" stroke="#777" stroke-width="0.6"/>
<line x1="469.31" y1="164.6" x2="469.31" y2="163.7" stroke="#777" stroke-width="0.6"/>
<line x1="475.32" y1="164.6" x2="475.32" y2="163.7" stroke="#777" stroke-width="0.6"/>
<line x1="481.34" y1="164.6" x2="481.34" y2="163.1" stroke="#777" stroke-width="0.6"/>
<line x1="487.36" y1="164.6" x2="487.36" y2="163.7" stroke="#777" stroke-width="0.6"/>
<line x1="493.37" y1="164.6" x2="493.37" y2="163.7" stroke="#777" stroke-width="0.6"/>
<line x1="499.39" y1="164.6" x2="499.39" y2="163.7" stroke="#777" stroke-width="0.6"/>
<line x1="505.4" y1="164.6" x2="505.4" y2="163.7" stroke="#777" stroke-width="0.6"/>
<line x1="511.42" y1="164.6" x2="511.42" y2="163.1" stroke="#777" stroke-width="0.6"/>
<line x1="517.44" y1="164.6" x2="517.44" y2="163.7" stroke="#777" stroke-width="0.6"/>
<line x1="523.45" y1="164.6" x2="523.45" y2="163.7" stroke="#777" stroke-width="0.6"/>
<line x1="529.47" y1="164.6" x2="529.47" y2="163.7" stroke="#777" stroke-width="0.6"/>
<line x1="535.48" y1="164.6" x2="535.48" y2="163.7" stroke="#777" stroke-width="0.6"/>
<line x1="541.5" y1="164.6" x2="541.5" y2="163.1" stroke="#777" stroke-width="0.6"/>
<line x1="391" y1="164.6" x2="392.5" y2="164.6" stroke="#777" stroke-width="0.6"/>
<line x1="391" y1="162.59" x2="391.9" y2="162.59" stroke="#777" stroke-width="0.6"/>
<line x1="391" y1="160.57" x2="391.9" y2="160.57" stroke="#777" stroke-width="0.6"/>
<line x1="391" y1="158.56" x2="391.9" y2="158.56" stroke="#777" stroke-width="0.6"/>
<line x1="391" y1="156.55" x2="392.5" y2="156.55" stroke="#777" stroke-width="0.6"/>
<line x1="391" y1="154.54" x2="391.9" y2="154.54" stroke="#777" stroke-width="0.6"/>
<line x1="391" y1="152.53" x2="391.9" y2="152.53" stroke="#777" stroke-width="0.6"/>
<line x1="391" y1="150.51" x2="391.9" y2="150.51" stroke="#777" stroke-width="0.6"/>
<line x1="391" y1="148.5" x2="392.5" y2="148.5" stroke="#777" stroke-width="0.6"/>
<line x1="391" y1="146.49" x2="391.9" y2="146.49" stroke="#777" stroke-width="0.6"/>
<line x1="391" y1="144.47" x2="391.9" y2="144.47" stroke="#777" stroke-width="0.6"/>
<line x1="391" y1="142.46" x2="391.9" y2="142.46" stroke="#777" stroke-width="0.6"/>
<line x1="391" y1="140.45" x2="392.5" y2="140.45" stroke="#777" stroke-width="0.6"/>
<line x1="391" y1="138.44" x2="391.9" y2="138.44" stroke="#777" stroke-width="0.6"/>
<line x1="391" y1="136.43" x2="391.9" y2="136.43" stroke="#777" stroke-width="0.6"/>
<line x1="391" y1="134.41" x2="391.9" y2="134.41" stroke="#777" stroke-width="0.6"/>
<line x1="391" y1="132.4" x2="392.5" y2="132.4" stroke="#777" stroke-width="0.6"/>
<polyline points="391.1,144.87 391.4,145.13 391.7,145.41 392,145.7 392.3,146 392.6,146.32 392.9,146.64 393.21,146.97 393.51,147.31 393.81,147.65 394.11,148 394.41,148.35 394.71,148.7 395.01,149.05 395.31,149.41 395.61,149.76 395.91,150.11 396.21,150.45 396.51,150.79 396.82,151.12 397.12,151.44 397.42,151.76 397.72,152.06 398.02,152.35 398.32,152.63 398.62,152.9 398.92,153.15 399.22,153.39 399.52,153.61 399.82,153.81 400.12,154 400.42,154.16 400.73,154.31 401.03,154.44 401.33,154.55 401.63,154.63 401.93,154.7 402.23,154.75 402.53,154.77 402.83,154.78 403.13,154.76 403.43,154.72 403.73,154.66 404.03,154.58 404.34,154.48 404.64,154.35 404.94,154.21 405.24,154.05 405.54,153.87 405.84,153.68 406.14,153.46 406.44,153.23 406.74,152.98 407.04,152.72 407.34,152.45 407.64,152.16 407.94,151.86 408.25,151.55 408.55,151.23 408.85,150.9 409.15,150.56 409.45,150.22 409.75,149.87 410.05,149.52 410.35,149.17 410.65,148.82 410.95,148.46 411.25,148.11 411.55,147.76 411.86,147.42 412.16,147.08 412.46,146.74 412.76,146.42 413.06,146.1 413.36,145.8 413.66,145.5 413.96,145.22 414.26,144.95 414.56,144.7 414.86,144.46 415.16,144.23 415.46,144.03 415.77,143.84 416.07,143.67 416.37,143.52 416.67,143.38 416.97,143.27 417.27,143.18 417.57,143.11 417.87,143.06 418.17,143.03 418.47,143.02 418.77,143.04 419.07,143.07 419.38,143.13 419.68,143.21 419.98,143.3 420.28,143.42 420.58,143.56 420.88,143.72 421.18,143.89 421.48,144.08 421.78,144.3 422.08,144.52 422.38,144.77 422.68,145.03 422.98,145.3 423.29,145.59 423.59,145.88 423.89,146.19 424.19,146.51 424.49,146.84 424.79,147.17 425.09,147.51 425.39,147.86 425.69,148.21 425.99,148.56 426.29,148.92 426.59,149.27 426.9,149.62 427.2,149.97 427.5,150.32 427.8,150.66 428.1,150.99 428.4,151.32 428.7,151.64 429,151.94 429.3,152.24 429.6,152.53 429.9,152.8 430.2,153.05 430.5,153.3 430.81,153.52 431.11,153.73 431.41,153.93 431.71,154.1 432.01,154.26 432.31,154.39 432.61,154.51 432.91,154.6 433.21,154.68 433.51,154.73 433.81,154.76 434.11,154.78 434.42,154.77 434.72,154.74 435.02,154.68 435.32,154.61 435.62,154.52 435.92,154.4 436.22,154.27 436.52,154.12 436.82,153.94 437.12,153.75 437.42,153.55 437.72,153.32 438.02,153.08 438.33,152.82 438.63,152.55 438.93,152.27 439.23,151.97 439.53,151.67 439.83,151.35 440.13,151.03 440.43,150.69 440.73,150.35 441.03,150.01 441.33,149.66 441.63,149.31 441.94,148.95 442.24,148.6 442.54,148.25 442.84,147.9 443.14,147.55 443.44,147.21 443.74,146.87 444.04,146.54 444.34,146.23 444.64,145.92 444.94,145.62 445.24,145.33 445.54,145.05 445.85,144.79 446.15,144.55 446.45,144.32 446.75,144.11 447.05,143.91 447.35,143.73 447.65,143.57 447.95,143.43 448.25,143.31 448.55,143.21 448.85,143.14 449.15,143.08 449.46,143.04 449.76,143.02 450.06,143.03 450.36,143.06 450.66,143.1 450.96,143.17 451.26,143.26 451.56,143.37 451.86,143.5 452.16,143.65 452.46,143.82 452.76,144.01 453.06,144.21 453.37,144.43 453.67,144.67 453.97,144.92 454.27,145.19 454.57,145.47 454.87,145.77 455.17,146.07 455.47,146.39 455.77,146.71 456.07,147.04 456.37,147.38 456.67,147.73 456.98,148.07 457.28,148.43 457.58,148.78 457.88,149.13 458.18,149.49 458.48,149.84 458.78,150.18 459.08,150.53 459.38,150.86 459.68,151.19 459.98,151.51 460.28,151.83 460.58,152.13 460.89,152.42 461.19,152.69 461.49,152.96 461.79,153.2 462.09,153.44 462.39,153.65 462.69,153.85 462.99,154.03 463.29,154.2 463.59,154.34 463.89,154.46 464.19,154.57 464.5,154.65 464.8,154.71 465.1,154.75 465.4,154.77 465.7,154.77 466,154.75 466.3,154.71 466.6,154.64 466.9,154.56 467.2,154.45 467.5,154.32 467.8,154.18 468.1,154.01 468.41,153.83 468.71,153.63 469.01,153.41 469.31,153.18 469.61,152.93 469.91,152.66 470.21,152.38 470.51,152.09 470.81,151.79 471.11,151.48 471.41,151.15 471.71,150.82 472.02,150.48 472.32,150.14 472.62,149.79 472.92,149.44 473.22,149.09 473.52,148.74 473.82,148.38 474.12,148.03 474.42,147.68 474.72,147.34 475.02,147 475.32,146.67 475.62,146.35 475.93,146.03 476.23,145.73 476.53,145.44 476.83,145.16 477.13,144.89 477.43,144.64 477.73,144.41 478.03,144.19 478.33,143.98 478.63,143.8 478.93,143.63 479.23,143.49 479.54,143.36 479.84,143.25 480.14,143.16 480.44,143.1 480.74,143.05 481.04,143.03 481.34,143.02 481.64,143.04 481.94,143.08 482.24,143.14 482.54,143.23 482.84,143.33 483.14,143.45 483.45,143.59 483.75,143.75 484.05,143.93 484.35,144.13 484.65,144.35 484.95,144.58 485.25,144.82 485.55,145.09 485.85,145.36 486.15,145.65 486.45,145.95 486.75,146.26 487.06,146.58 487.36,146.91 487.66,147.25 487.96,147.59 488.26,147.94 488.56,148.29 488.86,148.64 489.16,149 489.46,149.35 489.76,149.7 490.06,150.05 490.36,150.39 490.66,150.73 490.97,151.07 491.27,151.39 491.57,151.71 491.87,152.01 492.17,152.31 492.47,152.59 492.77,152.86 493.07,153.11 493.37,153.35 493.67,153.57 493.97,153.78 494.27,153.97 494.58,154.14 494.88,154.29 495.18,154.42 495.48,154.53 495.78,154.62 496.08,154.69 496.38,154.74 496.68,154.77 496.98,154.78 497.28,154.76 497.58,154.73 497.88,154.67 498.18,154.59 498.49,154.49 498.79,154.38 499.09,154.24 499.39,154.08 499.69,153.9 499.99,153.71 500.29,153.5 500.59,153.27 500.89,153.02 501.19,152.77 501.49,152.49 501.79,152.21 502.1,151.91 502.4,151.6 502.7,151.28 503,150.95 503.3,150.62 503.6,150.28 503.9,149.93 504.2,149.58 504.5,149.23 504.8,148.87 505.1,148.52 505.4,148.17 505.7,147.82 506.01,147.47 506.31,147.13 506.61,146.8 506.91,146.47 507.21,146.16 507.51,145.85 507.81,145.55 508.11,145.27 508.41,145 508.71,144.74 509.01,144.5 509.31,144.27 509.62,144.06 509.92,143.87 510.22,143.7 510.52,143.54 510.82,143.41 511.12,143.29 511.42,143.19 511.72,143.12 512.02,143.07 512.32,143.03 512.62,143.02 512.92,143.03 513.22,143.07 513.53,143.12 513.83,143.19 514.13,143.29 514.43,143.4 514.73,143.53 515.03,143.69 515.33,143.86 515.63,144.05 515.93,144.26 516.23,144.49 516.53,144.73 516.83,144.98 517.14,145.25 517.44,145.54 517.74,145.83 518.04,146.14 518.34,146.46 518.64,146.78 518.94,147.12 519.24,147.46 519.54,147.8 519.84,148.15 520.14,148.5 520.44,148.86 520.74,149.21 521.05,149.56 521.35,149.91 521.65,150.26 521.95,150.6 522.25,150.94 522.55,151.26 522.85,151.58 523.15,151.89 523.45,152.19 523.75,152.48 524.05,152.75 524.35,153.01 524.66,153.26 524.96,153.49 525.26,153.7 525.56,153.9 525.86,154.07 526.16,154.23 526.46,154.37 526.76,154.49 527.06,154.59 527.36,154.67 527.66,154.72 527.96,154.76 528.26,154.78 528.57,154.77 528.87,154.74 529.17,154.69 529.47,154.62 529.77,154.53 530.07,154.42 530.37,154.29 530.67,154.14 530.97,153.97 531.27,153.79 531.57,153.58 531.87,153.36 532.18,153.12 532.48,152.87 532.78,152.6 533.08,152.32 533.38,152.02 533.68,151.72 533.98,151.4 534.28,151.08 534.58,150.75 534.88,150.41 535.18,150.06 535.48,149.72 535.78,149.36 536.09,149.01 536.39,148.66 536.69,148.3 536.99,147.95 537.29,147.61 537.59,147.26 537.89,146.93 538.19,146.6 538.49,146.28 538.79,145.97 539.09,145.66 539.39,145.38 539.7,145.1 540,144.84 540.3,144.59 540.6,144.36 540.9,144.14 541.2,143.94 541.5,143.76" fill="none" stroke="#f45a40" stroke-width="1.3" stroke-linejoin="round" stroke-linecap="butt"/>
<rect x="391" y="132.4" width="152.4" height="32.2" fill="none" stroke="#a2a2a2" stroke-width="1.0"/>
<rect x="451.5" y="134.4" width="73" height="5.8" fill="#fff" stroke="#c4c4c4" stroke-width="0.5"/>
<line x1="452.6" y1="137.3" x2="463.1" y2="137.3" stroke="#f45a40" stroke-width="1.1"/>
<text x="464.5" y="138.86" font-size="5.2" font-weight="bold" textLength="59" lengthAdjust="spacingAndGlyphs" fill="#111" stroke="#111" stroke-width="0.12">Cascode Output - Simulated</text>
<text x="389" y="165.94" font-size="6.5" text-anchor="end" fill="#1a1a1a" stroke="#1a1a1a" stroke-width="0.08">-2</text>
<text x="389" y="157.9" font-size="6.5" text-anchor="end" fill="#1a1a1a" stroke="#1a1a1a" stroke-width="0.08">-1</text>
<text x="389" y="149.84" font-size="6.5" text-anchor="end" fill="#1a1a1a" stroke="#1a1a1a" stroke-width="0.08">0</text>
<text x="389" y="141.79" font-size="6.5" text-anchor="end" fill="#1a1a1a" stroke="#1a1a1a" stroke-width="0.08">1</text>
<text x="389" y="133.75" font-size="6.5" text-anchor="end" fill="#1a1a1a" stroke="#1a1a1a" stroke-width="0.08">2</text>
<text x="391.3" y="171" font-size="6.5" text-anchor="middle" fill="#1a1a1a" stroke="#1a1a1a" stroke-width="0.08">0</text>
<text x="421.38" y="171" font-size="6.5" text-anchor="middle" fill="#1a1a1a" stroke="#1a1a1a" stroke-width="0.08">200</text>
<text x="451.46" y="171" font-size="6.5" text-anchor="middle" fill="#1a1a1a" stroke="#1a1a1a" stroke-width="0.08">400</text>
<text x="481.54" y="171" font-size="6.5" text-anchor="middle" fill="#1a1a1a" stroke="#1a1a1a" stroke-width="0.08">600</text>
<text x="511.62" y="171" font-size="6.5" text-anchor="middle" fill="#1a1a1a" stroke="#1a1a1a" stroke-width="0.08">800</text>
<text x="541.7" y="171" font-size="6.5" text-anchor="middle" fill="#1a1a1a" stroke="#1a1a1a" stroke-width="0.08">1000</text>
<text x="466.4" y="183.3" font-size="8.3" font-weight="bold" text-anchor="middle" fill="#111" stroke="#111" stroke-width="0.35">Time (ps)</text>
<text transform="translate(377.9,146.2) rotate(-90)" font-size="8.55" font-weight="bold" text-anchor="middle" fill="#111" stroke="#111" stroke-width="0.35">Voltage (V)</text>
<line x1="397.12" y1="193.5" x2="397.12" y2="226.4" stroke="#f2f2f2" stroke-width="0.5"/>
<line x1="403.13" y1="193.5" x2="403.13" y2="226.4" stroke="#f2f2f2" stroke-width="0.5"/>
<line x1="409.15" y1="193.5" x2="409.15" y2="226.4" stroke="#f2f2f2" stroke-width="0.5"/>
<line x1="415.16" y1="193.5" x2="415.16" y2="226.4" stroke="#f2f2f2" stroke-width="0.5"/>
<line x1="421.18" y1="193.5" x2="421.18" y2="226.4" stroke="#dadada" stroke-width="0.5"/>
<line x1="427.2" y1="193.5" x2="427.2" y2="226.4" stroke="#f2f2f2" stroke-width="0.5"/>
<line x1="433.21" y1="193.5" x2="433.21" y2="226.4" stroke="#f2f2f2" stroke-width="0.5"/>
<line x1="439.23" y1="193.5" x2="439.23" y2="226.4" stroke="#f2f2f2" stroke-width="0.5"/>
<line x1="445.24" y1="193.5" x2="445.24" y2="226.4" stroke="#f2f2f2" stroke-width="0.5"/>
<line x1="451.26" y1="193.5" x2="451.26" y2="226.4" stroke="#dadada" stroke-width="0.5"/>
<line x1="457.28" y1="193.5" x2="457.28" y2="226.4" stroke="#f2f2f2" stroke-width="0.5"/>
<line x1="463.29" y1="193.5" x2="463.29" y2="226.4" stroke="#f2f2f2" stroke-width="0.5"/>
<line x1="469.31" y1="193.5" x2="469.31" y2="226.4" stroke="#f2f2f2" stroke-width="0.5"/>
<line x1="475.32" y1="193.5" x2="475.32" y2="226.4" stroke="#f2f2f2" stroke-width="0.5"/>
<line x1="481.34" y1="193.5" x2="481.34" y2="226.4" stroke="#dadada" stroke-width="0.5"/>
<line x1="487.36" y1="193.5" x2="487.36" y2="226.4" stroke="#f2f2f2" stroke-width="0.5"/>
<line x1="493.37" y1="193.5" x2="493.37" y2="226.4" stroke="#f2f2f2" stroke-width="0.5"/>
<line x1="499.39" y1="193.5" x2="499.39" y2="226.4" stroke="#f2f2f2" stroke-width="0.5"/>
<line x1="505.4" y1="193.5" x2="505.4" y2="226.4" stroke="#f2f2f2" stroke-width="0.5"/>
<line x1="511.42" y1="193.5" x2="511.42" y2="226.4" stroke="#dadada" stroke-width="0.5"/>
<line x1="517.44" y1="193.5" x2="517.44" y2="226.4" stroke="#f2f2f2" stroke-width="0.5"/>
<line x1="523.45" y1="193.5" x2="523.45" y2="226.4" stroke="#f2f2f2" stroke-width="0.5"/>
<line x1="529.47" y1="193.5" x2="529.47" y2="226.4" stroke="#f2f2f2" stroke-width="0.5"/>
<line x1="535.48" y1="193.5" x2="535.48" y2="226.4" stroke="#f2f2f2" stroke-width="0.5"/>
<line x1="541.5" y1="193.5" x2="541.5" y2="226.4" stroke="#dadada" stroke-width="0.5"/>
<line x1="391" y1="222.29" x2="543.4" y2="222.29" stroke="#f2f2f2" stroke-width="0.5"/>
<line x1="391" y1="218.18" x2="543.4" y2="218.18" stroke="#dadada" stroke-width="0.5"/>
<line x1="391" y1="214.06" x2="543.4" y2="214.06" stroke="#f2f2f2" stroke-width="0.5"/>
<line x1="391" y1="209.95" x2="543.4" y2="209.95" stroke="#dadada" stroke-width="0.5"/>
<line x1="391" y1="205.84" x2="543.4" y2="205.84" stroke="#f2f2f2" stroke-width="0.5"/>
<line x1="391" y1="201.72" x2="543.4" y2="201.72" stroke="#dadada" stroke-width="0.5"/>
<line x1="391" y1="197.61" x2="543.4" y2="197.61" stroke="#f2f2f2" stroke-width="0.5"/>
<line x1="391.1" y1="226.4" x2="391.1" y2="224.9" stroke="#777" stroke-width="0.6"/>
<line x1="397.12" y1="226.4" x2="397.12" y2="225.5" stroke="#777" stroke-width="0.6"/>
<line x1="403.13" y1="226.4" x2="403.13" y2="225.5" stroke="#777" stroke-width="0.6"/>
<line x1="409.15" y1="226.4" x2="409.15" y2="225.5" stroke="#777" stroke-width="0.6"/>
<line x1="415.16" y1="226.4" x2="415.16" y2="225.5" stroke="#777" stroke-width="0.6"/>
<line x1="421.18" y1="226.4" x2="421.18" y2="224.9" stroke="#777" stroke-width="0.6"/>
<line x1="427.2" y1="226.4" x2="427.2" y2="225.5" stroke="#777" stroke-width="0.6"/>
<line x1="433.21" y1="226.4" x2="433.21" y2="225.5" stroke="#777" stroke-width="0.6"/>
<line x1="439.23" y1="226.4" x2="439.23" y2="225.5" stroke="#777" stroke-width="0.6"/>
<line x1="445.24" y1="226.4" x2="445.24" y2="225.5" stroke="#777" stroke-width="0.6"/>
<line x1="451.26" y1="226.4" x2="451.26" y2="224.9" stroke="#777" stroke-width="0.6"/>
<line x1="457.28" y1="226.4" x2="457.28" y2="225.5" stroke="#777" stroke-width="0.6"/>
<line x1="463.29" y1="226.4" x2="463.29" y2="225.5" stroke="#777" stroke-width="0.6"/>
<line x1="469.31" y1="226.4" x2="469.31" y2="225.5" stroke="#777" stroke-width="0.6"/>
<line x1="475.32" y1="226.4" x2="475.32" y2="225.5" stroke="#777" stroke-width="0.6"/>
<line x1="481.34" y1="226.4" x2="481.34" y2="224.9" stroke="#777" stroke-width="0.6"/>
<line x1="487.36" y1="226.4" x2="487.36" y2="225.5" stroke="#777" stroke-width="0.6"/>
<line x1="493.37" y1="226.4" x2="493.37" y2="225.5" stroke="#777" stroke-width="0.6"/>
<line x1="499.39" y1="226.4" x2="499.39" y2="225.5" stroke="#777" stroke-width="0.6"/>
<line x1="505.4" y1="226.4" x2="505.4" y2="225.5" stroke="#777" stroke-width="0.6"/>
<line x1="511.42" y1="226.4" x2="511.42" y2="224.9" stroke="#777" stroke-width="0.6"/>
<line x1="517.44" y1="226.4" x2="517.44" y2="225.5" stroke="#777" stroke-width="0.6"/>
<line x1="523.45" y1="226.4" x2="523.45" y2="225.5" stroke="#777" stroke-width="0.6"/>
<line x1="529.47" y1="226.4" x2="529.47" y2="225.5" stroke="#777" stroke-width="0.6"/>
<line x1="535.48" y1="226.4" x2="535.48" y2="225.5" stroke="#777" stroke-width="0.6"/>
<line x1="541.5" y1="226.4" x2="541.5" y2="224.9" stroke="#777" stroke-width="0.6"/>
<line x1="391" y1="226.4" x2="392.5" y2="226.4" stroke="#777" stroke-width="0.6"/>
<line x1="391" y1="224.34" x2="391.9" y2="224.34" stroke="#777" stroke-width="0.6"/>
<line x1="391" y1="222.29" x2="391.9" y2="222.29" stroke="#777" stroke-width="0.6"/>
<line x1="391" y1="220.23" x2="391.9" y2="220.23" stroke="#777" stroke-width="0.6"/>
<line x1="391" y1="218.18" x2="392.5" y2="218.18" stroke="#777" stroke-width="0.6"/>
<line x1="391" y1="216.12" x2="391.9" y2="216.12" stroke="#777" stroke-width="0.6"/>
<line x1="391" y1="214.06" x2="391.9" y2="214.06" stroke="#777" stroke-width="0.6"/>
<line x1="391" y1="212.01" x2="391.9" y2="212.01" stroke="#777" stroke-width="0.6"/>
<line x1="391" y1="209.95" x2="392.5" y2="209.95" stroke="#777" stroke-width="0.6"/>
<line x1="391" y1="207.89" x2="391.9" y2="207.89" stroke="#777" stroke-width="0.6"/>
<line x1="391" y1="205.84" x2="391.9" y2="205.84" stroke="#777" stroke-width="0.6"/>
<line x1="391" y1="203.78" x2="391.9" y2="203.78" stroke="#777" stroke-width="0.6"/>
<line x1="391" y1="201.72" x2="392.5" y2="201.72" stroke="#777" stroke-width="0.6"/>
<line x1="391" y1="199.67" x2="391.9" y2="199.67" stroke="#777" stroke-width="0.6"/>
<line x1="391" y1="197.61" x2="391.9" y2="197.61" stroke="#777" stroke-width="0.6"/>
<line x1="391" y1="195.56" x2="391.9" y2="195.56" stroke="#777" stroke-width="0.6"/>
<line x1="391" y1="193.5" x2="392.5" y2="193.5" stroke="#777" stroke-width="0.6"/>
<polyline points="391.1,216.72 391.4,216.88 391.7,217.02 392,217.13 392.3,217.22 392.6,217.29 392.9,217.33 393.21,217.34 393.51,217.33 393.81,217.29 394.11,217.23 394.41,217.15 394.71,217.04 395.01,216.9 395.31,216.74 395.61,216.56 395.91,216.36 396.21,216.13 396.51,215.89 396.82,215.62 397.12,215.34 397.42,215.03 397.72,214.71 398.02,214.38 398.32,214.03 398.62,213.66 398.92,213.29 399.22,212.9 399.52,212.51 399.82,212.1 400.12,211.69 400.42,211.28 400.73,210.86 401.03,210.44 401.33,210.02 401.63,209.6 401.93,209.19 402.23,208.78 402.53,208.37 402.83,207.97 403.13,207.58 403.43,207.2 403.73,206.83 404.03,206.48 404.34,206.13 404.64,205.81 404.94,205.5 405.24,205.2 405.54,204.93 405.84,204.67 406.14,204.44 406.44,204.22 406.74,204.03 407.04,203.86 407.34,203.72 407.64,203.6 407.94,203.5 408.25,203.43 408.55,203.38 408.85,203.36 409.15,203.36 409.45,203.39 409.75,203.45 410.05,203.52 410.35,203.63 410.65,203.75 410.95,203.9 411.25,204.08 411.55,204.28 411.86,204.49 412.16,204.73 412.46,204.99 412.76,205.27 413.06,205.57 413.36,205.89 413.66,206.22 413.96,206.56 414.26,206.92 414.56,207.29 414.86,207.68 415.16,208.07 415.46,208.47 415.77,208.88 416.07,209.29 416.37,209.71 416.67,210.13 416.97,210.55 417.27,210.97 417.57,211.38 417.87,211.8 418.17,212.2 418.47,212.61 418.77,213 419.07,213.38 419.38,213.75 419.68,214.12 419.98,214.46 420.28,214.79 420.58,215.11 420.88,215.41 421.18,215.69 421.48,215.95 421.78,216.19 422.08,216.41 422.38,216.61 422.68,216.79 422.98,216.94 423.29,217.07 423.59,217.17 423.89,217.25 424.19,217.31 424.49,217.34 424.79,217.34 425.09,217.32 425.39,217.27 425.69,217.2 425.99,217.11 426.29,216.99 426.59,216.84 426.9,216.68 427.2,216.49 427.5,216.28 427.8,216.04 428.1,215.79 428.4,215.51 428.7,215.22 429,214.91 429.3,214.59 429.6,214.25 429.9,213.89 430.2,213.52 430.5,213.14 430.81,212.75 431.11,212.35 431.41,211.95 431.71,211.54 432.01,211.12 432.31,210.7 432.61,210.28 432.91,209.86 433.21,209.45 433.51,209.03 433.81,208.62 434.11,208.22 434.42,207.82 434.72,207.44 435.02,207.06 435.32,206.7 435.62,206.34 435.92,206.01 436.22,205.69 436.52,205.38 436.82,205.1 437.12,204.83 437.42,204.58 437.72,204.35 438.02,204.15 438.33,203.97 438.63,203.81 438.93,203.67 439.23,203.56 439.53,203.47 439.83,203.41 440.13,203.37 440.43,203.36 440.73,203.37 441.03,203.41 441.33,203.47 441.63,203.56 441.94,203.67 442.24,203.81 442.54,203.97 442.84,204.15 443.14,204.36 443.44,204.58 443.74,204.83 444.04,205.1 444.34,205.38 444.64,205.69 444.94,206.01 445.24,206.35 445.54,206.7 445.85,207.06 446.15,207.44 446.45,207.83 446.75,208.22 447.05,208.63 447.35,209.03 447.65,209.45 447.95,209.87 448.25,210.29 448.55,210.71 448.85,211.12 449.15,211.54 449.46,211.95 449.76,212.36 450.06,212.76 450.36,213.15 450.66,213.52 450.96,213.89 451.26,214.25 451.56,214.59 451.86,214.92 452.16,215.23 452.46,215.52 452.76,215.79 453.06,216.04 453.37,216.28 453.67,216.49 453.97,216.68 454.27,216.85 454.57,216.99 454.87,217.11 455.17,217.2 455.47,217.27 455.77,217.32 456.07,217.34 456.37,217.34 456.67,217.31 456.98,217.25 457.28,217.17 457.58,217.07 457.88,216.94 458.18,216.78 458.48,216.61 458.78,216.41 459.08,216.19 459.38,215.95 459.68,215.69 459.98,215.41 460.28,215.11 460.58,214.79 460.89,214.46 461.19,214.11 461.49,213.75 461.79,213.38 462.09,213 462.39,212.6 462.69,212.2 462.99,211.79 463.29,211.38 463.59,210.96 463.89,210.54 464.19,210.12 464.5,209.71 464.8,209.29 465.1,208.88 465.4,208.47 465.7,208.07 466,207.67 466.3,207.29 466.6,206.92 466.9,206.56 467.2,206.21 467.5,205.88 467.8,205.57 468.1,205.27 468.41,204.99 468.71,204.73 469.01,204.49 469.31,204.27 469.61,204.08 469.91,203.9 470.21,203.75 470.51,203.63 470.81,203.52 471.11,203.44 471.41,203.39 471.71,203.36 472.02,203.36 472.32,203.38 472.62,203.43 472.92,203.5 473.22,203.6 473.52,203.72 473.82,203.87 474.12,204.03 474.42,204.23 474.72,204.44 475.02,204.67 475.32,204.93 475.62,205.2 475.93,205.5 476.23,205.81 476.53,206.14 476.83,206.48 477.13,206.83 477.43,207.2 477.73,207.58 478.03,207.97 478.33,208.37 478.63,208.78 478.93,209.19 479.23,209.61 479.54,210.03 479.84,210.45 480.14,210.87 480.44,211.28 480.74,211.7 481.04,212.11 481.34,212.51 481.64,212.9 481.94,213.29 482.24,213.67 482.54,214.03 482.84,214.38 483.14,214.71 483.45,215.03 483.75,215.34 484.05,215.62 484.35,215.89 484.65,216.14 484.95,216.36 485.25,216.56 485.55,216.74 485.85,216.9 486.15,217.04 486.45,217.15 486.75,217.23 487.06,217.29 487.36,217.33 487.66,217.34 487.96,217.33 488.26,217.29 488.56,217.22 488.86,217.13 489.16,217.02 489.46,216.88 489.76,216.72 490.06,216.54 490.36,216.33 490.66,216.1 490.97,215.85 491.27,215.58 491.57,215.3 491.87,214.99 492.17,214.67 492.47,214.33 492.77,213.98 493.07,213.61 493.37,213.23 493.67,212.85 493.97,212.45 494.27,212.05 494.58,211.64 494.88,211.22 495.18,210.8 495.48,210.38 495.78,209.97 496.08,209.55 496.38,209.13 496.68,208.72 496.98,208.32 497.28,207.92 497.58,207.53 497.88,207.15 498.18,206.78 498.49,206.43 498.79,206.09 499.09,205.76 499.39,205.45 499.69,205.16 499.99,204.89 500.29,204.64 500.59,204.41 500.89,204.2 501.19,204.01 501.49,203.84 501.79,203.7 502.1,203.58 502.4,203.49 502.7,203.42 503,203.38 503.3,203.36 503.6,203.37 503.9,203.4 504.2,203.45 504.5,203.54 504.8,203.64 505.1,203.77 505.4,203.93 505.7,204.1 506.01,204.3 506.31,204.53 506.61,204.77 506.91,205.03 507.21,205.31 507.51,205.61 507.81,205.93 508.11,206.26 508.41,206.61 508.71,206.97 509.01,207.35 509.31,207.73 509.62,208.12 509.92,208.53 510.22,208.94 510.52,209.35 510.82,209.77 511.12,210.18 511.42,210.6 511.72,211.02 512.02,211.44 512.32,211.85 512.62,212.26 512.92,212.66 513.22,213.05 513.53,213.43 513.83,213.8 514.13,214.16 514.43,214.51 514.73,214.84 515.03,215.15 515.33,215.45 515.63,215.73 515.93,215.98 516.23,216.22 516.53,216.44 516.83,216.64 517.14,216.81 517.44,216.96 517.74,217.08 518.04,217.18 518.34,217.26 518.64,217.31 518.94,217.34 519.24,217.34 519.54,217.31 519.84,217.27 520.14,217.19 520.44,217.09 520.74,216.97 521.05,216.82 521.35,216.65 521.65,216.46 521.95,216.24 522.25,216.01 522.55,215.75 522.85,215.48 523.15,215.18 523.45,214.87 523.75,214.54 524.05,214.2 524.35,213.84 524.66,213.47 524.96,213.09 525.26,212.7 525.56,212.3 525.86,211.89 526.16,211.48 526.46,211.06 526.76,210.65 527.06,210.23 527.36,209.81 527.66,209.39 527.96,208.98 528.26,208.57 528.57,208.16 528.87,207.77 529.17,207.38 529.47,207.01 529.77,206.65 530.07,206.3 530.37,205.96 530.67,205.64 530.97,205.34 531.27,205.06 531.57,204.79 531.87,204.55 532.18,204.33 532.48,204.12 532.78,203.94 533.08,203.79 533.38,203.65 533.68,203.55 533.98,203.46 534.28,203.4 534.58,203.37 534.88,203.36 535.18,203.38 535.48,203.42 535.78,203.48 536.09,203.57 536.39,203.69 536.69,203.83 536.99,203.99 537.29,204.18 537.59,204.39 537.89,204.62 538.19,204.87 538.49,205.14 538.79,205.43 539.09,205.73 539.39,206.06 539.7,206.39 540,206.75 540.3,207.11 540.6,207.49 540.9,207.88 541.2,208.28 541.5,208.68" fill="none" stroke="#9b3f8f" stroke-width="1.3" stroke-linejoin="round" stroke-linecap="butt"/>
<rect x="391" y="193.5" width="152.4" height="32.9" fill="none" stroke="#a2a2a2" stroke-width="1.0"/>
<rect x="451.5" y="195.8" width="76.2" height="5.8" fill="#fff" stroke="#c4c4c4" stroke-width="0.5"/>
<line x1="452.6" y1="198.7" x2="463.1" y2="198.7" stroke="#9b3f8f" stroke-width="1.1"/>
<text x="464.5" y="200.26" font-size="5.2" font-weight="bold" textLength="61.3" lengthAdjust="spacingAndGlyphs" fill="#111" stroke="#111" stroke-width="0.12">Cascode Output - Post layout</text>
<text x="389" y="227.75" font-size="6.5" text-anchor="end" fill="#1a1a1a" stroke="#1a1a1a" stroke-width="0.08">-2</text>
<text x="389" y="219.52" font-size="6.5" text-anchor="end" fill="#1a1a1a" stroke="#1a1a1a" stroke-width="0.08">-1</text>
<text x="389" y="211.29" font-size="6.5" text-anchor="end" fill="#1a1a1a" stroke="#1a1a1a" stroke-width="0.08">0</text>
<text x="389" y="203.07" font-size="6.5" text-anchor="end" fill="#1a1a1a" stroke="#1a1a1a" stroke-width="0.08">1</text>
<text x="389" y="194.84" font-size="6.5" text-anchor="end" fill="#1a1a1a" stroke="#1a1a1a" stroke-width="0.08">2</text>
<text x="391.3" y="232.8" font-size="6.5" text-anchor="middle" fill="#1a1a1a" stroke="#1a1a1a" stroke-width="0.08">0</text>
<text x="421.38" y="232.8" font-size="6.5" text-anchor="middle" fill="#1a1a1a" stroke="#1a1a1a" stroke-width="0.08">200</text>
<text x="451.46" y="232.8" font-size="6.5" text-anchor="middle" fill="#1a1a1a" stroke="#1a1a1a" stroke-width="0.08">400</text>
<text x="481.54" y="232.8" font-size="6.5" text-anchor="middle" fill="#1a1a1a" stroke="#1a1a1a" stroke-width="0.08">600</text>
<text x="511.62" y="232.8" font-size="6.5" text-anchor="middle" fill="#1a1a1a" stroke="#1a1a1a" stroke-width="0.08">800</text>
<text x="541.7" y="232.8" font-size="6.5" text-anchor="middle" fill="#1a1a1a" stroke="#1a1a1a" stroke-width="0.08">1000</text>
<text x="466.4" y="245.1" font-size="8.3" font-weight="bold" text-anchor="middle" fill="#111" stroke="#111" stroke-width="0.35">Time (ps)</text>
<text transform="translate(377.9,207.65) rotate(-90)" font-size="8.55" font-weight="bold" text-anchor="middle" fill="#111" stroke="#111" stroke-width="0.35">Voltage (V)</text>
<text x="76.6" y="267" textLength="12" lengthAdjust="spacingAndGlyphs" fill="#111"><tspan font-size="11.8">(</tspan><tspan font-size="11" font-weight="bold">a</tspan><tspan font-size="11.8">)</tspan></text>
<text x="254.6" y="267" textLength="14.4" lengthAdjust="spacingAndGlyphs" fill="#111"><tspan font-size="11.8">(</tspan><tspan font-size="11" font-weight="bold">b</tspan><tspan font-size="11.8">)</tspan></text>
<text x="455.5" y="267" textLength="11.8" lengthAdjust="spacingAndGlyphs" fill="#111"><tspan font-size="11.8">(</tspan><tspan font-size="11" font-weight="bold">c</tspan><tspan font-size="11.8">)</tspan></text>
</svg>
</body></html>
